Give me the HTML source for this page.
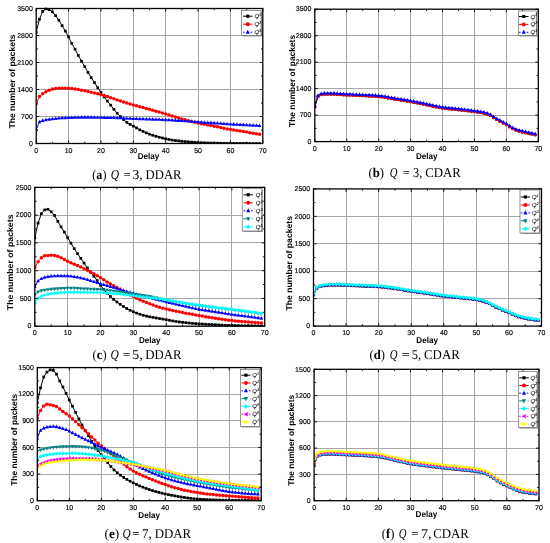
<!DOCTYPE html><html><head><meta charset="utf-8"><style>html,body{margin:0;padding:0;background:#fff;}svg{display:block;}</style></head><body><svg width="550" height="543" viewBox="0 0 550 543" text-rendering="geometricPrecision"><g stroke="#a6a6a6" stroke-width="1"><line x1="68.50" y1="8.50" x2="68.50" y2="143.50" /><line x1="100.50" y1="8.50" x2="100.50" y2="143.50" /><line x1="133.50" y1="8.50" x2="133.50" y2="143.50" /><line x1="165.50" y1="8.50" x2="165.50" y2="143.50" /><line x1="198.50" y1="8.50" x2="198.50" y2="143.50" /><line x1="230.50" y1="8.50" x2="230.50" y2="143.50" /><line x1="36.20" y1="116.50" x2="262.80" y2="116.50" /><line x1="36.20" y1="89.50" x2="262.80" y2="89.50" /><line x1="36.20" y1="62.50" x2="262.80" y2="62.50" /><line x1="36.20" y1="35.50" x2="262.80" y2="35.50" /></g><g clip-path="url(#clipa)"><path d="M36.20 32.41 L39.44 19.30 L42.67 11.39 L45.91 8.81 L49.15 9.62 L52.39 11.82 L55.62 15.71 L58.86 20.23 L62.10 25.63 L65.33 31.10 L68.57 36.93 L71.81 43.41 L75.05 49.19 L78.28 55.40 L81.52 61.23 L84.76 66.63 L87.99 72.41 L91.23 77.59 L94.47 82.56 L97.71 87.64 L100.94 92.51 L104.18 96.92 L107.42 101.11 L110.65 105.16 L113.89 109.30 L117.13 113.31 L120.37 116.52 L123.60 119.61 L126.84 122.37 L130.08 124.41 L133.31 126.14 L136.55 127.92 L139.79 129.88 L143.03 131.39 L146.26 132.82 L149.50 134.20 L152.74 135.28 L155.97 136.29 L159.21 137.21 L162.45 137.98 L165.69 138.79 L168.92 139.49 L172.16 140.11 L175.40 140.52 L178.63 140.88 L181.87 141.24 L185.11 141.57 L188.35 141.86 L191.58 142.11 L194.82 142.34 L198.06 142.54 L201.29 142.69 L204.53 142.82 L207.77 142.94 L211.01 143.04 L214.24 143.11 L217.48 143.18 L220.72 143.23 L223.95 143.28 L227.19 143.32 L230.43 143.35 L233.67 143.37 L236.90 143.40 L240.14 143.42 L243.38 143.44 L246.61 143.46 L249.85 143.48 L253.09 143.49 L256.33 143.50 L259.56 143.50" fill="none" stroke="#000000" stroke-width="1.0"/><rect x="34.85" y="31.06" width="2.70" height="2.70" fill="#000000"/><rect x="38.09" y="17.95" width="2.70" height="2.70" fill="#000000"/><rect x="41.32" y="10.04" width="2.70" height="2.70" fill="#000000"/><rect x="44.56" y="7.46" width="2.70" height="2.70" fill="#000000"/><rect x="47.80" y="8.27" width="2.70" height="2.70" fill="#000000"/><rect x="51.04" y="10.47" width="2.70" height="2.70" fill="#000000"/><rect x="54.27" y="14.36" width="2.70" height="2.70" fill="#000000"/><rect x="57.51" y="18.88" width="2.70" height="2.70" fill="#000000"/><rect x="60.75" y="24.28" width="2.70" height="2.70" fill="#000000"/><rect x="63.98" y="29.75" width="2.70" height="2.70" fill="#000000"/><rect x="67.22" y="35.58" width="2.70" height="2.70" fill="#000000"/><rect x="70.46" y="42.06" width="2.70" height="2.70" fill="#000000"/><rect x="73.70" y="47.84" width="2.70" height="2.70" fill="#000000"/><rect x="76.93" y="54.05" width="2.70" height="2.70" fill="#000000"/><rect x="80.17" y="59.88" width="2.70" height="2.70" fill="#000000"/><rect x="83.41" y="65.28" width="2.70" height="2.70" fill="#000000"/><rect x="86.64" y="71.06" width="2.70" height="2.70" fill="#000000"/><rect x="89.88" y="76.24" width="2.70" height="2.70" fill="#000000"/><rect x="93.12" y="81.21" width="2.70" height="2.70" fill="#000000"/><rect x="96.36" y="86.29" width="2.70" height="2.70" fill="#000000"/><rect x="99.59" y="91.16" width="2.70" height="2.70" fill="#000000"/><rect x="102.83" y="95.57" width="2.70" height="2.70" fill="#000000"/><rect x="106.07" y="99.76" width="2.70" height="2.70" fill="#000000"/><rect x="109.30" y="103.81" width="2.70" height="2.70" fill="#000000"/><rect x="112.54" y="107.95" width="2.70" height="2.70" fill="#000000"/><rect x="115.78" y="111.96" width="2.70" height="2.70" fill="#000000"/><rect x="119.02" y="115.17" width="2.70" height="2.70" fill="#000000"/><rect x="122.25" y="118.26" width="2.70" height="2.70" fill="#000000"/><rect x="125.49" y="121.02" width="2.70" height="2.70" fill="#000000"/><rect x="128.73" y="123.06" width="2.70" height="2.70" fill="#000000"/><rect x="131.96" y="124.79" width="2.70" height="2.70" fill="#000000"/><rect x="135.20" y="126.57" width="2.70" height="2.70" fill="#000000"/><rect x="138.44" y="128.53" width="2.70" height="2.70" fill="#000000"/><rect x="141.68" y="130.04" width="2.70" height="2.70" fill="#000000"/><rect x="144.91" y="131.47" width="2.70" height="2.70" fill="#000000"/><rect x="148.15" y="132.85" width="2.70" height="2.70" fill="#000000"/><rect x="151.39" y="133.93" width="2.70" height="2.70" fill="#000000"/><rect x="154.62" y="134.94" width="2.70" height="2.70" fill="#000000"/><rect x="157.86" y="135.86" width="2.70" height="2.70" fill="#000000"/><rect x="161.10" y="136.63" width="2.70" height="2.70" fill="#000000"/><rect x="164.34" y="137.44" width="2.70" height="2.70" fill="#000000"/><rect x="167.57" y="138.14" width="2.70" height="2.70" fill="#000000"/><rect x="170.81" y="138.76" width="2.70" height="2.70" fill="#000000"/><rect x="174.05" y="139.17" width="2.70" height="2.70" fill="#000000"/><rect x="177.28" y="139.53" width="2.70" height="2.70" fill="#000000"/><rect x="180.52" y="139.89" width="2.70" height="2.70" fill="#000000"/><rect x="183.76" y="140.22" width="2.70" height="2.70" fill="#000000"/><rect x="187.00" y="140.51" width="2.70" height="2.70" fill="#000000"/><rect x="190.23" y="140.76" width="2.70" height="2.70" fill="#000000"/><rect x="193.47" y="140.99" width="2.70" height="2.70" fill="#000000"/><rect x="196.71" y="141.19" width="2.70" height="2.70" fill="#000000"/><rect x="199.94" y="141.34" width="2.70" height="2.70" fill="#000000"/><rect x="203.18" y="141.47" width="2.70" height="2.70" fill="#000000"/><rect x="206.42" y="141.59" width="2.70" height="2.70" fill="#000000"/><rect x="209.66" y="141.69" width="2.70" height="2.70" fill="#000000"/><rect x="212.89" y="141.76" width="2.70" height="2.70" fill="#000000"/><rect x="216.13" y="141.83" width="2.70" height="2.70" fill="#000000"/><rect x="219.37" y="141.88" width="2.70" height="2.70" fill="#000000"/><rect x="222.60" y="141.93" width="2.70" height="2.70" fill="#000000"/><rect x="225.84" y="141.97" width="2.70" height="2.70" fill="#000000"/><rect x="229.08" y="142.00" width="2.70" height="2.70" fill="#000000"/><rect x="232.32" y="142.02" width="2.70" height="2.70" fill="#000000"/><rect x="235.55" y="142.05" width="2.70" height="2.70" fill="#000000"/><rect x="238.79" y="142.07" width="2.70" height="2.70" fill="#000000"/><rect x="242.03" y="142.09" width="2.70" height="2.70" fill="#000000"/><rect x="245.26" y="142.11" width="2.70" height="2.70" fill="#000000"/><rect x="248.50" y="142.13" width="2.70" height="2.70" fill="#000000"/><rect x="251.74" y="142.14" width="2.70" height="2.70" fill="#000000"/><rect x="254.98" y="142.15" width="2.70" height="2.70" fill="#000000"/><rect x="258.21" y="142.15" width="2.70" height="2.70" fill="#000000"/><path d="M36.20 103.73 L39.44 96.60 L42.67 93.74 L45.91 91.81 L49.15 90.19 L52.39 89.11 L55.62 88.54 L58.86 88.24 L62.10 88.19 L65.33 88.22 L68.57 88.27 L71.81 88.59 L75.05 89.11 L78.28 89.61 L81.52 90.15 L84.76 90.77 L87.99 91.49 L91.23 92.23 L94.47 92.95 L97.71 93.69 L100.94 94.51 L104.18 95.47 L107.42 96.55 L110.65 97.69 L113.89 98.83 L117.13 99.91 L120.37 100.95 L123.60 101.98 L126.84 102.98 L130.08 103.97 L133.31 104.93 L136.55 105.85 L139.79 106.73 L143.03 107.60 L146.26 108.47 L149.50 109.36 L152.74 110.27 L155.97 111.19 L159.21 112.11 L162.45 113.05 L165.69 113.99 L168.92 114.97 L172.16 115.97 L175.40 116.98 L178.63 117.96 L181.87 118.89 L185.11 119.79 L188.35 120.67 L191.58 121.51 L194.82 122.31 L198.06 123.06 L201.29 123.73 L204.53 124.35 L207.77 124.93 L211.01 125.52 L214.24 126.14 L217.48 126.81 L220.72 127.50 L223.95 128.20 L227.19 128.88 L230.43 129.50 L233.67 130.06 L236.90 130.59 L240.14 131.09 L243.38 131.60 L246.61 132.12 L249.85 132.66 L253.09 133.21 L256.33 133.76 L259.56 134.32" fill="none" stroke="#ff0000" stroke-width="1.0"/><circle cx="36.20" cy="103.73" r="1.75" fill="#ff0000"/><circle cx="39.44" cy="96.60" r="1.75" fill="#ff0000"/><circle cx="42.67" cy="93.74" r="1.75" fill="#ff0000"/><circle cx="45.91" cy="91.81" r="1.75" fill="#ff0000"/><circle cx="49.15" cy="90.19" r="1.75" fill="#ff0000"/><circle cx="52.39" cy="89.11" r="1.75" fill="#ff0000"/><circle cx="55.62" cy="88.54" r="1.75" fill="#ff0000"/><circle cx="58.86" cy="88.24" r="1.75" fill="#ff0000"/><circle cx="62.10" cy="88.19" r="1.75" fill="#ff0000"/><circle cx="65.33" cy="88.22" r="1.75" fill="#ff0000"/><circle cx="68.57" cy="88.27" r="1.75" fill="#ff0000"/><circle cx="71.81" cy="88.59" r="1.75" fill="#ff0000"/><circle cx="75.05" cy="89.11" r="1.75" fill="#ff0000"/><circle cx="78.28" cy="89.61" r="1.75" fill="#ff0000"/><circle cx="81.52" cy="90.15" r="1.75" fill="#ff0000"/><circle cx="84.76" cy="90.77" r="1.75" fill="#ff0000"/><circle cx="87.99" cy="91.49" r="1.75" fill="#ff0000"/><circle cx="91.23" cy="92.23" r="1.75" fill="#ff0000"/><circle cx="94.47" cy="92.95" r="1.75" fill="#ff0000"/><circle cx="97.71" cy="93.69" r="1.75" fill="#ff0000"/><circle cx="100.94" cy="94.51" r="1.75" fill="#ff0000"/><circle cx="104.18" cy="95.47" r="1.75" fill="#ff0000"/><circle cx="107.42" cy="96.55" r="1.75" fill="#ff0000"/><circle cx="110.65" cy="97.69" r="1.75" fill="#ff0000"/><circle cx="113.89" cy="98.83" r="1.75" fill="#ff0000"/><circle cx="117.13" cy="99.91" r="1.75" fill="#ff0000"/><circle cx="120.37" cy="100.95" r="1.75" fill="#ff0000"/><circle cx="123.60" cy="101.98" r="1.75" fill="#ff0000"/><circle cx="126.84" cy="102.98" r="1.75" fill="#ff0000"/><circle cx="130.08" cy="103.97" r="1.75" fill="#ff0000"/><circle cx="133.31" cy="104.93" r="1.75" fill="#ff0000"/><circle cx="136.55" cy="105.85" r="1.75" fill="#ff0000"/><circle cx="139.79" cy="106.73" r="1.75" fill="#ff0000"/><circle cx="143.03" cy="107.60" r="1.75" fill="#ff0000"/><circle cx="146.26" cy="108.47" r="1.75" fill="#ff0000"/><circle cx="149.50" cy="109.36" r="1.75" fill="#ff0000"/><circle cx="152.74" cy="110.27" r="1.75" fill="#ff0000"/><circle cx="155.97" cy="111.19" r="1.75" fill="#ff0000"/><circle cx="159.21" cy="112.11" r="1.75" fill="#ff0000"/><circle cx="162.45" cy="113.05" r="1.75" fill="#ff0000"/><circle cx="165.69" cy="113.99" r="1.75" fill="#ff0000"/><circle cx="168.92" cy="114.97" r="1.75" fill="#ff0000"/><circle cx="172.16" cy="115.97" r="1.75" fill="#ff0000"/><circle cx="175.40" cy="116.98" r="1.75" fill="#ff0000"/><circle cx="178.63" cy="117.96" r="1.75" fill="#ff0000"/><circle cx="181.87" cy="118.89" r="1.75" fill="#ff0000"/><circle cx="185.11" cy="119.79" r="1.75" fill="#ff0000"/><circle cx="188.35" cy="120.67" r="1.75" fill="#ff0000"/><circle cx="191.58" cy="121.51" r="1.75" fill="#ff0000"/><circle cx="194.82" cy="122.31" r="1.75" fill="#ff0000"/><circle cx="198.06" cy="123.06" r="1.75" fill="#ff0000"/><circle cx="201.29" cy="123.73" r="1.75" fill="#ff0000"/><circle cx="204.53" cy="124.35" r="1.75" fill="#ff0000"/><circle cx="207.77" cy="124.93" r="1.75" fill="#ff0000"/><circle cx="211.01" cy="125.52" r="1.75" fill="#ff0000"/><circle cx="214.24" cy="126.14" r="1.75" fill="#ff0000"/><circle cx="217.48" cy="126.81" r="1.75" fill="#ff0000"/><circle cx="220.72" cy="127.50" r="1.75" fill="#ff0000"/><circle cx="223.95" cy="128.20" r="1.75" fill="#ff0000"/><circle cx="227.19" cy="128.88" r="1.75" fill="#ff0000"/><circle cx="230.43" cy="129.50" r="1.75" fill="#ff0000"/><circle cx="233.67" cy="130.06" r="1.75" fill="#ff0000"/><circle cx="236.90" cy="130.59" r="1.75" fill="#ff0000"/><circle cx="240.14" cy="131.09" r="1.75" fill="#ff0000"/><circle cx="243.38" cy="131.60" r="1.75" fill="#ff0000"/><circle cx="246.61" cy="132.12" r="1.75" fill="#ff0000"/><circle cx="249.85" cy="132.66" r="1.75" fill="#ff0000"/><circle cx="253.09" cy="133.21" r="1.75" fill="#ff0000"/><circle cx="256.33" cy="133.76" r="1.75" fill="#ff0000"/><circle cx="259.56" cy="134.32" r="1.75" fill="#ff0000"/><path d="M36.20 129.50 L39.44 121.90 L42.67 120.51 L45.91 119.86 L49.15 119.39 L52.39 118.94 L55.62 118.55 L58.86 118.24 L62.10 118.00 L65.33 117.80 L68.57 117.66 L71.81 117.54 L75.05 117.44 L78.28 117.35 L81.52 117.29 L84.76 117.27 L87.99 117.28 L91.23 117.31 L94.47 117.36 L97.71 117.41 L100.94 117.46 L104.18 117.52 L107.42 117.59 L110.65 117.66 L113.89 117.75 L117.13 117.85 L120.37 117.97 L123.60 118.13 L126.84 118.30 L130.08 118.47 L133.31 118.62 L136.55 118.75 L139.79 118.87 L143.03 118.97 L146.26 119.08 L149.50 119.18 L152.74 119.28 L155.97 119.39 L159.21 119.51 L162.45 119.64 L165.69 119.78 L168.92 119.94 L172.16 120.12 L175.40 120.32 L178.63 120.53 L181.87 120.76 L185.11 120.99 L188.35 121.22 L191.58 121.45 L194.82 121.68 L198.06 121.90 L201.29 122.12 L204.53 122.34 L207.77 122.57 L211.01 122.80 L214.24 123.03 L217.48 123.26 L220.72 123.48 L223.95 123.70 L227.19 123.90 L230.43 124.10 L233.67 124.29 L236.90 124.47 L240.14 124.65 L243.38 124.82 L246.61 124.99 L249.85 125.15 L253.09 125.31 L256.33 125.46 L259.56 125.60" fill="none" stroke="#0000ff" stroke-width="1.0"/><path d="M36.20 127.30L38.00 130.86L34.40 130.86Z" fill="#0000ff"/><path d="M39.44 119.70L41.24 123.26L37.64 123.26Z" fill="#0000ff"/><path d="M42.67 118.31L44.47 121.88L40.87 121.88Z" fill="#0000ff"/><path d="M45.91 117.66L47.71 121.22L44.11 121.22Z" fill="#0000ff"/><path d="M49.15 117.19L50.95 120.76L47.35 120.76Z" fill="#0000ff"/><path d="M52.39 116.74L54.19 120.31L50.59 120.31Z" fill="#0000ff"/><path d="M55.62 116.35L57.42 119.91L53.82 119.91Z" fill="#0000ff"/><path d="M58.86 116.04L60.66 119.60L57.06 119.60Z" fill="#0000ff"/><path d="M62.10 115.80L63.90 119.36L60.30 119.36Z" fill="#0000ff"/><path d="M65.33 115.60L67.13 119.16L63.53 119.16Z" fill="#0000ff"/><path d="M68.57 115.46L70.37 119.02L66.77 119.02Z" fill="#0000ff"/><path d="M71.81 115.34L73.61 118.91L70.01 118.91Z" fill="#0000ff"/><path d="M75.05 115.24L76.85 118.80L73.25 118.80Z" fill="#0000ff"/><path d="M78.28 115.15L80.08 118.72L76.48 118.72Z" fill="#0000ff"/><path d="M81.52 115.09L83.32 118.66L79.72 118.66Z" fill="#0000ff"/><path d="M84.76 115.07L86.56 118.64L82.96 118.64Z" fill="#0000ff"/><path d="M87.99 115.08L89.79 118.65L86.19 118.65Z" fill="#0000ff"/><path d="M91.23 115.11L93.03 118.68L89.43 118.68Z" fill="#0000ff"/><path d="M94.47 115.16L96.27 118.72L92.67 118.72Z" fill="#0000ff"/><path d="M97.71 115.21L99.51 118.78L95.91 118.78Z" fill="#0000ff"/><path d="M100.94 115.26L102.74 118.83L99.14 118.83Z" fill="#0000ff"/><path d="M104.18 115.32L105.98 118.88L102.38 118.88Z" fill="#0000ff"/><path d="M107.42 115.39L109.22 118.95L105.62 118.95Z" fill="#0000ff"/><path d="M110.65 115.46L112.45 119.03L108.85 119.03Z" fill="#0000ff"/><path d="M113.89 115.55L115.69 119.12L112.09 119.12Z" fill="#0000ff"/><path d="M117.13 115.65L118.93 119.21L115.33 119.21Z" fill="#0000ff"/><path d="M120.37 115.77L122.17 119.34L118.57 119.34Z" fill="#0000ff"/><path d="M123.60 115.93L125.40 119.50L121.80 119.50Z" fill="#0000ff"/><path d="M126.84 116.10L128.64 119.67L125.04 119.67Z" fill="#0000ff"/><path d="M130.08 116.27L131.88 119.84L128.28 119.84Z" fill="#0000ff"/><path d="M133.31 116.42L135.11 119.99L131.51 119.99Z" fill="#0000ff"/><path d="M136.55 116.55L138.35 120.11L134.75 120.11Z" fill="#0000ff"/><path d="M139.79 116.67L141.59 120.23L137.99 120.23Z" fill="#0000ff"/><path d="M143.03 116.77L144.83 120.34L141.23 120.34Z" fill="#0000ff"/><path d="M146.26 116.88L148.06 120.44L144.46 120.44Z" fill="#0000ff"/><path d="M149.50 116.98L151.30 120.54L147.70 120.54Z" fill="#0000ff"/><path d="M152.74 117.08L154.54 120.65L150.94 120.65Z" fill="#0000ff"/><path d="M155.97 117.19L157.77 120.76L154.17 120.76Z" fill="#0000ff"/><path d="M159.21 117.31L161.01 120.87L157.41 120.87Z" fill="#0000ff"/><path d="M162.45 117.44L164.25 121.00L160.65 121.00Z" fill="#0000ff"/><path d="M165.69 117.58L167.49 121.14L163.89 121.14Z" fill="#0000ff"/><path d="M168.92 117.74L170.72 121.30L167.12 121.30Z" fill="#0000ff"/><path d="M172.16 117.92L173.96 121.49L170.36 121.49Z" fill="#0000ff"/><path d="M175.40 118.12L177.20 121.68L173.60 121.68Z" fill="#0000ff"/><path d="M178.63 118.33L180.43 121.90L176.83 121.90Z" fill="#0000ff"/><path d="M181.87 118.56L183.67 122.12L180.07 122.12Z" fill="#0000ff"/><path d="M185.11 118.79L186.91 122.35L183.31 122.35Z" fill="#0000ff"/><path d="M188.35 119.02L190.15 122.58L186.55 122.58Z" fill="#0000ff"/><path d="M191.58 119.25L193.38 122.81L189.78 122.81Z" fill="#0000ff"/><path d="M194.82 119.48L196.62 123.04L193.02 123.04Z" fill="#0000ff"/><path d="M198.06 119.70L199.86 123.26L196.26 123.26Z" fill="#0000ff"/><path d="M201.29 119.92L203.09 123.48L199.49 123.48Z" fill="#0000ff"/><path d="M204.53 120.14L206.33 123.71L202.73 123.71Z" fill="#0000ff"/><path d="M207.77 120.37L209.57 123.94L205.97 123.94Z" fill="#0000ff"/><path d="M211.01 120.60L212.81 124.17L209.21 124.17Z" fill="#0000ff"/><path d="M214.24 120.83L216.04 124.40L212.44 124.40Z" fill="#0000ff"/><path d="M217.48 121.06L219.28 124.62L215.68 124.62Z" fill="#0000ff"/><path d="M220.72 121.28L222.52 124.85L218.92 124.85Z" fill="#0000ff"/><path d="M223.95 121.50L225.75 125.06L222.15 125.06Z" fill="#0000ff"/><path d="M227.19 121.70L228.99 125.27L225.39 125.27Z" fill="#0000ff"/><path d="M230.43 121.90L232.23 125.46L228.63 125.46Z" fill="#0000ff"/><path d="M233.67 122.09L235.47 125.65L231.87 125.65Z" fill="#0000ff"/><path d="M236.90 122.27L238.70 125.83L235.10 125.83Z" fill="#0000ff"/><path d="M240.14 122.45L241.94 126.01L238.34 126.01Z" fill="#0000ff"/><path d="M243.38 122.62L245.18 126.18L241.58 126.18Z" fill="#0000ff"/><path d="M246.61 122.79L248.41 126.35L244.81 126.35Z" fill="#0000ff"/><path d="M249.85 122.95L251.65 126.51L248.05 126.51Z" fill="#0000ff"/><path d="M253.09 123.11L254.89 126.67L251.29 126.67Z" fill="#0000ff"/><path d="M256.33 123.26L258.13 126.82L254.53 126.82Z" fill="#0000ff"/><path d="M259.56 123.40L261.36 126.97L257.76 126.97Z" fill="#0000ff"/></g><clipPath id="clipa"><rect x="36.20" y="7.50" width="226.60" height="136.00"/></clipPath><path d="M36.20 143.50v-3.0M36.20 8.50v3.0M52.39 143.50v-1.8M52.39 8.50v1.8M68.57 143.50v-3.0M68.57 8.50v3.0M84.76 143.50v-1.8M84.76 8.50v1.8M100.94 143.50v-3.0M100.94 8.50v3.0M117.13 143.50v-1.8M117.13 8.50v1.8M133.31 143.50v-3.0M133.31 8.50v3.0M149.50 143.50v-1.8M149.50 8.50v1.8M165.69 143.50v-3.0M165.69 8.50v3.0M181.87 143.50v-1.8M181.87 8.50v1.8M198.06 143.50v-3.0M198.06 8.50v3.0M214.24 143.50v-1.8M214.24 8.50v1.8M230.43 143.50v-3.0M230.43 8.50v3.0M246.61 143.50v-1.8M246.61 8.50v1.8M262.80 143.50v-3.0M262.80 8.50v3.0M36.20 143.50h3.0M262.80 143.50h-3.0M36.20 130.00h1.8M262.80 130.00h-1.8M36.20 116.50h3.0M262.80 116.50h-3.0M36.20 103.00h1.8M262.80 103.00h-1.8M36.20 89.50h3.0M262.80 89.50h-3.0M36.20 76.00h1.8M262.80 76.00h-1.8M36.20 62.50h3.0M262.80 62.50h-3.0M36.20 49.00h1.8M262.80 49.00h-1.8M36.20 35.50h3.0M262.80 35.50h-3.0M36.20 22.00h1.8M262.80 22.00h-1.8M36.20 8.50h3.0M262.80 8.50h-3.0" stroke="#000" stroke-width="0.9" fill="none"/><rect x="36.20" y="8.50" width="226.60" height="135.00" fill="none" stroke="#000" stroke-width="1.3"/><g font-family='"Liberation Sans", Arial, sans-serif' font-size="7" fill="#000" stroke="#000" stroke-width="0.15"><text x="36.20" y="152.50" text-anchor="middle">0</text><text x="68.57" y="152.50" text-anchor="middle">10</text><text x="100.94" y="152.50" text-anchor="middle">20</text><text x="133.31" y="152.50" text-anchor="middle">30</text><text x="165.69" y="152.50" text-anchor="middle">40</text><text x="198.06" y="152.50" text-anchor="middle">50</text><text x="230.43" y="152.50" text-anchor="middle">60</text><text x="262.80" y="152.50" text-anchor="middle">70</text><text x="32.80" y="145.70" text-anchor="end">0</text><text x="32.80" y="118.70" text-anchor="end">700</text><text x="32.80" y="91.70" text-anchor="end">1400</text><text x="32.80" y="64.70" text-anchor="end">2100</text><text x="32.80" y="37.70" text-anchor="end">2800</text><text x="32.80" y="10.70" text-anchor="end">3500</text></g><text x="137.70" y="158.50" font-family='"Liberation Sans", Arial, sans-serif' font-weight="bold" font-size="8.5" textLength="21.6" lengthAdjust="spacingAndGlyphs" fill="#000">Delay</text><text transform="translate(14.50,81.50) rotate(-90)" x="0" y="0" text-anchor="middle" font-family='"Liberation Sans", Arial, sans-serif' font-weight="bold" font-size="8.4" textLength="94.2" lengthAdjust="spacingAndGlyphs" fill="#000">The number of packets</text><rect x="242.50" y="11.50" width="19.50" height="25.00" fill="#9a9a9a"/><rect x="241.50" y="10.50" width="19.50" height="25.00" fill="#fff" stroke="#555" stroke-width="0.6"/><line x1="243.00" y1="16.20" x2="252.50" y2="16.20" stroke="#000000" stroke-width="1.0"/><rect x="246.20" y="14.65" width="3.10" height="3.10" fill="#000000"/><text x="254.50" y="18.20" font-family='"Liberation Sans", Arial, sans-serif' font-style="italic" font-size="5.9" fill="#000" stroke="#000" stroke-width="0.05">Q<tspan font-size="3.8" dy="-2.3" stroke-width="0.05">1</tspan></text><line x1="243.00" y1="24.20" x2="252.50" y2="24.20" stroke="#ff0000" stroke-width="1.0"/><circle cx="247.75" cy="24.20" r="2.01" fill="#ff0000"/><text x="254.50" y="26.20" font-family='"Liberation Sans", Arial, sans-serif' font-style="italic" font-size="5.9" fill="#000" stroke="#000" stroke-width="0.05">Q<tspan font-size="3.8" dy="-2.3" stroke-width="0.05">2</tspan></text><line x1="243.00" y1="32.20" x2="252.50" y2="32.20" stroke="#0000ff" stroke-width="1.0" stroke-dasharray="1.6 2.2"/><path d="M247.75 29.67L249.82 33.77L245.68 33.77Z" fill="#0000ff"/><text x="254.50" y="34.20" font-family='"Liberation Sans", Arial, sans-serif' font-style="italic" font-size="5.9" fill="#000" stroke="#000" stroke-width="0.05">Q<tspan font-size="3.8" dy="-2.3" stroke-width="0.05">3</tspan></text><g stroke="#a6a6a6" stroke-width="1"><line x1="346.50" y1="9.20" x2="346.50" y2="141.60" /><line x1="378.50" y1="9.20" x2="378.50" y2="141.60" /><line x1="410.50" y1="9.20" x2="410.50" y2="141.60" /><line x1="442.50" y1="9.20" x2="442.50" y2="141.60" /><line x1="474.50" y1="9.20" x2="474.50" y2="141.60" /><line x1="506.50" y1="9.20" x2="506.50" y2="141.60" /><line x1="314.80" y1="115.50" x2="538.30" y2="115.50" /><line x1="314.80" y1="88.50" x2="538.30" y2="88.50" /><line x1="314.80" y1="62.50" x2="538.30" y2="62.50" /><line x1="314.80" y1="35.50" x2="538.30" y2="35.50" /></g><g clip-path="url(#clipb)"><path d="M314.80 106.84 L317.99 96.58 L321.19 94.69 L324.38 94.24 L327.57 94.24 L330.76 94.24 L333.96 94.30 L337.15 94.46 L340.34 94.67 L343.54 94.89 L346.73 95.07 L349.92 95.21 L353.11 95.35 L356.31 95.48 L359.50 95.61 L362.69 95.75 L365.89 95.89 L369.08 96.03 L372.27 96.18 L375.46 96.36 L378.66 96.58 L381.85 96.94 L385.04 97.45 L388.24 98.05 L391.43 98.67 L394.62 99.23 L397.81 99.74 L401.01 100.23 L404.20 100.72 L407.39 101.23 L410.59 101.77 L413.78 102.35 L416.97 102.97 L420.16 103.61 L423.36 104.26 L426.55 104.91 L429.74 105.58 L432.94 106.28 L436.13 106.97 L439.32 107.60 L442.51 108.12 L445.71 108.53 L448.90 108.87 L452.09 109.18 L455.29 109.49 L458.48 109.82 L461.67 110.18 L464.86 110.54 L468.06 110.91 L471.25 111.30 L474.44 111.72 L477.64 112.15 L480.83 112.66 L484.02 113.31 L487.21 114.17 L490.41 115.50 L493.60 117.77 L496.79 119.66 L499.99 121.36 L503.18 123.06 L506.37 124.77 L509.56 126.85 L512.76 128.74 L515.95 130.25 L519.14 131.20 L522.34 132.07 L525.53 132.79 L528.72 133.47 L531.91 134.15 L535.11 134.83" fill="none" stroke="#000000" stroke-width="1.0"/><rect x="313.45" y="105.49" width="2.70" height="2.70" fill="#000000"/><rect x="316.64" y="95.23" width="2.70" height="2.70" fill="#000000"/><rect x="319.84" y="93.34" width="2.70" height="2.70" fill="#000000"/><rect x="323.03" y="92.89" width="2.70" height="2.70" fill="#000000"/><rect x="326.22" y="92.89" width="2.70" height="2.70" fill="#000000"/><rect x="329.41" y="92.89" width="2.70" height="2.70" fill="#000000"/><rect x="332.61" y="92.95" width="2.70" height="2.70" fill="#000000"/><rect x="335.80" y="93.11" width="2.70" height="2.70" fill="#000000"/><rect x="338.99" y="93.32" width="2.70" height="2.70" fill="#000000"/><rect x="342.19" y="93.54" width="2.70" height="2.70" fill="#000000"/><rect x="345.38" y="93.72" width="2.70" height="2.70" fill="#000000"/><rect x="348.57" y="93.86" width="2.70" height="2.70" fill="#000000"/><rect x="351.76" y="94.00" width="2.70" height="2.70" fill="#000000"/><rect x="354.96" y="94.13" width="2.70" height="2.70" fill="#000000"/><rect x="358.15" y="94.26" width="2.70" height="2.70" fill="#000000"/><rect x="361.34" y="94.40" width="2.70" height="2.70" fill="#000000"/><rect x="364.54" y="94.54" width="2.70" height="2.70" fill="#000000"/><rect x="367.73" y="94.68" width="2.70" height="2.70" fill="#000000"/><rect x="370.92" y="94.83" width="2.70" height="2.70" fill="#000000"/><rect x="374.11" y="95.01" width="2.70" height="2.70" fill="#000000"/><rect x="377.31" y="95.23" width="2.70" height="2.70" fill="#000000"/><rect x="380.50" y="95.59" width="2.70" height="2.70" fill="#000000"/><rect x="383.69" y="96.10" width="2.70" height="2.70" fill="#000000"/><rect x="386.89" y="96.70" width="2.70" height="2.70" fill="#000000"/><rect x="390.08" y="97.32" width="2.70" height="2.70" fill="#000000"/><rect x="393.27" y="97.88" width="2.70" height="2.70" fill="#000000"/><rect x="396.46" y="98.39" width="2.70" height="2.70" fill="#000000"/><rect x="399.66" y="98.88" width="2.70" height="2.70" fill="#000000"/><rect x="402.85" y="99.37" width="2.70" height="2.70" fill="#000000"/><rect x="406.04" y="99.88" width="2.70" height="2.70" fill="#000000"/><rect x="409.24" y="100.42" width="2.70" height="2.70" fill="#000000"/><rect x="412.43" y="101.00" width="2.70" height="2.70" fill="#000000"/><rect x="415.62" y="101.62" width="2.70" height="2.70" fill="#000000"/><rect x="418.81" y="102.26" width="2.70" height="2.70" fill="#000000"/><rect x="422.01" y="102.91" width="2.70" height="2.70" fill="#000000"/><rect x="425.20" y="103.56" width="2.70" height="2.70" fill="#000000"/><rect x="428.39" y="104.23" width="2.70" height="2.70" fill="#000000"/><rect x="431.59" y="104.93" width="2.70" height="2.70" fill="#000000"/><rect x="434.78" y="105.62" width="2.70" height="2.70" fill="#000000"/><rect x="437.97" y="106.25" width="2.70" height="2.70" fill="#000000"/><rect x="441.16" y="106.77" width="2.70" height="2.70" fill="#000000"/><rect x="444.36" y="107.18" width="2.70" height="2.70" fill="#000000"/><rect x="447.55" y="107.52" width="2.70" height="2.70" fill="#000000"/><rect x="450.74" y="107.83" width="2.70" height="2.70" fill="#000000"/><rect x="453.94" y="108.14" width="2.70" height="2.70" fill="#000000"/><rect x="457.13" y="108.47" width="2.70" height="2.70" fill="#000000"/><rect x="460.32" y="108.83" width="2.70" height="2.70" fill="#000000"/><rect x="463.51" y="109.19" width="2.70" height="2.70" fill="#000000"/><rect x="466.71" y="109.56" width="2.70" height="2.70" fill="#000000"/><rect x="469.90" y="109.95" width="2.70" height="2.70" fill="#000000"/><rect x="473.09" y="110.37" width="2.70" height="2.70" fill="#000000"/><rect x="476.29" y="110.80" width="2.70" height="2.70" fill="#000000"/><rect x="479.48" y="111.31" width="2.70" height="2.70" fill="#000000"/><rect x="482.67" y="111.96" width="2.70" height="2.70" fill="#000000"/><rect x="485.86" y="112.82" width="2.70" height="2.70" fill="#000000"/><rect x="489.06" y="114.15" width="2.70" height="2.70" fill="#000000"/><rect x="492.25" y="116.42" width="2.70" height="2.70" fill="#000000"/><rect x="495.44" y="118.31" width="2.70" height="2.70" fill="#000000"/><rect x="498.64" y="120.01" width="2.70" height="2.70" fill="#000000"/><rect x="501.83" y="121.71" width="2.70" height="2.70" fill="#000000"/><rect x="505.02" y="123.42" width="2.70" height="2.70" fill="#000000"/><rect x="508.21" y="125.50" width="2.70" height="2.70" fill="#000000"/><rect x="511.41" y="127.39" width="2.70" height="2.70" fill="#000000"/><rect x="514.60" y="128.90" width="2.70" height="2.70" fill="#000000"/><rect x="517.79" y="129.85" width="2.70" height="2.70" fill="#000000"/><rect x="520.99" y="130.72" width="2.70" height="2.70" fill="#000000"/><rect x="524.18" y="131.44" width="2.70" height="2.70" fill="#000000"/><rect x="527.37" y="132.12" width="2.70" height="2.70" fill="#000000"/><rect x="530.56" y="132.80" width="2.70" height="2.70" fill="#000000"/><rect x="533.76" y="133.48" width="2.70" height="2.70" fill="#000000"/><path d="M314.80 106.68 L317.99 96.43 L321.19 94.54 L324.38 94.09 L327.57 94.09 L330.76 94.09 L333.96 94.15 L337.15 94.31 L340.34 94.52 L343.54 94.74 L346.73 94.92 L349.92 95.06 L353.11 95.20 L356.31 95.32 L359.50 95.46 L362.69 95.60 L365.89 95.74 L369.08 95.88 L372.27 96.03 L375.46 96.21 L378.66 96.43 L381.85 96.79 L385.04 97.30 L388.24 97.90 L391.43 98.51 L394.62 99.08 L397.81 99.59 L401.01 100.08 L404.20 100.57 L407.39 101.08 L410.59 101.62 L413.78 102.20 L416.97 102.82 L420.16 103.46 L423.36 104.11 L426.55 104.75 L429.74 105.42 L432.94 106.13 L436.13 106.82 L439.32 107.45 L442.51 107.97 L445.71 108.38 L448.90 108.72 L452.09 109.03 L455.29 109.34 L458.48 109.67 L461.67 110.03 L464.86 110.39 L468.06 110.76 L471.25 111.15 L474.44 111.56 L477.64 112.00 L480.83 112.51 L484.02 113.16 L487.21 114.02 L490.41 115.35 L493.60 117.62 L496.79 119.51 L499.99 121.21 L503.18 122.91 L506.37 124.61 L509.56 126.70 L512.76 128.59 L515.95 130.10 L519.14 131.05 L522.34 131.92 L525.53 132.63 L528.72 133.32 L531.91 134.00 L535.11 134.68" fill="none" stroke="#ff0000" stroke-width="1.0"/><circle cx="314.80" cy="106.68" r="1.75" fill="#ff0000"/><circle cx="317.99" cy="96.43" r="1.75" fill="#ff0000"/><circle cx="321.19" cy="94.54" r="1.75" fill="#ff0000"/><circle cx="324.38" cy="94.09" r="1.75" fill="#ff0000"/><circle cx="327.57" cy="94.09" r="1.75" fill="#ff0000"/><circle cx="330.76" cy="94.09" r="1.75" fill="#ff0000"/><circle cx="333.96" cy="94.15" r="1.75" fill="#ff0000"/><circle cx="337.15" cy="94.31" r="1.75" fill="#ff0000"/><circle cx="340.34" cy="94.52" r="1.75" fill="#ff0000"/><circle cx="343.54" cy="94.74" r="1.75" fill="#ff0000"/><circle cx="346.73" cy="94.92" r="1.75" fill="#ff0000"/><circle cx="349.92" cy="95.06" r="1.75" fill="#ff0000"/><circle cx="353.11" cy="95.20" r="1.75" fill="#ff0000"/><circle cx="356.31" cy="95.32" r="1.75" fill="#ff0000"/><circle cx="359.50" cy="95.46" r="1.75" fill="#ff0000"/><circle cx="362.69" cy="95.60" r="1.75" fill="#ff0000"/><circle cx="365.89" cy="95.74" r="1.75" fill="#ff0000"/><circle cx="369.08" cy="95.88" r="1.75" fill="#ff0000"/><circle cx="372.27" cy="96.03" r="1.75" fill="#ff0000"/><circle cx="375.46" cy="96.21" r="1.75" fill="#ff0000"/><circle cx="378.66" cy="96.43" r="1.75" fill="#ff0000"/><circle cx="381.85" cy="96.79" r="1.75" fill="#ff0000"/><circle cx="385.04" cy="97.30" r="1.75" fill="#ff0000"/><circle cx="388.24" cy="97.90" r="1.75" fill="#ff0000"/><circle cx="391.43" cy="98.51" r="1.75" fill="#ff0000"/><circle cx="394.62" cy="99.08" r="1.75" fill="#ff0000"/><circle cx="397.81" cy="99.59" r="1.75" fill="#ff0000"/><circle cx="401.01" cy="100.08" r="1.75" fill="#ff0000"/><circle cx="404.20" cy="100.57" r="1.75" fill="#ff0000"/><circle cx="407.39" cy="101.08" r="1.75" fill="#ff0000"/><circle cx="410.59" cy="101.62" r="1.75" fill="#ff0000"/><circle cx="413.78" cy="102.20" r="1.75" fill="#ff0000"/><circle cx="416.97" cy="102.82" r="1.75" fill="#ff0000"/><circle cx="420.16" cy="103.46" r="1.75" fill="#ff0000"/><circle cx="423.36" cy="104.11" r="1.75" fill="#ff0000"/><circle cx="426.55" cy="104.75" r="1.75" fill="#ff0000"/><circle cx="429.74" cy="105.42" r="1.75" fill="#ff0000"/><circle cx="432.94" cy="106.13" r="1.75" fill="#ff0000"/><circle cx="436.13" cy="106.82" r="1.75" fill="#ff0000"/><circle cx="439.32" cy="107.45" r="1.75" fill="#ff0000"/><circle cx="442.51" cy="107.97" r="1.75" fill="#ff0000"/><circle cx="445.71" cy="108.38" r="1.75" fill="#ff0000"/><circle cx="448.90" cy="108.72" r="1.75" fill="#ff0000"/><circle cx="452.09" cy="109.03" r="1.75" fill="#ff0000"/><circle cx="455.29" cy="109.34" r="1.75" fill="#ff0000"/><circle cx="458.48" cy="109.67" r="1.75" fill="#ff0000"/><circle cx="461.67" cy="110.03" r="1.75" fill="#ff0000"/><circle cx="464.86" cy="110.39" r="1.75" fill="#ff0000"/><circle cx="468.06" cy="110.76" r="1.75" fill="#ff0000"/><circle cx="471.25" cy="111.15" r="1.75" fill="#ff0000"/><circle cx="474.44" cy="111.56" r="1.75" fill="#ff0000"/><circle cx="477.64" cy="112.00" r="1.75" fill="#ff0000"/><circle cx="480.83" cy="112.51" r="1.75" fill="#ff0000"/><circle cx="484.02" cy="113.16" r="1.75" fill="#ff0000"/><circle cx="487.21" cy="114.02" r="1.75" fill="#ff0000"/><circle cx="490.41" cy="115.35" r="1.75" fill="#ff0000"/><circle cx="493.60" cy="117.62" r="1.75" fill="#ff0000"/><circle cx="496.79" cy="119.51" r="1.75" fill="#ff0000"/><circle cx="499.99" cy="121.21" r="1.75" fill="#ff0000"/><circle cx="503.18" cy="122.91" r="1.75" fill="#ff0000"/><circle cx="506.37" cy="124.61" r="1.75" fill="#ff0000"/><circle cx="509.56" cy="126.70" r="1.75" fill="#ff0000"/><circle cx="512.76" cy="128.59" r="1.75" fill="#ff0000"/><circle cx="515.95" cy="130.10" r="1.75" fill="#ff0000"/><circle cx="519.14" cy="131.05" r="1.75" fill="#ff0000"/><circle cx="522.34" cy="131.92" r="1.75" fill="#ff0000"/><circle cx="525.53" cy="132.63" r="1.75" fill="#ff0000"/><circle cx="528.72" cy="133.32" r="1.75" fill="#ff0000"/><circle cx="531.91" cy="134.00" r="1.75" fill="#ff0000"/><circle cx="535.11" cy="134.68" r="1.75" fill="#ff0000"/><path d="M314.80 105.78 L317.99 95.52 L321.19 93.63 L324.38 93.18 L327.57 93.18 L330.76 93.18 L333.96 93.24 L337.15 93.40 L340.34 93.61 L343.54 93.83 L346.73 94.01 L349.92 94.15 L353.11 94.29 L356.31 94.42 L359.50 94.55 L362.69 94.69 L365.89 94.83 L369.08 94.97 L372.27 95.12 L375.46 95.30 L378.66 95.52 L381.85 95.88 L385.04 96.39 L388.24 96.99 L391.43 97.61 L394.62 98.17 L397.81 98.68 L401.01 99.17 L404.20 99.66 L407.39 100.17 L410.59 100.71 L413.78 101.29 L416.97 101.91 L420.16 102.55 L423.36 103.20 L426.55 103.85 L429.74 104.52 L432.94 105.22 L436.13 105.92 L439.32 106.54 L442.51 107.06 L445.71 107.47 L448.90 107.81 L452.09 108.12 L455.29 108.43 L458.48 108.76 L461.67 109.12 L464.86 109.48 L468.06 109.85 L471.25 110.24 L474.44 110.66 L477.64 111.09 L480.83 111.60 L484.02 112.26 L487.21 113.12 L490.41 114.44 L493.60 116.71 L496.79 118.60 L499.99 120.30 L503.18 122.00 L506.37 123.71 L509.56 125.79 L512.76 127.68 L515.95 129.19 L519.14 130.14 L522.34 131.01 L525.53 131.73 L528.72 132.41 L531.91 133.09 L535.11 133.77" fill="none" stroke="#0000ff" stroke-width="1.0"/><path d="M314.80 103.58L316.60 107.14L313.00 107.14Z" fill="#0000ff"/><path d="M317.99 93.32L319.79 96.89L316.19 96.89Z" fill="#0000ff"/><path d="M321.19 91.43L322.99 95.00L319.39 95.00Z" fill="#0000ff"/><path d="M324.38 90.98L326.18 94.54L322.58 94.54Z" fill="#0000ff"/><path d="M327.57 90.98L329.37 94.54L325.77 94.54Z" fill="#0000ff"/><path d="M330.76 90.98L332.56 94.54L328.96 94.54Z" fill="#0000ff"/><path d="M333.96 91.04L335.76 94.61L332.16 94.61Z" fill="#0000ff"/><path d="M337.15 91.20L338.95 94.76L335.35 94.76Z" fill="#0000ff"/><path d="M340.34 91.41L342.14 94.97L338.54 94.97Z" fill="#0000ff"/><path d="M343.54 91.63L345.34 95.19L341.74 95.19Z" fill="#0000ff"/><path d="M346.73 91.81L348.53 95.38L344.93 95.38Z" fill="#0000ff"/><path d="M349.92 91.95L351.72 95.52L348.12 95.52Z" fill="#0000ff"/><path d="M353.11 92.09L354.91 95.65L351.31 95.65Z" fill="#0000ff"/><path d="M356.31 92.22L358.11 95.78L354.51 95.78Z" fill="#0000ff"/><path d="M359.50 92.35L361.30 95.91L357.70 95.91Z" fill="#0000ff"/><path d="M362.69 92.49L364.49 96.06L360.89 96.06Z" fill="#0000ff"/><path d="M365.89 92.63L367.69 96.20L364.09 96.20Z" fill="#0000ff"/><path d="M369.08 92.77L370.88 96.34L367.28 96.34Z" fill="#0000ff"/><path d="M372.27 92.92L374.07 96.49L370.47 96.49Z" fill="#0000ff"/><path d="M375.46 93.10L377.26 96.66L373.66 96.66Z" fill="#0000ff"/><path d="M378.66 93.32L380.46 96.89L376.86 96.89Z" fill="#0000ff"/><path d="M381.85 93.68L383.65 97.24L380.05 97.24Z" fill="#0000ff"/><path d="M385.04 94.19L386.84 97.75L383.24 97.75Z" fill="#0000ff"/><path d="M388.24 94.79L390.04 98.35L386.44 98.35Z" fill="#0000ff"/><path d="M391.43 95.41L393.23 98.97L389.63 98.97Z" fill="#0000ff"/><path d="M394.62 95.97L396.42 99.54L392.82 99.54Z" fill="#0000ff"/><path d="M397.81 96.48L399.61 100.04L396.01 100.04Z" fill="#0000ff"/><path d="M401.01 96.97L402.81 100.53L399.21 100.53Z" fill="#0000ff"/><path d="M404.20 97.46L406.00 101.02L402.40 101.02Z" fill="#0000ff"/><path d="M407.39 97.97L409.19 101.53L405.59 101.53Z" fill="#0000ff"/><path d="M410.59 98.51L412.39 102.07L408.79 102.07Z" fill="#0000ff"/><path d="M413.78 99.09L415.58 102.66L411.98 102.66Z" fill="#0000ff"/><path d="M416.97 99.71L418.77 103.28L415.17 103.28Z" fill="#0000ff"/><path d="M420.16 100.35L421.96 103.92L418.36 103.92Z" fill="#0000ff"/><path d="M423.36 101.00L425.16 104.57L421.56 104.57Z" fill="#0000ff"/><path d="M426.55 101.65L428.35 105.21L424.75 105.21Z" fill="#0000ff"/><path d="M429.74 102.32L431.54 105.88L427.94 105.88Z" fill="#0000ff"/><path d="M432.94 103.02L434.74 106.59L431.14 106.59Z" fill="#0000ff"/><path d="M436.13 103.72L437.93 107.28L434.33 107.28Z" fill="#0000ff"/><path d="M439.32 104.34L441.12 107.91L437.52 107.91Z" fill="#0000ff"/><path d="M442.51 104.86L444.31 108.43L440.71 108.43Z" fill="#0000ff"/><path d="M445.71 105.27L447.51 108.83L443.91 108.83Z" fill="#0000ff"/><path d="M448.90 105.61L450.70 109.17L447.10 109.17Z" fill="#0000ff"/><path d="M452.09 105.92L453.89 109.49L450.29 109.49Z" fill="#0000ff"/><path d="M455.29 106.23L457.09 109.79L453.49 109.79Z" fill="#0000ff"/><path d="M458.48 106.56L460.28 110.13L456.68 110.13Z" fill="#0000ff"/><path d="M461.67 106.92L463.47 110.49L459.87 110.49Z" fill="#0000ff"/><path d="M464.86 107.28L466.66 110.85L463.06 110.85Z" fill="#0000ff"/><path d="M468.06 107.65L469.86 111.22L466.26 111.22Z" fill="#0000ff"/><path d="M471.25 108.04L473.05 111.61L469.45 111.61Z" fill="#0000ff"/><path d="M474.44 108.46L476.24 112.02L472.64 112.02Z" fill="#0000ff"/><path d="M477.64 108.89L479.44 112.45L475.84 112.45Z" fill="#0000ff"/><path d="M480.83 109.40L482.63 112.97L479.03 112.97Z" fill="#0000ff"/><path d="M484.02 110.06L485.82 113.62L482.22 113.62Z" fill="#0000ff"/><path d="M487.21 110.92L489.01 114.48L485.41 114.48Z" fill="#0000ff"/><path d="M490.41 112.24L492.21 115.80L488.61 115.80Z" fill="#0000ff"/><path d="M493.60 114.51L495.40 118.07L491.80 118.07Z" fill="#0000ff"/><path d="M496.79 116.40L498.59 119.96L494.99 119.96Z" fill="#0000ff"/><path d="M499.99 118.10L501.79 121.67L498.19 121.67Z" fill="#0000ff"/><path d="M503.18 119.80L504.98 123.37L501.38 123.37Z" fill="#0000ff"/><path d="M506.37 121.51L508.17 125.07L504.57 125.07Z" fill="#0000ff"/><path d="M509.56 123.59L511.36 127.15L507.76 127.15Z" fill="#0000ff"/><path d="M512.76 125.48L514.56 129.04L510.96 129.04Z" fill="#0000ff"/><path d="M515.95 126.99L517.75 130.56L514.15 130.56Z" fill="#0000ff"/><path d="M519.14 127.94L520.94 131.50L517.34 131.50Z" fill="#0000ff"/><path d="M522.34 128.81L524.14 132.37L520.54 132.37Z" fill="#0000ff"/><path d="M525.53 129.53L527.33 133.09L523.73 133.09Z" fill="#0000ff"/><path d="M528.72 130.21L530.52 133.77L526.92 133.77Z" fill="#0000ff"/><path d="M531.91 130.89L533.71 134.45L530.11 134.45Z" fill="#0000ff"/><path d="M535.11 131.57L536.91 135.13L533.31 135.13Z" fill="#0000ff"/></g><clipPath id="clipb"><rect x="314.80" y="8.20" width="223.50" height="133.40"/></clipPath><path d="M314.80 141.60v-3.0M314.80 9.20v3.0M330.76 141.60v-1.8M330.76 9.20v1.8M346.73 141.60v-3.0M346.73 9.20v3.0M362.69 141.60v-1.8M362.69 9.20v1.8M378.66 141.60v-3.0M378.66 9.20v3.0M394.62 141.60v-1.8M394.62 9.20v1.8M410.59 141.60v-3.0M410.59 9.20v3.0M426.55 141.60v-1.8M426.55 9.20v1.8M442.51 141.60v-3.0M442.51 9.20v3.0M458.48 141.60v-1.8M458.48 9.20v1.8M474.44 141.60v-3.0M474.44 9.20v3.0M490.41 141.60v-1.8M490.41 9.20v1.8M506.37 141.60v-3.0M506.37 9.20v3.0M522.34 141.60v-1.8M522.34 9.20v1.8M538.30 141.60v-3.0M538.30 9.20v3.0M314.80 141.60h3.0M538.30 141.60h-3.0M314.80 128.36h1.8M538.30 128.36h-1.8M314.80 115.12h3.0M538.30 115.12h-3.0M314.80 101.88h1.8M538.30 101.88h-1.8M314.80 88.64h3.0M538.30 88.64h-3.0M314.80 75.40h1.8M538.30 75.40h-1.8M314.80 62.16h3.0M538.30 62.16h-3.0M314.80 48.92h1.8M538.30 48.92h-1.8M314.80 35.68h3.0M538.30 35.68h-3.0M314.80 22.44h1.8M538.30 22.44h-1.8M314.80 9.20h3.0M538.30 9.20h-3.0" stroke="#000" stroke-width="0.9" fill="none"/><rect x="314.80" y="9.20" width="223.50" height="132.40" fill="none" stroke="#000" stroke-width="1.3"/><g font-family='"Liberation Sans", Arial, sans-serif' font-size="7" fill="#000" stroke="#000" stroke-width="0.15"><text x="314.80" y="150.50" text-anchor="middle">0</text><text x="346.73" y="150.50" text-anchor="middle">10</text><text x="378.66" y="150.50" text-anchor="middle">20</text><text x="410.59" y="150.50" text-anchor="middle">30</text><text x="442.51" y="150.50" text-anchor="middle">40</text><text x="474.44" y="150.50" text-anchor="middle">50</text><text x="506.37" y="150.50" text-anchor="middle">60</text><text x="538.30" y="150.50" text-anchor="middle">70</text><text x="311.40" y="143.80" text-anchor="end">0</text><text x="311.40" y="117.32" text-anchor="end">700</text><text x="311.40" y="90.84" text-anchor="end">1400</text><text x="311.40" y="64.36" text-anchor="end">2100</text><text x="311.40" y="37.88" text-anchor="end">2800</text><text x="311.40" y="11.40" text-anchor="end">3500</text></g><text x="415.90" y="158.80" font-family='"Liberation Sans", Arial, sans-serif' font-weight="bold" font-size="8.5" textLength="21.6" lengthAdjust="spacingAndGlyphs" fill="#000">Delay</text><text transform="translate(295.00,80.90) rotate(-90)" x="0" y="0" text-anchor="middle" font-family='"Liberation Sans", Arial, sans-serif' font-weight="bold" font-size="8.4" textLength="92.0" lengthAdjust="spacingAndGlyphs" fill="#000">The number of packets</text><rect x="519.50" y="12.00" width="18.00" height="24.50" fill="#9a9a9a"/><rect x="518.50" y="11.00" width="18.00" height="24.50" fill="#fff" stroke="#555" stroke-width="0.6"/><line x1="519.00" y1="16.50" x2="528.50" y2="16.50" stroke="#000000" stroke-width="1.0"/><rect x="522.20" y="14.95" width="3.10" height="3.10" fill="#000000"/><text x="530.50" y="18.50" font-family='"Liberation Sans", Arial, sans-serif' font-style="italic" font-size="5.9" fill="#000" stroke="#000" stroke-width="0.05">Q<tspan font-size="3.8" dy="-2.3" stroke-width="0.05">1</tspan></text><line x1="519.00" y1="24.40" x2="528.50" y2="24.40" stroke="#ff0000" stroke-width="1.0"/><circle cx="523.75" cy="24.40" r="2.01" fill="#ff0000"/><text x="530.50" y="26.40" font-family='"Liberation Sans", Arial, sans-serif' font-style="italic" font-size="5.9" fill="#000" stroke="#000" stroke-width="0.05">Q<tspan font-size="3.8" dy="-2.3" stroke-width="0.05">2</tspan></text><line x1="519.00" y1="32.30" x2="528.50" y2="32.30" stroke="#0000ff" stroke-width="1.0" stroke-dasharray="1.6 2.2"/><path d="M523.75 29.77L525.82 33.87L521.68 33.87Z" fill="#0000ff"/><text x="530.50" y="34.30" font-family='"Liberation Sans", Arial, sans-serif' font-style="italic" font-size="5.9" fill="#000" stroke="#000" stroke-width="0.05">Q<tspan font-size="3.8" dy="-2.3" stroke-width="0.05">3</tspan></text><g stroke="#a6a6a6" stroke-width="1"><line x1="67.50" y1="187.40" x2="67.50" y2="326.20" /><line x1="100.50" y1="187.40" x2="100.50" y2="326.20" /><line x1="133.50" y1="187.40" x2="133.50" y2="326.20" /><line x1="166.50" y1="187.40" x2="166.50" y2="326.20" /><line x1="199.50" y1="187.40" x2="199.50" y2="326.20" /><line x1="231.50" y1="187.40" x2="231.50" y2="326.20" /><line x1="34.80" y1="298.50" x2="264.70" y2="298.50" /><line x1="34.80" y1="270.50" x2="264.70" y2="270.50" /><line x1="34.80" y1="242.50" x2="264.70" y2="242.50" /><line x1="34.80" y1="215.50" x2="264.70" y2="215.50" /></g><g clip-path="url(#clipc)"><path d="M34.80 237.98 L38.08 223.10 L41.37 213.66 L44.65 209.89 L47.94 209.27 L51.22 211.77 L54.51 215.38 L57.79 221.39 L61.07 226.85 L64.36 232.08 L67.64 237.62 L70.93 243.18 L74.21 248.64 L77.50 253.70 L80.78 258.35 L84.06 263.09 L87.35 267.98 L90.63 272.24 L93.92 276.26 L97.20 280.55 L100.49 285.23 L103.77 289.59 L107.05 293.15 L110.34 296.37 L113.62 299.32 L116.91 301.96 L120.19 304.34 L123.48 306.50 L126.76 308.51 L130.04 310.26 L133.33 311.77 L136.61 313.11 L139.90 314.26 L143.18 315.26 L146.47 316.13 L149.75 316.84 L153.03 317.43 L156.32 317.98 L159.60 318.54 L162.89 319.09 L166.17 319.65 L169.46 320.27 L172.74 320.90 L176.02 321.47 L179.31 321.93 L182.59 322.33 L185.88 322.70 L189.16 323.03 L192.45 323.34 L195.73 323.60 L199.01 323.84 L202.30 324.05 L205.58 324.25 L208.87 324.42 L212.15 324.59 L215.44 324.75 L218.72 324.91 L222.00 325.06 L225.29 325.21 L228.57 325.33 L231.86 325.42 L235.14 325.51 L238.43 325.59 L241.71 325.67 L244.99 325.74 L248.28 325.81 L251.56 325.86 L254.85 325.89 L258.13 325.92 L261.42 325.92" fill="none" stroke="#000000" stroke-width="1.0"/><rect x="33.45" y="236.63" width="2.70" height="2.70" fill="#000000"/><rect x="36.73" y="221.75" width="2.70" height="2.70" fill="#000000"/><rect x="40.02" y="212.31" width="2.70" height="2.70" fill="#000000"/><rect x="43.30" y="208.54" width="2.70" height="2.70" fill="#000000"/><rect x="46.59" y="207.92" width="2.70" height="2.70" fill="#000000"/><rect x="49.87" y="210.42" width="2.70" height="2.70" fill="#000000"/><rect x="53.16" y="214.03" width="2.70" height="2.70" fill="#000000"/><rect x="56.44" y="220.04" width="2.70" height="2.70" fill="#000000"/><rect x="59.72" y="225.50" width="2.70" height="2.70" fill="#000000"/><rect x="63.01" y="230.73" width="2.70" height="2.70" fill="#000000"/><rect x="66.29" y="236.27" width="2.70" height="2.70" fill="#000000"/><rect x="69.58" y="241.83" width="2.70" height="2.70" fill="#000000"/><rect x="72.86" y="247.29" width="2.70" height="2.70" fill="#000000"/><rect x="76.15" y="252.35" width="2.70" height="2.70" fill="#000000"/><rect x="79.43" y="257.00" width="2.70" height="2.70" fill="#000000"/><rect x="82.71" y="261.74" width="2.70" height="2.70" fill="#000000"/><rect x="86.00" y="266.63" width="2.70" height="2.70" fill="#000000"/><rect x="89.28" y="270.89" width="2.70" height="2.70" fill="#000000"/><rect x="92.57" y="274.91" width="2.70" height="2.70" fill="#000000"/><rect x="95.85" y="279.20" width="2.70" height="2.70" fill="#000000"/><rect x="99.14" y="283.88" width="2.70" height="2.70" fill="#000000"/><rect x="102.42" y="288.24" width="2.70" height="2.70" fill="#000000"/><rect x="105.70" y="291.80" width="2.70" height="2.70" fill="#000000"/><rect x="108.99" y="295.02" width="2.70" height="2.70" fill="#000000"/><rect x="112.27" y="297.97" width="2.70" height="2.70" fill="#000000"/><rect x="115.56" y="300.61" width="2.70" height="2.70" fill="#000000"/><rect x="118.84" y="302.99" width="2.70" height="2.70" fill="#000000"/><rect x="122.13" y="305.15" width="2.70" height="2.70" fill="#000000"/><rect x="125.41" y="307.16" width="2.70" height="2.70" fill="#000000"/><rect x="128.69" y="308.91" width="2.70" height="2.70" fill="#000000"/><rect x="131.98" y="310.42" width="2.70" height="2.70" fill="#000000"/><rect x="135.26" y="311.76" width="2.70" height="2.70" fill="#000000"/><rect x="138.55" y="312.91" width="2.70" height="2.70" fill="#000000"/><rect x="141.83" y="313.91" width="2.70" height="2.70" fill="#000000"/><rect x="145.12" y="314.78" width="2.70" height="2.70" fill="#000000"/><rect x="148.40" y="315.49" width="2.70" height="2.70" fill="#000000"/><rect x="151.68" y="316.08" width="2.70" height="2.70" fill="#000000"/><rect x="154.97" y="316.63" width="2.70" height="2.70" fill="#000000"/><rect x="158.25" y="317.19" width="2.70" height="2.70" fill="#000000"/><rect x="161.54" y="317.74" width="2.70" height="2.70" fill="#000000"/><rect x="164.82" y="318.30" width="2.70" height="2.70" fill="#000000"/><rect x="168.11" y="318.92" width="2.70" height="2.70" fill="#000000"/><rect x="171.39" y="319.55" width="2.70" height="2.70" fill="#000000"/><rect x="174.67" y="320.12" width="2.70" height="2.70" fill="#000000"/><rect x="177.96" y="320.58" width="2.70" height="2.70" fill="#000000"/><rect x="181.24" y="320.98" width="2.70" height="2.70" fill="#000000"/><rect x="184.53" y="321.35" width="2.70" height="2.70" fill="#000000"/><rect x="187.81" y="321.68" width="2.70" height="2.70" fill="#000000"/><rect x="191.10" y="321.99" width="2.70" height="2.70" fill="#000000"/><rect x="194.38" y="322.25" width="2.70" height="2.70" fill="#000000"/><rect x="197.66" y="322.49" width="2.70" height="2.70" fill="#000000"/><rect x="200.95" y="322.70" width="2.70" height="2.70" fill="#000000"/><rect x="204.23" y="322.90" width="2.70" height="2.70" fill="#000000"/><rect x="207.52" y="323.07" width="2.70" height="2.70" fill="#000000"/><rect x="210.80" y="323.24" width="2.70" height="2.70" fill="#000000"/><rect x="214.09" y="323.40" width="2.70" height="2.70" fill="#000000"/><rect x="217.37" y="323.56" width="2.70" height="2.70" fill="#000000"/><rect x="220.65" y="323.71" width="2.70" height="2.70" fill="#000000"/><rect x="223.94" y="323.86" width="2.70" height="2.70" fill="#000000"/><rect x="227.22" y="323.98" width="2.70" height="2.70" fill="#000000"/><rect x="230.51" y="324.07" width="2.70" height="2.70" fill="#000000"/><rect x="233.79" y="324.16" width="2.70" height="2.70" fill="#000000"/><rect x="237.08" y="324.24" width="2.70" height="2.70" fill="#000000"/><rect x="240.36" y="324.32" width="2.70" height="2.70" fill="#000000"/><rect x="243.64" y="324.39" width="2.70" height="2.70" fill="#000000"/><rect x="246.93" y="324.46" width="2.70" height="2.70" fill="#000000"/><rect x="250.21" y="324.51" width="2.70" height="2.70" fill="#000000"/><rect x="253.50" y="324.54" width="2.70" height="2.70" fill="#000000"/><rect x="256.78" y="324.57" width="2.70" height="2.70" fill="#000000"/><rect x="260.07" y="324.57" width="2.70" height="2.70" fill="#000000"/><path d="M34.80 267.46 L38.08 261.63 L41.37 257.74 L44.65 255.86 L47.94 255.41 L51.22 255.25 L54.51 255.55 L57.79 256.24 L61.07 257.67 L64.36 259.57 L67.64 261.23 L70.93 262.81 L74.21 264.21 L77.50 265.55 L80.78 267.06 L84.06 268.69 L87.35 270.31 L90.63 271.94 L93.92 273.71 L97.20 275.64 L100.49 277.67 L103.77 279.82 L107.05 281.94 L110.34 283.91 L113.62 285.76 L116.91 287.55 L120.19 289.33 L123.48 291.16 L126.76 293.03 L130.04 294.87 L133.33 296.61 L136.61 298.22 L139.90 299.76 L143.18 301.20 L146.47 302.55 L149.75 303.81 L153.03 305.01 L156.32 306.15 L159.60 307.21 L162.89 308.17 L166.17 309.02 L169.46 309.79 L172.74 310.51 L176.02 311.18 L179.31 311.84 L182.59 312.50 L185.88 313.13 L189.16 313.74 L192.45 314.34 L195.73 314.92 L199.01 315.50 L202.30 316.07 L205.58 316.63 L208.87 317.18 L212.15 317.71 L215.44 318.25 L218.72 318.80 L222.00 319.33 L225.29 319.83 L228.57 320.26 L231.86 320.61 L235.14 320.90 L238.43 321.17 L241.71 321.42 L244.99 321.68 L248.28 321.95 L251.56 322.21 L254.85 322.48 L258.13 322.74 L261.42 322.99" fill="none" stroke="#ff0000" stroke-width="1.0"/><circle cx="34.80" cy="267.46" r="1.75" fill="#ff0000"/><circle cx="38.08" cy="261.63" r="1.75" fill="#ff0000"/><circle cx="41.37" cy="257.74" r="1.75" fill="#ff0000"/><circle cx="44.65" cy="255.86" r="1.75" fill="#ff0000"/><circle cx="47.94" cy="255.41" r="1.75" fill="#ff0000"/><circle cx="51.22" cy="255.25" r="1.75" fill="#ff0000"/><circle cx="54.51" cy="255.55" r="1.75" fill="#ff0000"/><circle cx="57.79" cy="256.24" r="1.75" fill="#ff0000"/><circle cx="61.07" cy="257.67" r="1.75" fill="#ff0000"/><circle cx="64.36" cy="259.57" r="1.75" fill="#ff0000"/><circle cx="67.64" cy="261.23" r="1.75" fill="#ff0000"/><circle cx="70.93" cy="262.81" r="1.75" fill="#ff0000"/><circle cx="74.21" cy="264.21" r="1.75" fill="#ff0000"/><circle cx="77.50" cy="265.55" r="1.75" fill="#ff0000"/><circle cx="80.78" cy="267.06" r="1.75" fill="#ff0000"/><circle cx="84.06" cy="268.69" r="1.75" fill="#ff0000"/><circle cx="87.35" cy="270.31" r="1.75" fill="#ff0000"/><circle cx="90.63" cy="271.94" r="1.75" fill="#ff0000"/><circle cx="93.92" cy="273.71" r="1.75" fill="#ff0000"/><circle cx="97.20" cy="275.64" r="1.75" fill="#ff0000"/><circle cx="100.49" cy="277.67" r="1.75" fill="#ff0000"/><circle cx="103.77" cy="279.82" r="1.75" fill="#ff0000"/><circle cx="107.05" cy="281.94" r="1.75" fill="#ff0000"/><circle cx="110.34" cy="283.91" r="1.75" fill="#ff0000"/><circle cx="113.62" cy="285.76" r="1.75" fill="#ff0000"/><circle cx="116.91" cy="287.55" r="1.75" fill="#ff0000"/><circle cx="120.19" cy="289.33" r="1.75" fill="#ff0000"/><circle cx="123.48" cy="291.16" r="1.75" fill="#ff0000"/><circle cx="126.76" cy="293.03" r="1.75" fill="#ff0000"/><circle cx="130.04" cy="294.87" r="1.75" fill="#ff0000"/><circle cx="133.33" cy="296.61" r="1.75" fill="#ff0000"/><circle cx="136.61" cy="298.22" r="1.75" fill="#ff0000"/><circle cx="139.90" cy="299.76" r="1.75" fill="#ff0000"/><circle cx="143.18" cy="301.20" r="1.75" fill="#ff0000"/><circle cx="146.47" cy="302.55" r="1.75" fill="#ff0000"/><circle cx="149.75" cy="303.81" r="1.75" fill="#ff0000"/><circle cx="153.03" cy="305.01" r="1.75" fill="#ff0000"/><circle cx="156.32" cy="306.15" r="1.75" fill="#ff0000"/><circle cx="159.60" cy="307.21" r="1.75" fill="#ff0000"/><circle cx="162.89" cy="308.17" r="1.75" fill="#ff0000"/><circle cx="166.17" cy="309.02" r="1.75" fill="#ff0000"/><circle cx="169.46" cy="309.79" r="1.75" fill="#ff0000"/><circle cx="172.74" cy="310.51" r="1.75" fill="#ff0000"/><circle cx="176.02" cy="311.18" r="1.75" fill="#ff0000"/><circle cx="179.31" cy="311.84" r="1.75" fill="#ff0000"/><circle cx="182.59" cy="312.50" r="1.75" fill="#ff0000"/><circle cx="185.88" cy="313.13" r="1.75" fill="#ff0000"/><circle cx="189.16" cy="313.74" r="1.75" fill="#ff0000"/><circle cx="192.45" cy="314.34" r="1.75" fill="#ff0000"/><circle cx="195.73" cy="314.92" r="1.75" fill="#ff0000"/><circle cx="199.01" cy="315.50" r="1.75" fill="#ff0000"/><circle cx="202.30" cy="316.07" r="1.75" fill="#ff0000"/><circle cx="205.58" cy="316.63" r="1.75" fill="#ff0000"/><circle cx="208.87" cy="317.18" r="1.75" fill="#ff0000"/><circle cx="212.15" cy="317.71" r="1.75" fill="#ff0000"/><circle cx="215.44" cy="318.25" r="1.75" fill="#ff0000"/><circle cx="218.72" cy="318.80" r="1.75" fill="#ff0000"/><circle cx="222.00" cy="319.33" r="1.75" fill="#ff0000"/><circle cx="225.29" cy="319.83" r="1.75" fill="#ff0000"/><circle cx="228.57" cy="320.26" r="1.75" fill="#ff0000"/><circle cx="231.86" cy="320.61" r="1.75" fill="#ff0000"/><circle cx="235.14" cy="320.90" r="1.75" fill="#ff0000"/><circle cx="238.43" cy="321.17" r="1.75" fill="#ff0000"/><circle cx="241.71" cy="321.42" r="1.75" fill="#ff0000"/><circle cx="244.99" cy="321.68" r="1.75" fill="#ff0000"/><circle cx="248.28" cy="321.95" r="1.75" fill="#ff0000"/><circle cx="251.56" cy="322.21" r="1.75" fill="#ff0000"/><circle cx="254.85" cy="322.48" r="1.75" fill="#ff0000"/><circle cx="258.13" cy="322.74" r="1.75" fill="#ff0000"/><circle cx="261.42" cy="322.99" r="1.75" fill="#ff0000"/><path d="M34.80 286.73 L38.08 280.95 L41.37 278.58 L44.65 277.34 L47.94 276.73 L51.22 276.26 L54.51 275.95 L57.79 275.84 L61.07 275.84 L64.36 275.84 L67.64 275.85 L70.93 276.11 L74.21 276.61 L77.50 277.18 L80.78 277.87 L84.06 278.72 L87.35 279.64 L90.63 280.62 L93.92 281.69 L97.20 282.75 L100.49 283.73 L103.77 284.66 L107.05 285.59 L110.34 286.53 L113.62 287.51 L116.91 288.50 L120.19 289.51 L123.48 290.51 L126.76 291.53 L130.04 292.56 L133.33 293.56 L136.61 294.50 L139.90 295.35 L143.18 296.15 L146.47 296.93 L149.75 297.72 L153.03 298.53 L156.32 299.35 L159.60 300.16 L162.89 300.97 L166.17 301.77 L169.46 302.56 L172.74 303.35 L176.02 304.13 L179.31 304.90 L182.59 305.66 L185.88 306.42 L189.16 307.18 L192.45 307.93 L195.73 308.63 L199.01 309.27 L202.30 309.82 L205.58 310.32 L208.87 310.80 L212.15 311.27 L215.44 311.76 L218.72 312.30 L222.00 312.85 L225.29 313.41 L228.57 313.94 L231.86 314.43 L235.14 314.87 L238.43 315.28 L241.71 315.67 L244.99 316.07 L248.28 316.48 L251.56 316.92 L254.85 317.38 L258.13 317.84 L261.42 318.32" fill="none" stroke="#0000ff" stroke-width="1.0"/><path d="M34.80 284.53L36.60 288.09L33.00 288.09Z" fill="#0000ff"/><path d="M38.08 278.75L39.88 282.32L36.28 282.32Z" fill="#0000ff"/><path d="M41.37 276.38L43.17 279.95L39.57 279.95Z" fill="#0000ff"/><path d="M44.65 275.14L46.45 278.71L42.85 278.71Z" fill="#0000ff"/><path d="M47.94 274.53L49.74 278.10L46.14 278.10Z" fill="#0000ff"/><path d="M51.22 274.06L53.02 277.62L49.42 277.62Z" fill="#0000ff"/><path d="M54.51 273.75L56.31 277.32L52.71 277.32Z" fill="#0000ff"/><path d="M57.79 273.64L59.59 277.21L55.99 277.21Z" fill="#0000ff"/><path d="M61.07 273.64L62.87 277.21L59.27 277.21Z" fill="#0000ff"/><path d="M64.36 273.64L66.16 277.21L62.56 277.21Z" fill="#0000ff"/><path d="M67.64 273.65L69.44 277.22L65.84 277.22Z" fill="#0000ff"/><path d="M70.93 273.91L72.73 277.48L69.13 277.48Z" fill="#0000ff"/><path d="M74.21 274.41L76.01 277.98L72.41 277.98Z" fill="#0000ff"/><path d="M77.50 274.98L79.30 278.54L75.70 278.54Z" fill="#0000ff"/><path d="M80.78 275.67L82.58 279.23L78.98 279.23Z" fill="#0000ff"/><path d="M84.06 276.52L85.86 280.08L82.26 280.08Z" fill="#0000ff"/><path d="M87.35 277.44L89.15 281.00L85.55 281.00Z" fill="#0000ff"/><path d="M90.63 278.42L92.43 281.98L88.83 281.98Z" fill="#0000ff"/><path d="M93.92 279.49L95.72 283.05L92.12 283.05Z" fill="#0000ff"/><path d="M97.20 280.55L99.00 284.11L95.40 284.11Z" fill="#0000ff"/><path d="M100.49 281.53L102.29 285.09L98.69 285.09Z" fill="#0000ff"/><path d="M103.77 282.46L105.57 286.03L101.97 286.03Z" fill="#0000ff"/><path d="M107.05 283.39L108.85 286.95L105.25 286.95Z" fill="#0000ff"/><path d="M110.34 284.33L112.14 287.90L108.54 287.90Z" fill="#0000ff"/><path d="M113.62 285.31L115.42 288.87L111.82 288.87Z" fill="#0000ff"/><path d="M116.91 286.30L118.71 289.87L115.11 289.87Z" fill="#0000ff"/><path d="M120.19 287.31L121.99 290.87L118.39 290.87Z" fill="#0000ff"/><path d="M123.48 288.31L125.28 291.88L121.68 291.88Z" fill="#0000ff"/><path d="M126.76 289.33L128.56 292.89L124.96 292.89Z" fill="#0000ff"/><path d="M130.04 290.36L131.84 293.92L128.24 293.92Z" fill="#0000ff"/><path d="M133.33 291.36L135.13 294.92L131.53 294.92Z" fill="#0000ff"/><path d="M136.61 292.30L138.41 295.86L134.81 295.86Z" fill="#0000ff"/><path d="M139.90 293.15L141.70 296.71L138.10 296.71Z" fill="#0000ff"/><path d="M143.18 293.95L144.98 297.51L141.38 297.51Z" fill="#0000ff"/><path d="M146.47 294.73L148.27 298.29L144.67 298.29Z" fill="#0000ff"/><path d="M149.75 295.52L151.55 299.08L147.95 299.08Z" fill="#0000ff"/><path d="M153.03 296.33L154.83 299.89L151.23 299.89Z" fill="#0000ff"/><path d="M156.32 297.15L158.12 300.71L154.52 300.71Z" fill="#0000ff"/><path d="M159.60 297.96L161.40 301.52L157.80 301.52Z" fill="#0000ff"/><path d="M162.89 298.77L164.69 302.34L161.09 302.34Z" fill="#0000ff"/><path d="M166.17 299.57L167.97 303.14L164.37 303.14Z" fill="#0000ff"/><path d="M169.46 300.36L171.26 303.93L167.66 303.93Z" fill="#0000ff"/><path d="M172.74 301.15L174.54 304.72L170.94 304.72Z" fill="#0000ff"/><path d="M176.02 301.93L177.82 305.50L174.22 305.50Z" fill="#0000ff"/><path d="M179.31 302.70L181.11 306.27L177.51 306.27Z" fill="#0000ff"/><path d="M182.59 303.46L184.39 307.02L180.79 307.02Z" fill="#0000ff"/><path d="M185.88 304.22L187.68 307.78L184.08 307.78Z" fill="#0000ff"/><path d="M189.16 304.98L190.96 308.55L187.36 308.55Z" fill="#0000ff"/><path d="M192.45 305.73L194.25 309.29L190.65 309.29Z" fill="#0000ff"/><path d="M195.73 306.43L197.53 310.00L193.93 310.00Z" fill="#0000ff"/><path d="M199.01 307.07L200.81 310.63L197.21 310.63Z" fill="#0000ff"/><path d="M202.30 307.62L204.10 311.19L200.50 311.19Z" fill="#0000ff"/><path d="M205.58 308.12L207.38 311.69L203.78 311.69Z" fill="#0000ff"/><path d="M208.87 308.60L210.67 312.16L207.07 312.16Z" fill="#0000ff"/><path d="M212.15 309.07L213.95 312.63L210.35 312.63Z" fill="#0000ff"/><path d="M215.44 309.56L217.24 313.13L213.64 313.13Z" fill="#0000ff"/><path d="M218.72 310.10L220.52 313.66L216.92 313.66Z" fill="#0000ff"/><path d="M222.00 310.65L223.80 314.22L220.20 314.22Z" fill="#0000ff"/><path d="M225.29 311.21L227.09 314.77L223.49 314.77Z" fill="#0000ff"/><path d="M228.57 311.74L230.37 315.30L226.77 315.30Z" fill="#0000ff"/><path d="M231.86 312.23L233.66 315.79L230.06 315.79Z" fill="#0000ff"/><path d="M235.14 312.67L236.94 316.23L233.34 316.23Z" fill="#0000ff"/><path d="M238.43 313.08L240.23 316.64L236.63 316.64Z" fill="#0000ff"/><path d="M241.71 313.47L243.51 317.04L239.91 317.04Z" fill="#0000ff"/><path d="M244.99 313.87L246.79 317.43L243.19 317.43Z" fill="#0000ff"/><path d="M248.28 314.28L250.08 317.85L246.48 317.85Z" fill="#0000ff"/><path d="M251.56 314.72L253.36 318.29L249.76 318.29Z" fill="#0000ff"/><path d="M254.85 315.18L256.65 318.74L253.05 318.74Z" fill="#0000ff"/><path d="M258.13 315.64L259.93 319.21L256.33 319.21Z" fill="#0000ff"/><path d="M261.42 316.12L263.22 319.68L259.62 319.68Z" fill="#0000ff"/><path d="M34.80 294.50 L38.08 291.94 L41.37 290.73 L44.65 290.00 L47.94 289.56 L51.22 289.22 L54.51 288.96 L57.79 288.72 L61.07 288.48 L64.36 288.25 L67.64 288.07 L70.93 288.00 L74.21 288.09 L77.50 288.29 L80.78 288.53 L84.06 288.74 L87.35 288.90 L90.63 289.04 L93.92 289.19 L97.20 289.35 L100.49 289.56 L103.77 289.83 L107.05 290.18 L110.34 290.59 L113.62 291.04 L116.91 291.51 L120.19 291.99 L123.48 292.45 L126.76 292.91 L130.04 293.36 L133.33 293.82 L136.61 294.30 L139.90 294.79 L143.18 295.31 L146.47 295.86 L149.75 296.44 L153.03 297.10 L156.32 297.84 L159.60 298.63 L162.89 299.39 L166.17 300.11 L169.46 300.76 L172.74 301.40 L176.02 302.01 L179.31 302.60 L182.59 303.16 L185.88 303.70 L189.16 304.21 L192.45 304.70 L195.73 305.18 L199.01 305.66 L202.30 306.12 L205.58 306.58 L208.87 307.02 L212.15 307.45 L215.44 307.88 L218.72 308.29 L222.00 308.69 L225.29 309.08 L228.57 309.47 L231.86 309.88 L235.14 310.30 L238.43 310.73 L241.71 311.17 L244.99 311.61 L248.28 312.04 L251.56 312.47 L254.85 312.90 L258.13 313.33 L261.42 313.76" fill="none" stroke="#008080" stroke-width="1.0"/><path d="M34.80 296.70L36.60 293.13L33.00 293.13Z" fill="#008080"/><path d="M38.08 294.14L39.88 290.58L36.28 290.58Z" fill="#008080"/><path d="M41.37 292.93L43.17 289.37L39.57 289.37Z" fill="#008080"/><path d="M44.65 292.20L46.45 288.64L42.85 288.64Z" fill="#008080"/><path d="M47.94 291.76L49.74 288.19L46.14 288.19Z" fill="#008080"/><path d="M51.22 291.42L53.02 287.86L49.42 287.86Z" fill="#008080"/><path d="M54.51 291.16L56.31 287.59L52.71 287.59Z" fill="#008080"/><path d="M57.79 290.92L59.59 287.36L55.99 287.36Z" fill="#008080"/><path d="M61.07 290.68L62.87 287.12L59.27 287.12Z" fill="#008080"/><path d="M64.36 290.45L66.16 286.88L62.56 286.88Z" fill="#008080"/><path d="M67.64 290.27L69.44 286.71L65.84 286.71Z" fill="#008080"/><path d="M70.93 290.20L72.73 286.64L69.13 286.64Z" fill="#008080"/><path d="M74.21 290.29L76.01 286.72L72.41 286.72Z" fill="#008080"/><path d="M77.50 290.49L79.30 286.93L75.70 286.93Z" fill="#008080"/><path d="M80.78 290.73L82.58 287.17L78.98 287.17Z" fill="#008080"/><path d="M84.06 290.94L85.86 287.38L82.26 287.38Z" fill="#008080"/><path d="M87.35 291.10L89.15 287.53L85.55 287.53Z" fill="#008080"/><path d="M90.63 291.24L92.43 287.68L88.83 287.68Z" fill="#008080"/><path d="M93.92 291.39L95.72 287.82L92.12 287.82Z" fill="#008080"/><path d="M97.20 291.55L99.00 287.99L95.40 287.99Z" fill="#008080"/><path d="M100.49 291.76L102.29 288.19L98.69 288.19Z" fill="#008080"/><path d="M103.77 292.03L105.57 288.47L101.97 288.47Z" fill="#008080"/><path d="M107.05 292.38L108.85 288.81L105.25 288.81Z" fill="#008080"/><path d="M110.34 292.79L112.14 289.22L108.54 289.22Z" fill="#008080"/><path d="M113.62 293.24L115.42 289.67L111.82 289.67Z" fill="#008080"/><path d="M116.91 293.71L118.71 290.14L115.11 290.14Z" fill="#008080"/><path d="M120.19 294.19L121.99 290.62L118.39 290.62Z" fill="#008080"/><path d="M123.48 294.65L125.28 291.09L121.68 291.09Z" fill="#008080"/><path d="M126.76 295.11L128.56 291.54L124.96 291.54Z" fill="#008080"/><path d="M130.04 295.56L131.84 292.00L128.24 292.00Z" fill="#008080"/><path d="M133.33 296.02L135.13 292.46L131.53 292.46Z" fill="#008080"/><path d="M136.61 296.50L138.41 292.93L134.81 292.93Z" fill="#008080"/><path d="M139.90 296.99L141.70 293.43L138.10 293.43Z" fill="#008080"/><path d="M143.18 297.51L144.98 293.95L141.38 293.95Z" fill="#008080"/><path d="M146.47 298.06L148.27 294.49L144.67 294.49Z" fill="#008080"/><path d="M149.75 298.64L151.55 295.08L147.95 295.08Z" fill="#008080"/><path d="M153.03 299.30L154.83 295.74L151.23 295.74Z" fill="#008080"/><path d="M156.32 300.04L158.12 296.48L154.52 296.48Z" fill="#008080"/><path d="M159.60 300.83L161.40 297.26L157.80 297.26Z" fill="#008080"/><path d="M162.89 301.59L164.69 298.03L161.09 298.03Z" fill="#008080"/><path d="M166.17 302.31L167.97 298.74L164.37 298.74Z" fill="#008080"/><path d="M169.46 302.96L171.26 299.40L167.66 299.40Z" fill="#008080"/><path d="M172.74 303.60L174.54 300.03L170.94 300.03Z" fill="#008080"/><path d="M176.02 304.21L177.82 300.64L174.22 300.64Z" fill="#008080"/><path d="M179.31 304.80L181.11 301.23L177.51 301.23Z" fill="#008080"/><path d="M182.59 305.36L184.39 301.80L180.79 301.80Z" fill="#008080"/><path d="M185.88 305.90L187.68 302.33L184.08 302.33Z" fill="#008080"/><path d="M189.16 306.41L190.96 302.84L187.36 302.84Z" fill="#008080"/><path d="M192.45 306.90L194.25 303.34L190.65 303.34Z" fill="#008080"/><path d="M195.73 307.38L197.53 303.82L193.93 303.82Z" fill="#008080"/><path d="M199.01 307.86L200.81 304.29L197.21 304.29Z" fill="#008080"/><path d="M202.30 308.32L204.10 304.76L200.50 304.76Z" fill="#008080"/><path d="M205.58 308.78L207.38 305.21L203.78 305.21Z" fill="#008080"/><path d="M208.87 309.22L210.67 305.66L207.07 305.66Z" fill="#008080"/><path d="M212.15 309.65L213.95 306.09L210.35 306.09Z" fill="#008080"/><path d="M215.44 310.08L217.24 306.51L213.64 306.51Z" fill="#008080"/><path d="M218.72 310.49L220.52 306.93L216.92 306.93Z" fill="#008080"/><path d="M222.00 310.89L223.80 307.32L220.20 307.32Z" fill="#008080"/><path d="M225.29 311.28L227.09 307.71L223.49 307.71Z" fill="#008080"/><path d="M228.57 311.67L230.37 308.11L226.77 308.11Z" fill="#008080"/><path d="M231.86 312.08L233.66 308.51L230.06 308.51Z" fill="#008080"/><path d="M235.14 312.50L236.94 308.94L233.34 308.94Z" fill="#008080"/><path d="M238.43 312.93L240.23 309.37L236.63 309.37Z" fill="#008080"/><path d="M241.71 313.37L243.51 309.81L239.91 309.81Z" fill="#008080"/><path d="M244.99 313.81L246.79 310.24L243.19 310.24Z" fill="#008080"/><path d="M248.28 314.24L250.08 310.68L246.48 310.68Z" fill="#008080"/><path d="M251.56 314.67L253.36 311.11L249.76 311.11Z" fill="#008080"/><path d="M254.85 315.10L256.65 311.54L253.05 311.54Z" fill="#008080"/><path d="M258.13 315.53L259.93 311.97L256.33 311.97Z" fill="#008080"/><path d="M261.42 315.96L263.22 312.40L259.62 312.40Z" fill="#008080"/><path d="M34.80 302.94 L38.08 298.33 L41.37 296.31 L44.65 295.11 L47.94 294.32 L51.22 293.69 L54.51 293.22 L57.79 292.89 L61.07 292.64 L64.36 292.43 L67.64 292.28 L70.93 292.22 L74.21 292.23 L77.50 292.24 L80.78 292.26 L84.06 292.28 L87.35 292.31 L90.63 292.35 L93.92 292.39 L97.20 292.44 L100.49 292.50 L103.77 292.61 L107.05 292.81 L110.34 293.08 L113.62 293.40 L116.91 293.76 L120.19 294.12 L123.48 294.46 L126.76 294.81 L130.04 295.20 L133.33 295.60 L136.61 296.03 L139.90 296.46 L143.18 296.89 L146.47 297.32 L149.75 297.72 L153.03 298.09 L156.32 298.44 L159.60 298.80 L162.89 299.18 L166.17 299.61 L169.46 300.13 L172.74 300.73 L176.02 301.38 L179.31 302.02 L182.59 302.60 L185.88 303.14 L189.16 303.65 L192.45 304.15 L195.73 304.63 L199.01 305.10 L202.30 305.57 L205.58 306.02 L208.87 306.46 L212.15 306.90 L215.44 307.32 L218.72 307.73 L222.00 308.13 L225.29 308.52 L228.57 308.92 L231.86 309.32 L235.14 309.74 L238.43 310.18 L241.71 310.61 L244.99 311.05 L248.28 311.49 L251.56 311.92 L254.85 312.35 L258.13 312.78 L261.42 313.21" fill="none" stroke="#00ffff" stroke-width="1.0"/><path d="M34.80 300.94L36.80 302.94L34.80 304.94L32.80 302.94Z" fill="#00ffff"/><path d="M38.08 296.33L40.08 298.33L38.08 300.33L36.08 298.33Z" fill="#00ffff"/><path d="M41.37 294.31L43.37 296.31L41.37 298.31L39.37 296.31Z" fill="#00ffff"/><path d="M44.65 293.11L46.65 295.11L44.65 297.11L42.65 295.11Z" fill="#00ffff"/><path d="M47.94 292.32L49.94 294.32L47.94 296.32L45.94 294.32Z" fill="#00ffff"/><path d="M51.22 291.69L53.22 293.69L51.22 295.69L49.22 293.69Z" fill="#00ffff"/><path d="M54.51 291.22L56.51 293.22L54.51 295.22L52.51 293.22Z" fill="#00ffff"/><path d="M57.79 290.89L59.79 292.89L57.79 294.89L55.79 292.89Z" fill="#00ffff"/><path d="M61.07 290.64L63.07 292.64L61.07 294.64L59.07 292.64Z" fill="#00ffff"/><path d="M64.36 290.43L66.36 292.43L64.36 294.43L62.36 292.43Z" fill="#00ffff"/><path d="M67.64 290.28L69.64 292.28L67.64 294.28L65.64 292.28Z" fill="#00ffff"/><path d="M70.93 290.22L72.93 292.22L70.93 294.22L68.93 292.22Z" fill="#00ffff"/><path d="M74.21 290.23L76.21 292.23L74.21 294.23L72.21 292.23Z" fill="#00ffff"/><path d="M77.50 290.24L79.50 292.24L77.50 294.24L75.50 292.24Z" fill="#00ffff"/><path d="M80.78 290.26L82.78 292.26L80.78 294.26L78.78 292.26Z" fill="#00ffff"/><path d="M84.06 290.28L86.06 292.28L84.06 294.28L82.06 292.28Z" fill="#00ffff"/><path d="M87.35 290.31L89.35 292.31L87.35 294.31L85.35 292.31Z" fill="#00ffff"/><path d="M90.63 290.35L92.63 292.35L90.63 294.35L88.63 292.35Z" fill="#00ffff"/><path d="M93.92 290.39L95.92 292.39L93.92 294.39L91.92 292.39Z" fill="#00ffff"/><path d="M97.20 290.44L99.20 292.44L97.20 294.44L95.20 292.44Z" fill="#00ffff"/><path d="M100.49 290.50L102.49 292.50L100.49 294.50L98.49 292.50Z" fill="#00ffff"/><path d="M103.77 290.61L105.77 292.61L103.77 294.61L101.77 292.61Z" fill="#00ffff"/><path d="M107.05 290.81L109.05 292.81L107.05 294.81L105.05 292.81Z" fill="#00ffff"/><path d="M110.34 291.08L112.34 293.08L110.34 295.08L108.34 293.08Z" fill="#00ffff"/><path d="M113.62 291.40L115.62 293.40L113.62 295.40L111.62 293.40Z" fill="#00ffff"/><path d="M116.91 291.76L118.91 293.76L116.91 295.76L114.91 293.76Z" fill="#00ffff"/><path d="M120.19 292.12L122.19 294.12L120.19 296.12L118.19 294.12Z" fill="#00ffff"/><path d="M123.48 292.46L125.48 294.46L123.48 296.46L121.48 294.46Z" fill="#00ffff"/><path d="M126.76 292.81L128.76 294.81L126.76 296.81L124.76 294.81Z" fill="#00ffff"/><path d="M130.04 293.20L132.04 295.20L130.04 297.20L128.04 295.20Z" fill="#00ffff"/><path d="M133.33 293.60L135.33 295.60L133.33 297.60L131.33 295.60Z" fill="#00ffff"/><path d="M136.61 294.03L138.61 296.03L136.61 298.03L134.61 296.03Z" fill="#00ffff"/><path d="M139.90 294.46L141.90 296.46L139.90 298.46L137.90 296.46Z" fill="#00ffff"/><path d="M143.18 294.89L145.18 296.89L143.18 298.89L141.18 296.89Z" fill="#00ffff"/><path d="M146.47 295.32L148.47 297.32L146.47 299.32L144.47 297.32Z" fill="#00ffff"/><path d="M149.75 295.72L151.75 297.72L149.75 299.72L147.75 297.72Z" fill="#00ffff"/><path d="M153.03 296.09L155.03 298.09L153.03 300.09L151.03 298.09Z" fill="#00ffff"/><path d="M156.32 296.44L158.32 298.44L156.32 300.44L154.32 298.44Z" fill="#00ffff"/><path d="M159.60 296.80L161.60 298.80L159.60 300.80L157.60 298.80Z" fill="#00ffff"/><path d="M162.89 297.18L164.89 299.18L162.89 301.18L160.89 299.18Z" fill="#00ffff"/><path d="M166.17 297.61L168.17 299.61L166.17 301.61L164.17 299.61Z" fill="#00ffff"/><path d="M169.46 298.13L171.46 300.13L169.46 302.13L167.46 300.13Z" fill="#00ffff"/><path d="M172.74 298.73L174.74 300.73L172.74 302.73L170.74 300.73Z" fill="#00ffff"/><path d="M176.02 299.38L178.02 301.38L176.02 303.38L174.02 301.38Z" fill="#00ffff"/><path d="M179.31 300.02L181.31 302.02L179.31 304.02L177.31 302.02Z" fill="#00ffff"/><path d="M182.59 300.60L184.59 302.60L182.59 304.60L180.59 302.60Z" fill="#00ffff"/><path d="M185.88 301.14L187.88 303.14L185.88 305.14L183.88 303.14Z" fill="#00ffff"/><path d="M189.16 301.65L191.16 303.65L189.16 305.65L187.16 303.65Z" fill="#00ffff"/><path d="M192.45 302.15L194.45 304.15L192.45 306.15L190.45 304.15Z" fill="#00ffff"/><path d="M195.73 302.63L197.73 304.63L195.73 306.63L193.73 304.63Z" fill="#00ffff"/><path d="M199.01 303.10L201.01 305.10L199.01 307.10L197.01 305.10Z" fill="#00ffff"/><path d="M202.30 303.57L204.30 305.57L202.30 307.57L200.30 305.57Z" fill="#00ffff"/><path d="M205.58 304.02L207.58 306.02L205.58 308.02L203.58 306.02Z" fill="#00ffff"/><path d="M208.87 304.46L210.87 306.46L208.87 308.46L206.87 306.46Z" fill="#00ffff"/><path d="M212.15 304.90L214.15 306.90L212.15 308.90L210.15 306.90Z" fill="#00ffff"/><path d="M215.44 305.32L217.44 307.32L215.44 309.32L213.44 307.32Z" fill="#00ffff"/><path d="M218.72 305.73L220.72 307.73L218.72 309.73L216.72 307.73Z" fill="#00ffff"/><path d="M222.00 306.13L224.00 308.13L222.00 310.13L220.00 308.13Z" fill="#00ffff"/><path d="M225.29 306.52L227.29 308.52L225.29 310.52L223.29 308.52Z" fill="#00ffff"/><path d="M228.57 306.92L230.57 308.92L228.57 310.92L226.57 308.92Z" fill="#00ffff"/><path d="M231.86 307.32L233.86 309.32L231.86 311.32L229.86 309.32Z" fill="#00ffff"/><path d="M235.14 307.74L237.14 309.74L235.14 311.74L233.14 309.74Z" fill="#00ffff"/><path d="M238.43 308.18L240.43 310.18L238.43 312.18L236.43 310.18Z" fill="#00ffff"/><path d="M241.71 308.61L243.71 310.61L241.71 312.61L239.71 310.61Z" fill="#00ffff"/><path d="M244.99 309.05L246.99 311.05L244.99 313.05L242.99 311.05Z" fill="#00ffff"/><path d="M248.28 309.49L250.28 311.49L248.28 313.49L246.28 311.49Z" fill="#00ffff"/><path d="M251.56 309.92L253.56 311.92L251.56 313.92L249.56 311.92Z" fill="#00ffff"/><path d="M254.85 310.35L256.85 312.35L254.85 314.35L252.85 312.35Z" fill="#00ffff"/><path d="M258.13 310.78L260.13 312.78L258.13 314.78L256.13 312.78Z" fill="#00ffff"/><path d="M261.42 311.21L263.42 313.21L261.42 315.21L259.42 313.21Z" fill="#00ffff"/></g><clipPath id="clipc"><rect x="34.80" y="186.40" width="229.90" height="139.80"/></clipPath><path d="M34.80 326.20v-3.0M34.80 187.40v3.0M51.22 326.20v-1.8M51.22 187.40v1.8M67.64 326.20v-3.0M67.64 187.40v3.0M84.06 326.20v-1.8M84.06 187.40v1.8M100.49 326.20v-3.0M100.49 187.40v3.0M116.91 326.20v-1.8M116.91 187.40v1.8M133.33 326.20v-3.0M133.33 187.40v3.0M149.75 326.20v-1.8M149.75 187.40v1.8M166.17 326.20v-3.0M166.17 187.40v3.0M182.59 326.20v-1.8M182.59 187.40v1.8M199.01 326.20v-3.0M199.01 187.40v3.0M215.44 326.20v-1.8M215.44 187.40v1.8M231.86 326.20v-3.0M231.86 187.40v3.0M248.28 326.20v-1.8M248.28 187.40v1.8M264.70 326.20v-3.0M264.70 187.40v3.0M34.80 326.20h3.0M264.70 326.20h-3.0M34.80 312.32h1.8M264.70 312.32h-1.8M34.80 298.44h3.0M264.70 298.44h-3.0M34.80 284.56h1.8M264.70 284.56h-1.8M34.80 270.68h3.0M264.70 270.68h-3.0M34.80 256.80h1.8M264.70 256.80h-1.8M34.80 242.92h3.0M264.70 242.92h-3.0M34.80 229.04h1.8M264.70 229.04h-1.8M34.80 215.16h3.0M264.70 215.16h-3.0M34.80 201.28h1.8M264.70 201.28h-1.8M34.80 187.40h3.0M264.70 187.40h-3.0" stroke="#000" stroke-width="0.9" fill="none"/><rect x="34.80" y="187.40" width="229.90" height="138.80" fill="none" stroke="#000" stroke-width="1.3"/><g font-family='"Liberation Sans", Arial, sans-serif' font-size="7" fill="#000" stroke="#000" stroke-width="0.15"><text x="34.80" y="335.00" text-anchor="middle">0</text><text x="67.64" y="335.00" text-anchor="middle">10</text><text x="100.49" y="335.00" text-anchor="middle">20</text><text x="133.33" y="335.00" text-anchor="middle">30</text><text x="166.17" y="335.00" text-anchor="middle">40</text><text x="199.01" y="335.00" text-anchor="middle">50</text><text x="231.86" y="335.00" text-anchor="middle">60</text><text x="264.70" y="335.00" text-anchor="middle">70</text><text x="31.40" y="328.40" text-anchor="end">0</text><text x="31.40" y="300.64" text-anchor="end">500</text><text x="31.40" y="272.88" text-anchor="end">1000</text><text x="31.40" y="245.12" text-anchor="end">1500</text><text x="31.40" y="217.36" text-anchor="end">2000</text><text x="31.40" y="189.60" text-anchor="end">2500</text></g><text x="138.90" y="342.80" font-family='"Liberation Sans", Arial, sans-serif' font-weight="bold" font-size="8.5" textLength="21.6" lengthAdjust="spacingAndGlyphs" fill="#000">Delay</text><text transform="translate(13.30,262.35) rotate(-90)" x="0" y="0" text-anchor="middle" font-family='"Liberation Sans", Arial, sans-serif' font-weight="bold" font-size="8.4" textLength="95.7" lengthAdjust="spacingAndGlyphs" fill="#000">The number of packets</text><rect x="243.20" y="189.60" width="19.60" height="42.40" fill="#9a9a9a"/><rect x="242.20" y="188.60" width="19.60" height="42.40" fill="#fff" stroke="#555" stroke-width="0.6"/><line x1="243.50" y1="194.80" x2="253.00" y2="194.80" stroke="#000000" stroke-width="1.0"/><rect x="246.70" y="193.25" width="3.10" height="3.10" fill="#000000"/><text x="255.80" y="196.80" font-family='"Liberation Sans", Arial, sans-serif' font-style="italic" font-size="5.9" fill="#000" stroke="#000" stroke-width="0.05">Q<tspan font-size="3.8" dy="-2.3" stroke-width="0.05">1</tspan></text><line x1="243.50" y1="202.80" x2="253.00" y2="202.80" stroke="#ff0000" stroke-width="1.0"/><circle cx="248.25" cy="202.80" r="2.01" fill="#ff0000"/><text x="255.80" y="204.80" font-family='"Liberation Sans", Arial, sans-serif' font-style="italic" font-size="5.9" fill="#000" stroke="#000" stroke-width="0.05">Q<tspan font-size="3.8" dy="-2.3" stroke-width="0.05">2</tspan></text><line x1="243.50" y1="210.80" x2="253.00" y2="210.80" stroke="#0000ff" stroke-width="1.0" stroke-dasharray="1.6 2.2"/><path d="M248.25 208.27L250.32 212.37L246.18 212.37Z" fill="#0000ff"/><text x="255.80" y="212.80" font-family='"Liberation Sans", Arial, sans-serif' font-style="italic" font-size="5.9" fill="#000" stroke="#000" stroke-width="0.05">Q<tspan font-size="3.8" dy="-2.3" stroke-width="0.05">3</tspan></text><line x1="243.50" y1="218.80" x2="253.00" y2="218.80" stroke="#008080" stroke-width="1.0" stroke-dasharray="6 2.4 1 3"/><path d="M248.25 221.33L250.32 217.23L246.18 217.23Z" fill="#008080"/><text x="255.80" y="220.80" font-family='"Liberation Sans", Arial, sans-serif' font-style="italic" font-size="5.9" fill="#000" stroke="#000" stroke-width="0.05">Q<tspan font-size="3.8" dy="-2.3" stroke-width="0.05">4</tspan></text><line x1="243.50" y1="226.80" x2="253.00" y2="226.80" stroke="#00ffff" stroke-width="1.0"/><path d="M248.25 224.50L250.55 226.80L248.25 229.10L245.95 226.80Z" fill="#00ffff"/><text x="255.80" y="228.80" font-family='"Liberation Sans", Arial, sans-serif' font-style="italic" font-size="5.9" fill="#000" stroke="#000" stroke-width="0.05">Q<tspan font-size="3.8" dy="-2.3" stroke-width="0.05">5</tspan></text><g stroke="#a6a6a6" stroke-width="1"><line x1="346.50" y1="188.90" x2="346.50" y2="326.10" /><line x1="378.50" y1="188.90" x2="378.50" y2="326.10" /><line x1="411.50" y1="188.90" x2="411.50" y2="326.10" /><line x1="443.50" y1="188.90" x2="443.50" y2="326.10" /><line x1="476.50" y1="188.90" x2="476.50" y2="326.10" /><line x1="508.50" y1="188.90" x2="508.50" y2="326.10" /><line x1="313.50" y1="298.50" x2="541.50" y2="298.50" /><line x1="313.50" y1="271.50" x2="541.50" y2="271.50" /><line x1="313.50" y1="243.50" x2="541.50" y2="243.50" /><line x1="313.50" y1="216.50" x2="541.50" y2="216.50" /></g><g clip-path="url(#clipd)"><path d="M313.50 294.87 L316.76 288.12 L320.01 286.59 L323.27 285.76 L326.53 285.47 L329.79 285.26 L333.04 285.14 L336.30 285.11 L339.56 285.16 L342.81 285.26 L346.07 285.38 L349.33 285.50 L352.59 285.65 L355.84 285.82 L359.10 285.98 L362.36 286.12 L365.61 286.24 L368.87 286.34 L372.13 286.45 L375.39 286.58 L378.64 286.75 L381.90 287.00 L385.16 287.35 L388.41 287.77 L391.67 288.22 L394.93 288.67 L398.19 289.15 L401.44 289.68 L404.70 290.24 L407.96 290.79 L411.21 291.31 L414.47 291.78 L417.73 292.24 L420.99 292.69 L424.24 293.14 L427.50 293.61 L430.76 294.13 L434.01 294.67 L437.27 295.22 L440.53 295.74 L443.79 296.19 L447.04 296.57 L450.30 296.92 L453.56 297.24 L456.81 297.56 L460.07 297.89 L463.33 298.22 L466.59 298.53 L469.84 298.85 L473.10 299.23 L476.36 299.70 L479.61 300.36 L482.87 301.23 L486.13 302.28 L489.39 303.71 L492.64 305.47 L495.90 307.18 L499.16 308.64 L502.41 310.03 L505.67 311.37 L508.93 312.71 L512.19 314.13 L515.44 315.57 L518.70 316.83 L521.96 317.73 L525.21 318.45 L528.47 319.04 L531.73 319.55 L534.99 319.98 L538.24 320.34" fill="none" stroke="#000000" stroke-width="1.0"/><rect x="312.15" y="293.52" width="2.70" height="2.70" fill="#000000"/><rect x="315.41" y="286.77" width="2.70" height="2.70" fill="#000000"/><rect x="318.66" y="285.24" width="2.70" height="2.70" fill="#000000"/><rect x="321.92" y="284.41" width="2.70" height="2.70" fill="#000000"/><rect x="325.18" y="284.12" width="2.70" height="2.70" fill="#000000"/><rect x="328.44" y="283.91" width="2.70" height="2.70" fill="#000000"/><rect x="331.69" y="283.79" width="2.70" height="2.70" fill="#000000"/><rect x="334.95" y="283.76" width="2.70" height="2.70" fill="#000000"/><rect x="338.21" y="283.81" width="2.70" height="2.70" fill="#000000"/><rect x="341.46" y="283.91" width="2.70" height="2.70" fill="#000000"/><rect x="344.72" y="284.03" width="2.70" height="2.70" fill="#000000"/><rect x="347.98" y="284.15" width="2.70" height="2.70" fill="#000000"/><rect x="351.24" y="284.30" width="2.70" height="2.70" fill="#000000"/><rect x="354.49" y="284.47" width="2.70" height="2.70" fill="#000000"/><rect x="357.75" y="284.63" width="2.70" height="2.70" fill="#000000"/><rect x="361.01" y="284.77" width="2.70" height="2.70" fill="#000000"/><rect x="364.26" y="284.89" width="2.70" height="2.70" fill="#000000"/><rect x="367.52" y="284.99" width="2.70" height="2.70" fill="#000000"/><rect x="370.78" y="285.10" width="2.70" height="2.70" fill="#000000"/><rect x="374.04" y="285.23" width="2.70" height="2.70" fill="#000000"/><rect x="377.29" y="285.40" width="2.70" height="2.70" fill="#000000"/><rect x="380.55" y="285.65" width="2.70" height="2.70" fill="#000000"/><rect x="383.81" y="286.00" width="2.70" height="2.70" fill="#000000"/><rect x="387.06" y="286.42" width="2.70" height="2.70" fill="#000000"/><rect x="390.32" y="286.87" width="2.70" height="2.70" fill="#000000"/><rect x="393.58" y="287.32" width="2.70" height="2.70" fill="#000000"/><rect x="396.84" y="287.80" width="2.70" height="2.70" fill="#000000"/><rect x="400.09" y="288.33" width="2.70" height="2.70" fill="#000000"/><rect x="403.35" y="288.89" width="2.70" height="2.70" fill="#000000"/><rect x="406.61" y="289.44" width="2.70" height="2.70" fill="#000000"/><rect x="409.86" y="289.96" width="2.70" height="2.70" fill="#000000"/><rect x="413.12" y="290.43" width="2.70" height="2.70" fill="#000000"/><rect x="416.38" y="290.89" width="2.70" height="2.70" fill="#000000"/><rect x="419.64" y="291.34" width="2.70" height="2.70" fill="#000000"/><rect x="422.89" y="291.79" width="2.70" height="2.70" fill="#000000"/><rect x="426.15" y="292.26" width="2.70" height="2.70" fill="#000000"/><rect x="429.41" y="292.78" width="2.70" height="2.70" fill="#000000"/><rect x="432.66" y="293.32" width="2.70" height="2.70" fill="#000000"/><rect x="435.92" y="293.87" width="2.70" height="2.70" fill="#000000"/><rect x="439.18" y="294.39" width="2.70" height="2.70" fill="#000000"/><rect x="442.44" y="294.84" width="2.70" height="2.70" fill="#000000"/><rect x="445.69" y="295.22" width="2.70" height="2.70" fill="#000000"/><rect x="448.95" y="295.57" width="2.70" height="2.70" fill="#000000"/><rect x="452.21" y="295.89" width="2.70" height="2.70" fill="#000000"/><rect x="455.46" y="296.21" width="2.70" height="2.70" fill="#000000"/><rect x="458.72" y="296.54" width="2.70" height="2.70" fill="#000000"/><rect x="461.98" y="296.87" width="2.70" height="2.70" fill="#000000"/><rect x="465.24" y="297.18" width="2.70" height="2.70" fill="#000000"/><rect x="468.49" y="297.50" width="2.70" height="2.70" fill="#000000"/><rect x="471.75" y="297.88" width="2.70" height="2.70" fill="#000000"/><rect x="475.01" y="298.35" width="2.70" height="2.70" fill="#000000"/><rect x="478.26" y="299.01" width="2.70" height="2.70" fill="#000000"/><rect x="481.52" y="299.88" width="2.70" height="2.70" fill="#000000"/><rect x="484.78" y="300.93" width="2.70" height="2.70" fill="#000000"/><rect x="488.04" y="302.36" width="2.70" height="2.70" fill="#000000"/><rect x="491.29" y="304.12" width="2.70" height="2.70" fill="#000000"/><rect x="494.55" y="305.83" width="2.70" height="2.70" fill="#000000"/><rect x="497.81" y="307.29" width="2.70" height="2.70" fill="#000000"/><rect x="501.06" y="308.68" width="2.70" height="2.70" fill="#000000"/><rect x="504.32" y="310.02" width="2.70" height="2.70" fill="#000000"/><rect x="507.58" y="311.36" width="2.70" height="2.70" fill="#000000"/><rect x="510.84" y="312.78" width="2.70" height="2.70" fill="#000000"/><rect x="514.09" y="314.22" width="2.70" height="2.70" fill="#000000"/><rect x="517.35" y="315.48" width="2.70" height="2.70" fill="#000000"/><rect x="520.61" y="316.38" width="2.70" height="2.70" fill="#000000"/><rect x="523.86" y="317.10" width="2.70" height="2.70" fill="#000000"/><rect x="527.12" y="317.69" width="2.70" height="2.70" fill="#000000"/><rect x="530.38" y="318.20" width="2.70" height="2.70" fill="#000000"/><rect x="533.64" y="318.63" width="2.70" height="2.70" fill="#000000"/><rect x="536.89" y="318.99" width="2.70" height="2.70" fill="#000000"/><path d="M313.50 294.76 L316.76 288.01 L320.01 286.48 L323.27 285.65 L326.53 285.36 L329.79 285.15 L333.04 285.03 L336.30 285.00 L339.56 285.05 L342.81 285.16 L346.07 285.27 L349.33 285.39 L352.59 285.54 L355.84 285.71 L359.10 285.87 L362.36 286.01 L365.61 286.13 L368.87 286.23 L372.13 286.34 L375.39 286.47 L378.64 286.64 L381.90 286.89 L385.16 287.24 L388.41 287.66 L391.67 288.11 L394.93 288.56 L398.19 289.04 L401.44 289.57 L404.70 290.13 L407.96 290.68 L411.21 291.20 L414.47 291.67 L417.73 292.13 L420.99 292.58 L424.24 293.03 L427.50 293.50 L430.76 294.02 L434.01 294.56 L437.27 295.11 L440.53 295.63 L443.79 296.08 L447.04 296.46 L450.30 296.81 L453.56 297.13 L456.81 297.45 L460.07 297.78 L463.33 298.11 L466.59 298.42 L469.84 298.74 L473.10 299.12 L476.36 299.59 L479.61 300.25 L482.87 301.12 L486.13 302.17 L489.39 303.60 L492.64 305.36 L495.90 307.07 L499.16 308.53 L502.41 309.92 L505.67 311.26 L508.93 312.60 L512.19 314.02 L515.44 315.46 L518.70 316.72 L521.96 317.62 L525.21 318.34 L528.47 318.93 L531.73 319.44 L534.99 319.87 L538.24 320.23" fill="none" stroke="#ff0000" stroke-width="1.0"/><circle cx="313.50" cy="294.76" r="1.75" fill="#ff0000"/><circle cx="316.76" cy="288.01" r="1.75" fill="#ff0000"/><circle cx="320.01" cy="286.48" r="1.75" fill="#ff0000"/><circle cx="323.27" cy="285.65" r="1.75" fill="#ff0000"/><circle cx="326.53" cy="285.36" r="1.75" fill="#ff0000"/><circle cx="329.79" cy="285.15" r="1.75" fill="#ff0000"/><circle cx="333.04" cy="285.03" r="1.75" fill="#ff0000"/><circle cx="336.30" cy="285.00" r="1.75" fill="#ff0000"/><circle cx="339.56" cy="285.05" r="1.75" fill="#ff0000"/><circle cx="342.81" cy="285.16" r="1.75" fill="#ff0000"/><circle cx="346.07" cy="285.27" r="1.75" fill="#ff0000"/><circle cx="349.33" cy="285.39" r="1.75" fill="#ff0000"/><circle cx="352.59" cy="285.54" r="1.75" fill="#ff0000"/><circle cx="355.84" cy="285.71" r="1.75" fill="#ff0000"/><circle cx="359.10" cy="285.87" r="1.75" fill="#ff0000"/><circle cx="362.36" cy="286.01" r="1.75" fill="#ff0000"/><circle cx="365.61" cy="286.13" r="1.75" fill="#ff0000"/><circle cx="368.87" cy="286.23" r="1.75" fill="#ff0000"/><circle cx="372.13" cy="286.34" r="1.75" fill="#ff0000"/><circle cx="375.39" cy="286.47" r="1.75" fill="#ff0000"/><circle cx="378.64" cy="286.64" r="1.75" fill="#ff0000"/><circle cx="381.90" cy="286.89" r="1.75" fill="#ff0000"/><circle cx="385.16" cy="287.24" r="1.75" fill="#ff0000"/><circle cx="388.41" cy="287.66" r="1.75" fill="#ff0000"/><circle cx="391.67" cy="288.11" r="1.75" fill="#ff0000"/><circle cx="394.93" cy="288.56" r="1.75" fill="#ff0000"/><circle cx="398.19" cy="289.04" r="1.75" fill="#ff0000"/><circle cx="401.44" cy="289.57" r="1.75" fill="#ff0000"/><circle cx="404.70" cy="290.13" r="1.75" fill="#ff0000"/><circle cx="407.96" cy="290.68" r="1.75" fill="#ff0000"/><circle cx="411.21" cy="291.20" r="1.75" fill="#ff0000"/><circle cx="414.47" cy="291.67" r="1.75" fill="#ff0000"/><circle cx="417.73" cy="292.13" r="1.75" fill="#ff0000"/><circle cx="420.99" cy="292.58" r="1.75" fill="#ff0000"/><circle cx="424.24" cy="293.03" r="1.75" fill="#ff0000"/><circle cx="427.50" cy="293.50" r="1.75" fill="#ff0000"/><circle cx="430.76" cy="294.02" r="1.75" fill="#ff0000"/><circle cx="434.01" cy="294.56" r="1.75" fill="#ff0000"/><circle cx="437.27" cy="295.11" r="1.75" fill="#ff0000"/><circle cx="440.53" cy="295.63" r="1.75" fill="#ff0000"/><circle cx="443.79" cy="296.08" r="1.75" fill="#ff0000"/><circle cx="447.04" cy="296.46" r="1.75" fill="#ff0000"/><circle cx="450.30" cy="296.81" r="1.75" fill="#ff0000"/><circle cx="453.56" cy="297.13" r="1.75" fill="#ff0000"/><circle cx="456.81" cy="297.45" r="1.75" fill="#ff0000"/><circle cx="460.07" cy="297.78" r="1.75" fill="#ff0000"/><circle cx="463.33" cy="298.11" r="1.75" fill="#ff0000"/><circle cx="466.59" cy="298.42" r="1.75" fill="#ff0000"/><circle cx="469.84" cy="298.74" r="1.75" fill="#ff0000"/><circle cx="473.10" cy="299.12" r="1.75" fill="#ff0000"/><circle cx="476.36" cy="299.59" r="1.75" fill="#ff0000"/><circle cx="479.61" cy="300.25" r="1.75" fill="#ff0000"/><circle cx="482.87" cy="301.12" r="1.75" fill="#ff0000"/><circle cx="486.13" cy="302.17" r="1.75" fill="#ff0000"/><circle cx="489.39" cy="303.60" r="1.75" fill="#ff0000"/><circle cx="492.64" cy="305.36" r="1.75" fill="#ff0000"/><circle cx="495.90" cy="307.07" r="1.75" fill="#ff0000"/><circle cx="499.16" cy="308.53" r="1.75" fill="#ff0000"/><circle cx="502.41" cy="309.92" r="1.75" fill="#ff0000"/><circle cx="505.67" cy="311.26" r="1.75" fill="#ff0000"/><circle cx="508.93" cy="312.60" r="1.75" fill="#ff0000"/><circle cx="512.19" cy="314.02" r="1.75" fill="#ff0000"/><circle cx="515.44" cy="315.46" r="1.75" fill="#ff0000"/><circle cx="518.70" cy="316.72" r="1.75" fill="#ff0000"/><circle cx="521.96" cy="317.62" r="1.75" fill="#ff0000"/><circle cx="525.21" cy="318.34" r="1.75" fill="#ff0000"/><circle cx="528.47" cy="318.93" r="1.75" fill="#ff0000"/><circle cx="531.73" cy="319.44" r="1.75" fill="#ff0000"/><circle cx="534.99" cy="319.87" r="1.75" fill="#ff0000"/><circle cx="538.24" cy="320.23" r="1.75" fill="#ff0000"/><path d="M313.50 294.65 L316.76 287.90 L320.01 286.37 L323.27 285.54 L326.53 285.25 L329.79 285.04 L333.04 284.92 L336.30 284.89 L339.56 284.94 L342.81 285.05 L346.07 285.16 L349.33 285.28 L352.59 285.43 L355.84 285.60 L359.10 285.76 L362.36 285.90 L365.61 286.02 L368.87 286.12 L372.13 286.23 L375.39 286.36 L378.64 286.53 L381.90 286.78 L385.16 287.13 L388.41 287.55 L391.67 288.00 L394.93 288.45 L398.19 288.93 L401.44 289.46 L404.70 290.02 L407.96 290.57 L411.21 291.09 L414.47 291.56 L417.73 292.02 L420.99 292.47 L424.24 292.92 L427.50 293.39 L430.76 293.91 L434.01 294.45 L437.27 295.00 L440.53 295.52 L443.79 295.97 L447.04 296.35 L450.30 296.70 L453.56 297.02 L456.81 297.34 L460.07 297.67 L463.33 298.00 L466.59 298.31 L469.84 298.63 L473.10 299.01 L476.36 299.48 L479.61 300.14 L482.87 301.01 L486.13 302.06 L489.39 303.49 L492.64 305.25 L495.90 306.96 L499.16 308.42 L502.41 309.81 L505.67 311.15 L508.93 312.49 L512.19 313.91 L515.44 315.35 L518.70 316.61 L521.96 317.51 L525.21 318.23 L528.47 318.82 L531.73 319.33 L534.99 319.76 L538.24 320.12" fill="none" stroke="#0000ff" stroke-width="1.0"/><path d="M313.50 292.45L315.30 296.02L311.70 296.02Z" fill="#0000ff"/><path d="M316.76 285.70L318.56 289.27L314.96 289.27Z" fill="#0000ff"/><path d="M320.01 284.17L321.81 287.73L318.21 287.73Z" fill="#0000ff"/><path d="M323.27 283.34L325.07 286.91L321.47 286.91Z" fill="#0000ff"/><path d="M326.53 283.05L328.33 286.62L324.73 286.62Z" fill="#0000ff"/><path d="M329.79 282.84L331.59 286.41L327.99 286.41Z" fill="#0000ff"/><path d="M333.04 282.72L334.84 286.28L331.24 286.28Z" fill="#0000ff"/><path d="M336.30 282.69L338.10 286.25L334.50 286.25Z" fill="#0000ff"/><path d="M339.56 282.74L341.36 286.31L337.76 286.31Z" fill="#0000ff"/><path d="M342.81 282.85L344.61 286.41L341.01 286.41Z" fill="#0000ff"/><path d="M346.07 282.96L347.87 286.52L344.27 286.52Z" fill="#0000ff"/><path d="M349.33 283.08L351.13 286.65L347.53 286.65Z" fill="#0000ff"/><path d="M352.59 283.23L354.39 286.80L350.79 286.80Z" fill="#0000ff"/><path d="M355.84 283.40L357.64 286.96L354.04 286.96Z" fill="#0000ff"/><path d="M359.10 283.56L360.90 287.12L357.30 287.12Z" fill="#0000ff"/><path d="M362.36 283.70L364.16 287.26L360.56 287.26Z" fill="#0000ff"/><path d="M365.61 283.82L367.41 287.38L363.81 287.38Z" fill="#0000ff"/><path d="M368.87 283.92L370.67 287.49L367.07 287.49Z" fill="#0000ff"/><path d="M372.13 284.03L373.93 287.60L370.33 287.60Z" fill="#0000ff"/><path d="M375.39 284.16L377.19 287.73L373.59 287.73Z" fill="#0000ff"/><path d="M378.64 284.33L380.44 287.90L376.84 287.90Z" fill="#0000ff"/><path d="M381.90 284.58L383.70 288.15L380.10 288.15Z" fill="#0000ff"/><path d="M385.16 284.93L386.96 288.50L383.36 288.50Z" fill="#0000ff"/><path d="M388.41 285.35L390.21 288.91L386.61 288.91Z" fill="#0000ff"/><path d="M391.67 285.80L393.47 289.36L389.87 289.36Z" fill="#0000ff"/><path d="M394.93 286.25L396.73 289.82L393.13 289.82Z" fill="#0000ff"/><path d="M398.19 286.73L399.99 290.30L396.39 290.30Z" fill="#0000ff"/><path d="M401.44 287.26L403.24 290.83L399.64 290.83Z" fill="#0000ff"/><path d="M404.70 287.82L406.50 291.38L402.90 291.38Z" fill="#0000ff"/><path d="M407.96 288.37L409.76 291.93L406.16 291.93Z" fill="#0000ff"/><path d="M411.21 288.89L413.01 292.45L409.41 292.45Z" fill="#0000ff"/><path d="M414.47 289.36L416.27 292.93L412.67 292.93Z" fill="#0000ff"/><path d="M417.73 289.82L419.53 293.38L415.93 293.38Z" fill="#0000ff"/><path d="M420.99 290.27L422.79 293.83L419.19 293.83Z" fill="#0000ff"/><path d="M424.24 290.72L426.04 294.28L422.44 294.28Z" fill="#0000ff"/><path d="M427.50 291.19L429.30 294.76L425.70 294.76Z" fill="#0000ff"/><path d="M430.76 291.71L432.56 295.27L428.96 295.27Z" fill="#0000ff"/><path d="M434.01 292.25L435.81 295.82L432.21 295.82Z" fill="#0000ff"/><path d="M437.27 292.80L439.07 296.37L435.47 296.37Z" fill="#0000ff"/><path d="M440.53 293.32L442.33 296.88L438.73 296.88Z" fill="#0000ff"/><path d="M443.79 293.77L445.59 297.33L441.99 297.33Z" fill="#0000ff"/><path d="M447.04 294.15L448.84 297.72L445.24 297.72Z" fill="#0000ff"/><path d="M450.30 294.50L452.10 298.06L448.50 298.06Z" fill="#0000ff"/><path d="M453.56 294.82L455.36 298.38L451.76 298.38Z" fill="#0000ff"/><path d="M456.81 295.14L458.61 298.70L455.01 298.70Z" fill="#0000ff"/><path d="M460.07 295.47L461.87 299.04L458.27 299.04Z" fill="#0000ff"/><path d="M463.33 295.80L465.13 299.36L461.53 299.36Z" fill="#0000ff"/><path d="M466.59 296.11L468.39 299.67L464.79 299.67Z" fill="#0000ff"/><path d="M469.84 296.43L471.64 300.00L468.04 300.00Z" fill="#0000ff"/><path d="M473.10 296.81L474.90 300.38L471.30 300.38Z" fill="#0000ff"/><path d="M476.36 297.28L478.16 300.85L474.56 300.85Z" fill="#0000ff"/><path d="M479.61 297.94L481.41 301.50L477.81 301.50Z" fill="#0000ff"/><path d="M482.87 298.81L484.67 302.38L481.07 302.38Z" fill="#0000ff"/><path d="M486.13 299.86L487.93 303.43L484.33 303.43Z" fill="#0000ff"/><path d="M489.39 301.29L491.19 304.85L487.59 304.85Z" fill="#0000ff"/><path d="M492.64 303.05L494.44 306.62L490.84 306.62Z" fill="#0000ff"/><path d="M495.90 304.76L497.70 308.32L494.10 308.32Z" fill="#0000ff"/><path d="M499.16 306.22L500.96 309.79L497.36 309.79Z" fill="#0000ff"/><path d="M502.41 307.61L504.21 311.17L500.61 311.17Z" fill="#0000ff"/><path d="M505.67 308.95L507.47 312.52L503.87 312.52Z" fill="#0000ff"/><path d="M508.93 310.29L510.73 313.85L507.13 313.85Z" fill="#0000ff"/><path d="M512.19 311.71L513.99 315.28L510.39 315.28Z" fill="#0000ff"/><path d="M515.44 313.15L517.24 316.72L513.64 316.72Z" fill="#0000ff"/><path d="M518.70 314.41L520.50 317.97L516.90 317.97Z" fill="#0000ff"/><path d="M521.96 315.31L523.76 318.88L520.16 318.88Z" fill="#0000ff"/><path d="M525.21 316.03L527.01 319.59L523.41 319.59Z" fill="#0000ff"/><path d="M528.47 316.62L530.27 320.18L526.67 320.18Z" fill="#0000ff"/><path d="M531.73 317.13L533.53 320.69L529.93 320.69Z" fill="#0000ff"/><path d="M534.99 317.56L536.79 321.13L533.19 321.13Z" fill="#0000ff"/><path d="M538.24 317.92L540.04 321.48L536.44 321.48Z" fill="#0000ff"/><path d="M313.50 294.43 L316.76 287.68 L320.01 286.15 L323.27 285.32 L326.53 285.03 L329.79 284.82 L333.04 284.70 L336.30 284.67 L339.56 284.72 L342.81 284.83 L346.07 284.94 L349.33 285.06 L352.59 285.21 L355.84 285.38 L359.10 285.54 L362.36 285.68 L365.61 285.80 L368.87 285.90 L372.13 286.01 L375.39 286.14 L378.64 286.31 L381.90 286.56 L385.16 286.91 L388.41 287.33 L391.67 287.78 L394.93 288.23 L398.19 288.71 L401.44 289.24 L404.70 289.80 L407.96 290.35 L411.21 290.87 L414.47 291.34 L417.73 291.80 L420.99 292.25 L424.24 292.70 L427.50 293.17 L430.76 293.69 L434.01 294.23 L437.27 294.78 L440.53 295.30 L443.79 295.75 L447.04 296.13 L450.30 296.48 L453.56 296.80 L456.81 297.12 L460.07 297.45 L463.33 297.78 L466.59 298.09 L469.84 298.41 L473.10 298.79 L476.36 299.26 L479.61 299.92 L482.87 300.79 L486.13 301.84 L489.39 303.27 L492.64 305.03 L495.90 306.74 L499.16 308.20 L502.41 309.59 L505.67 310.93 L508.93 312.27 L512.19 313.69 L515.44 315.13 L518.70 316.39 L521.96 317.29 L525.21 318.01 L528.47 318.60 L531.73 319.11 L534.99 319.54 L538.24 319.90" fill="none" stroke="#008080" stroke-width="1.0"/><path d="M313.50 296.63L315.30 293.07L311.70 293.07Z" fill="#008080"/><path d="M316.76 289.88L318.56 286.32L314.96 286.32Z" fill="#008080"/><path d="M320.01 288.35L321.81 284.78L318.21 284.78Z" fill="#008080"/><path d="M323.27 287.52L325.07 283.96L321.47 283.96Z" fill="#008080"/><path d="M326.53 287.23L328.33 283.67L324.73 283.67Z" fill="#008080"/><path d="M329.79 287.02L331.59 283.46L327.99 283.46Z" fill="#008080"/><path d="M333.04 286.90L334.84 283.33L331.24 283.33Z" fill="#008080"/><path d="M336.30 286.87L338.10 283.30L334.50 283.30Z" fill="#008080"/><path d="M339.56 286.92L341.36 283.36L337.76 283.36Z" fill="#008080"/><path d="M342.81 287.03L344.61 283.46L341.01 283.46Z" fill="#008080"/><path d="M346.07 287.14L347.87 283.58L344.27 283.58Z" fill="#008080"/><path d="M349.33 287.26L351.13 283.70L347.53 283.70Z" fill="#008080"/><path d="M352.59 287.41L354.39 283.85L350.79 283.85Z" fill="#008080"/><path d="M355.84 287.58L357.64 284.01L354.04 284.01Z" fill="#008080"/><path d="M359.10 287.74L360.90 284.17L357.30 284.17Z" fill="#008080"/><path d="M362.36 287.88L364.16 284.32L360.56 284.32Z" fill="#008080"/><path d="M365.61 288.00L367.41 284.43L363.81 284.43Z" fill="#008080"/><path d="M368.87 288.10L370.67 284.54L367.07 284.54Z" fill="#008080"/><path d="M372.13 288.21L373.93 284.65L370.33 284.65Z" fill="#008080"/><path d="M375.39 288.34L377.19 284.78L373.59 284.78Z" fill="#008080"/><path d="M378.64 288.51L380.44 284.95L376.84 284.95Z" fill="#008080"/><path d="M381.90 288.76L383.70 285.20L380.10 285.20Z" fill="#008080"/><path d="M385.16 289.11L386.96 285.55L383.36 285.55Z" fill="#008080"/><path d="M388.41 289.53L390.21 285.96L386.61 285.96Z" fill="#008080"/><path d="M391.67 289.98L393.47 286.42L389.87 286.42Z" fill="#008080"/><path d="M394.93 290.43L396.73 286.87L393.13 286.87Z" fill="#008080"/><path d="M398.19 290.91L399.99 287.35L396.39 287.35Z" fill="#008080"/><path d="M401.44 291.44L403.24 287.88L399.64 287.88Z" fill="#008080"/><path d="M404.70 292.00L406.50 288.44L402.90 288.44Z" fill="#008080"/><path d="M407.96 292.55L409.76 288.99L406.16 288.99Z" fill="#008080"/><path d="M411.21 293.07L413.01 289.50L409.41 289.50Z" fill="#008080"/><path d="M414.47 293.54L416.27 289.98L412.67 289.98Z" fill="#008080"/><path d="M417.73 294.00L419.53 290.43L415.93 290.43Z" fill="#008080"/><path d="M420.99 294.45L422.79 290.88L419.19 290.88Z" fill="#008080"/><path d="M424.24 294.90L426.04 291.34L422.44 291.34Z" fill="#008080"/><path d="M427.50 295.37L429.30 291.81L425.70 291.81Z" fill="#008080"/><path d="M430.76 295.89L432.56 292.32L428.96 292.32Z" fill="#008080"/><path d="M434.01 296.43L435.81 292.87L432.21 292.87Z" fill="#008080"/><path d="M437.27 296.98L439.07 293.42L435.47 293.42Z" fill="#008080"/><path d="M440.53 297.50L442.33 293.93L438.73 293.93Z" fill="#008080"/><path d="M443.79 297.95L445.59 294.39L441.99 294.39Z" fill="#008080"/><path d="M447.04 298.33L448.84 294.77L445.24 294.77Z" fill="#008080"/><path d="M450.30 298.68L452.10 295.11L448.50 295.11Z" fill="#008080"/><path d="M453.56 299.00L455.36 295.43L451.76 295.43Z" fill="#008080"/><path d="M456.81 299.32L458.61 295.75L455.01 295.75Z" fill="#008080"/><path d="M460.07 299.65L461.87 296.09L458.27 296.09Z" fill="#008080"/><path d="M463.33 299.98L465.13 296.42L461.53 296.42Z" fill="#008080"/><path d="M466.59 300.29L468.39 296.73L464.79 296.73Z" fill="#008080"/><path d="M469.84 300.61L471.64 297.05L468.04 297.05Z" fill="#008080"/><path d="M473.10 300.99L474.90 297.43L471.30 297.43Z" fill="#008080"/><path d="M476.36 301.46L478.16 297.90L474.56 297.90Z" fill="#008080"/><path d="M479.61 302.12L481.41 298.55L477.81 298.55Z" fill="#008080"/><path d="M482.87 302.99L484.67 299.43L481.07 299.43Z" fill="#008080"/><path d="M486.13 304.04L487.93 300.48L484.33 300.48Z" fill="#008080"/><path d="M489.39 305.47L491.19 301.90L487.59 301.90Z" fill="#008080"/><path d="M492.64 307.23L494.44 303.67L490.84 303.67Z" fill="#008080"/><path d="M495.90 308.94L497.70 305.38L494.10 305.38Z" fill="#008080"/><path d="M499.16 310.40L500.96 306.84L497.36 306.84Z" fill="#008080"/><path d="M502.41 311.79L504.21 308.22L500.61 308.22Z" fill="#008080"/><path d="M505.67 313.13L507.47 309.57L503.87 309.57Z" fill="#008080"/><path d="M508.93 314.47L510.73 310.91L507.13 310.91Z" fill="#008080"/><path d="M512.19 315.89L513.99 312.33L510.39 312.33Z" fill="#008080"/><path d="M515.44 317.33L517.24 313.77L513.64 313.77Z" fill="#008080"/><path d="M518.70 318.59L520.50 315.02L516.90 315.02Z" fill="#008080"/><path d="M521.96 319.49L523.76 315.93L520.16 315.93Z" fill="#008080"/><path d="M525.21 320.21L527.01 316.64L523.41 316.64Z" fill="#008080"/><path d="M528.47 320.80L530.27 317.23L526.67 317.23Z" fill="#008080"/><path d="M531.73 321.31L533.53 317.74L529.93 317.74Z" fill="#008080"/><path d="M534.99 321.74L536.79 318.18L533.19 318.18Z" fill="#008080"/><path d="M538.24 322.10L540.04 318.53L536.44 318.53Z" fill="#008080"/><path d="M313.50 294.00 L316.76 287.24 L320.01 285.71 L323.27 284.89 L326.53 284.59 L329.79 284.38 L333.04 284.26 L336.30 284.23 L339.56 284.28 L342.81 284.39 L346.07 284.50 L349.33 284.63 L352.59 284.78 L355.84 284.94 L359.10 285.10 L362.36 285.24 L365.61 285.36 L368.87 285.47 L372.13 285.58 L375.39 285.71 L378.64 285.87 L381.90 286.12 L385.16 286.47 L388.41 286.89 L391.67 287.34 L394.93 287.79 L398.19 288.27 L401.44 288.80 L404.70 289.36 L407.96 289.91 L411.21 290.43 L414.47 290.90 L417.73 291.36 L420.99 291.81 L424.24 292.26 L427.50 292.73 L430.76 293.25 L434.01 293.79 L437.27 294.34 L440.53 294.86 L443.79 295.31 L447.04 295.70 L450.30 296.04 L453.56 296.36 L456.81 296.68 L460.07 297.01 L463.33 297.34 L466.59 297.65 L469.84 297.98 L473.10 298.35 L476.36 298.82 L479.61 299.48 L482.87 300.35 L486.13 301.40 L489.39 302.83 L492.64 304.59 L495.90 306.30 L499.16 307.76 L502.41 309.15 L505.67 310.49 L508.93 311.83 L512.19 313.25 L515.44 314.70 L518.70 315.95 L521.96 316.85 L525.21 317.57 L528.47 318.16 L531.73 318.67 L534.99 319.11 L538.24 319.46" fill="none" stroke="#00ffff" stroke-width="1.0"/><path d="M313.50 292.00L315.50 294.00L313.50 296.00L311.50 294.00Z" fill="#00ffff"/><path d="M316.76 285.24L318.76 287.24L316.76 289.24L314.76 287.24Z" fill="#00ffff"/><path d="M320.01 283.71L322.01 285.71L320.01 287.71L318.01 285.71Z" fill="#00ffff"/><path d="M323.27 282.89L325.27 284.89L323.27 286.89L321.27 284.89Z" fill="#00ffff"/><path d="M326.53 282.59L328.53 284.59L326.53 286.59L324.53 284.59Z" fill="#00ffff"/><path d="M329.79 282.38L331.79 284.38L329.79 286.38L327.79 284.38Z" fill="#00ffff"/><path d="M333.04 282.26L335.04 284.26L333.04 286.26L331.04 284.26Z" fill="#00ffff"/><path d="M336.30 282.23L338.30 284.23L336.30 286.23L334.30 284.23Z" fill="#00ffff"/><path d="M339.56 282.28L341.56 284.28L339.56 286.28L337.56 284.28Z" fill="#00ffff"/><path d="M342.81 282.39L344.81 284.39L342.81 286.39L340.81 284.39Z" fill="#00ffff"/><path d="M346.07 282.50L348.07 284.50L346.07 286.50L344.07 284.50Z" fill="#00ffff"/><path d="M349.33 282.63L351.33 284.63L349.33 286.63L347.33 284.63Z" fill="#00ffff"/><path d="M352.59 282.78L354.59 284.78L352.59 286.78L350.59 284.78Z" fill="#00ffff"/><path d="M355.84 282.94L357.84 284.94L355.84 286.94L353.84 284.94Z" fill="#00ffff"/><path d="M359.10 283.10L361.10 285.10L359.10 287.10L357.10 285.10Z" fill="#00ffff"/><path d="M362.36 283.24L364.36 285.24L362.36 287.24L360.36 285.24Z" fill="#00ffff"/><path d="M365.61 283.36L367.61 285.36L365.61 287.36L363.61 285.36Z" fill="#00ffff"/><path d="M368.87 283.47L370.87 285.47L368.87 287.47L366.87 285.47Z" fill="#00ffff"/><path d="M372.13 283.58L374.13 285.58L372.13 287.58L370.13 285.58Z" fill="#00ffff"/><path d="M375.39 283.71L377.39 285.71L375.39 287.71L373.39 285.71Z" fill="#00ffff"/><path d="M378.64 283.87L380.64 285.87L378.64 287.87L376.64 285.87Z" fill="#00ffff"/><path d="M381.90 284.12L383.90 286.12L381.90 288.12L379.90 286.12Z" fill="#00ffff"/><path d="M385.16 284.47L387.16 286.47L385.16 288.47L383.16 286.47Z" fill="#00ffff"/><path d="M388.41 284.89L390.41 286.89L388.41 288.89L386.41 286.89Z" fill="#00ffff"/><path d="M391.67 285.34L393.67 287.34L391.67 289.34L389.67 287.34Z" fill="#00ffff"/><path d="M394.93 285.79L396.93 287.79L394.93 289.79L392.93 287.79Z" fill="#00ffff"/><path d="M398.19 286.27L400.19 288.27L398.19 290.27L396.19 288.27Z" fill="#00ffff"/><path d="M401.44 286.80L403.44 288.80L401.44 290.80L399.44 288.80Z" fill="#00ffff"/><path d="M404.70 287.36L406.70 289.36L404.70 291.36L402.70 289.36Z" fill="#00ffff"/><path d="M407.96 287.91L409.96 289.91L407.96 291.91L405.96 289.91Z" fill="#00ffff"/><path d="M411.21 288.43L413.21 290.43L411.21 292.43L409.21 290.43Z" fill="#00ffff"/><path d="M414.47 288.90L416.47 290.90L414.47 292.90L412.47 290.90Z" fill="#00ffff"/><path d="M417.73 289.36L419.73 291.36L417.73 293.36L415.73 291.36Z" fill="#00ffff"/><path d="M420.99 289.81L422.99 291.81L420.99 293.81L418.99 291.81Z" fill="#00ffff"/><path d="M424.24 290.26L426.24 292.26L424.24 294.26L422.24 292.26Z" fill="#00ffff"/><path d="M427.50 290.73L429.50 292.73L427.50 294.73L425.50 292.73Z" fill="#00ffff"/><path d="M430.76 291.25L432.76 293.25L430.76 295.25L428.76 293.25Z" fill="#00ffff"/><path d="M434.01 291.79L436.01 293.79L434.01 295.79L432.01 293.79Z" fill="#00ffff"/><path d="M437.27 292.34L439.27 294.34L437.27 296.34L435.27 294.34Z" fill="#00ffff"/><path d="M440.53 292.86L442.53 294.86L440.53 296.86L438.53 294.86Z" fill="#00ffff"/><path d="M443.79 293.31L445.79 295.31L443.79 297.31L441.79 295.31Z" fill="#00ffff"/><path d="M447.04 293.70L449.04 295.70L447.04 297.70L445.04 295.70Z" fill="#00ffff"/><path d="M450.30 294.04L452.30 296.04L450.30 298.04L448.30 296.04Z" fill="#00ffff"/><path d="M453.56 294.36L455.56 296.36L453.56 298.36L451.56 296.36Z" fill="#00ffff"/><path d="M456.81 294.68L458.81 296.68L456.81 298.68L454.81 296.68Z" fill="#00ffff"/><path d="M460.07 295.01L462.07 297.01L460.07 299.01L458.07 297.01Z" fill="#00ffff"/><path d="M463.33 295.34L465.33 297.34L463.33 299.34L461.33 297.34Z" fill="#00ffff"/><path d="M466.59 295.65L468.59 297.65L466.59 299.65L464.59 297.65Z" fill="#00ffff"/><path d="M469.84 295.98L471.84 297.98L469.84 299.98L467.84 297.98Z" fill="#00ffff"/><path d="M473.10 296.35L475.10 298.35L473.10 300.35L471.10 298.35Z" fill="#00ffff"/><path d="M476.36 296.82L478.36 298.82L476.36 300.82L474.36 298.82Z" fill="#00ffff"/><path d="M479.61 297.48L481.61 299.48L479.61 301.48L477.61 299.48Z" fill="#00ffff"/><path d="M482.87 298.35L484.87 300.35L482.87 302.35L480.87 300.35Z" fill="#00ffff"/><path d="M486.13 299.40L488.13 301.40L486.13 303.40L484.13 301.40Z" fill="#00ffff"/><path d="M489.39 300.83L491.39 302.83L489.39 304.83L487.39 302.83Z" fill="#00ffff"/><path d="M492.64 302.59L494.64 304.59L492.64 306.59L490.64 304.59Z" fill="#00ffff"/><path d="M495.90 304.30L497.90 306.30L495.90 308.30L493.90 306.30Z" fill="#00ffff"/><path d="M499.16 305.76L501.16 307.76L499.16 309.76L497.16 307.76Z" fill="#00ffff"/><path d="M502.41 307.15L504.41 309.15L502.41 311.15L500.41 309.15Z" fill="#00ffff"/><path d="M505.67 308.49L507.67 310.49L505.67 312.49L503.67 310.49Z" fill="#00ffff"/><path d="M508.93 309.83L510.93 311.83L508.93 313.83L506.93 311.83Z" fill="#00ffff"/><path d="M512.19 311.25L514.19 313.25L512.19 315.25L510.19 313.25Z" fill="#00ffff"/><path d="M515.44 312.70L517.44 314.70L515.44 316.70L513.44 314.70Z" fill="#00ffff"/><path d="M518.70 313.95L520.70 315.95L518.70 317.95L516.70 315.95Z" fill="#00ffff"/><path d="M521.96 314.85L523.96 316.85L521.96 318.85L519.96 316.85Z" fill="#00ffff"/><path d="M525.21 315.57L527.21 317.57L525.21 319.57L523.21 317.57Z" fill="#00ffff"/><path d="M528.47 316.16L530.47 318.16L528.47 320.16L526.47 318.16Z" fill="#00ffff"/><path d="M531.73 316.67L533.73 318.67L531.73 320.67L529.73 318.67Z" fill="#00ffff"/><path d="M534.99 317.11L536.99 319.11L534.99 321.11L532.99 319.11Z" fill="#00ffff"/><path d="M538.24 317.46L540.24 319.46L538.24 321.46L536.24 319.46Z" fill="#00ffff"/></g><clipPath id="clipd"><rect x="313.50" y="187.90" width="228.00" height="138.20"/></clipPath><path d="M313.50 326.10v-3.0M313.50 188.90v3.0M329.79 326.10v-1.8M329.79 188.90v1.8M346.07 326.10v-3.0M346.07 188.90v3.0M362.36 326.10v-1.8M362.36 188.90v1.8M378.64 326.10v-3.0M378.64 188.90v3.0M394.93 326.10v-1.8M394.93 188.90v1.8M411.21 326.10v-3.0M411.21 188.90v3.0M427.50 326.10v-1.8M427.50 188.90v1.8M443.79 326.10v-3.0M443.79 188.90v3.0M460.07 326.10v-1.8M460.07 188.90v1.8M476.36 326.10v-3.0M476.36 188.90v3.0M492.64 326.10v-1.8M492.64 188.90v1.8M508.93 326.10v-3.0M508.93 188.90v3.0M525.21 326.10v-1.8M525.21 188.90v1.8M541.50 326.10v-3.0M541.50 188.90v3.0M313.50 326.10h3.0M541.50 326.10h-3.0M313.50 312.38h1.8M541.50 312.38h-1.8M313.50 298.66h3.0M541.50 298.66h-3.0M313.50 284.94h1.8M541.50 284.94h-1.8M313.50 271.22h3.0M541.50 271.22h-3.0M313.50 257.50h1.8M541.50 257.50h-1.8M313.50 243.78h3.0M541.50 243.78h-3.0M313.50 230.06h1.8M541.50 230.06h-1.8M313.50 216.34h3.0M541.50 216.34h-3.0M313.50 202.62h1.8M541.50 202.62h-1.8M313.50 188.90h3.0M541.50 188.90h-3.0" stroke="#000" stroke-width="0.9" fill="none"/><rect x="313.50" y="188.90" width="228.00" height="137.20" fill="none" stroke="#000" stroke-width="1.3"/><g font-family='"Liberation Sans", Arial, sans-serif' font-size="7" fill="#000" stroke="#000" stroke-width="0.15"><text x="313.50" y="335.00" text-anchor="middle">0</text><text x="346.07" y="335.00" text-anchor="middle">10</text><text x="378.64" y="335.00" text-anchor="middle">20</text><text x="411.21" y="335.00" text-anchor="middle">30</text><text x="443.79" y="335.00" text-anchor="middle">40</text><text x="476.36" y="335.00" text-anchor="middle">50</text><text x="508.93" y="335.00" text-anchor="middle">60</text><text x="541.50" y="335.00" text-anchor="middle">70</text><text x="310.10" y="328.30" text-anchor="end">0</text><text x="310.10" y="300.86" text-anchor="end">500</text><text x="310.10" y="273.42" text-anchor="end">1000</text><text x="310.10" y="245.98" text-anchor="end">1500</text><text x="310.10" y="218.54" text-anchor="end">2000</text><text x="310.10" y="191.10" text-anchor="end">2500</text></g><text x="416.30" y="342.80" font-family='"Liberation Sans", Arial, sans-serif' font-weight="bold" font-size="8.5" textLength="21.6" lengthAdjust="spacingAndGlyphs" fill="#000">Delay</text><text transform="translate(291.50,263.30) rotate(-90)" x="0" y="0" text-anchor="middle" font-family='"Liberation Sans", Arial, sans-serif' font-weight="bold" font-size="8.4" textLength="94.6" lengthAdjust="spacingAndGlyphs" fill="#000">The number of packets</text><rect x="521.00" y="191.00" width="19.50" height="43.00" fill="#9a9a9a"/><rect x="520.00" y="190.00" width="19.50" height="43.00" fill="#fff" stroke="#555" stroke-width="0.6"/><line x1="520.80" y1="197.00" x2="530.00" y2="197.00" stroke="#000000" stroke-width="1.0"/><rect x="523.85" y="195.45" width="3.10" height="3.10" fill="#000000"/><text x="532.00" y="199.00" font-family='"Liberation Sans", Arial, sans-serif' font-style="italic" font-size="5.9" fill="#000" stroke="#000" stroke-width="0.05">Q<tspan font-size="3.8" dy="-2.3" stroke-width="0.05">1</tspan></text><line x1="520.80" y1="204.95" x2="530.00" y2="204.95" stroke="#ff0000" stroke-width="1.0"/><circle cx="525.40" cy="204.95" r="2.01" fill="#ff0000"/><text x="532.00" y="206.95" font-family='"Liberation Sans", Arial, sans-serif' font-style="italic" font-size="5.9" fill="#000" stroke="#000" stroke-width="0.05">Q<tspan font-size="3.8" dy="-2.3" stroke-width="0.05">2</tspan></text><line x1="520.80" y1="212.90" x2="530.00" y2="212.90" stroke="#0000ff" stroke-width="1.0" stroke-dasharray="1.6 2.2"/><path d="M525.40 210.37L527.47 214.47L523.33 214.47Z" fill="#0000ff"/><text x="532.00" y="214.90" font-family='"Liberation Sans", Arial, sans-serif' font-style="italic" font-size="5.9" fill="#000" stroke="#000" stroke-width="0.05">Q<tspan font-size="3.8" dy="-2.3" stroke-width="0.05">3</tspan></text><line x1="520.80" y1="220.85" x2="530.00" y2="220.85" stroke="#008080" stroke-width="1.0" stroke-dasharray="6 2.4 1 3"/><path d="M525.40 223.38L527.47 219.28L523.33 219.28Z" fill="#008080"/><text x="532.00" y="222.85" font-family='"Liberation Sans", Arial, sans-serif' font-style="italic" font-size="5.9" fill="#000" stroke="#000" stroke-width="0.05">Q<tspan font-size="3.8" dy="-2.3" stroke-width="0.05">4</tspan></text><line x1="520.80" y1="228.80" x2="530.00" y2="228.80" stroke="#00ffff" stroke-width="1.0"/><path d="M525.40 226.50L527.70 228.80L525.40 231.10L523.10 228.80Z" fill="#00ffff"/><text x="532.00" y="230.80" font-family='"Liberation Sans", Arial, sans-serif' font-style="italic" font-size="5.9" fill="#000" stroke="#000" stroke-width="0.05">Q<tspan font-size="3.8" dy="-2.3" stroke-width="0.05">5</tspan></text><g stroke="#a6a6a6" stroke-width="1"><line x1="69.50" y1="367.60" x2="69.50" y2="500.70" /><line x1="101.50" y1="367.60" x2="101.50" y2="500.70" /><line x1="133.50" y1="367.60" x2="133.50" y2="500.70" /><line x1="165.50" y1="367.60" x2="165.50" y2="500.70" /><line x1="197.50" y1="367.60" x2="197.50" y2="500.70" /><line x1="229.50" y1="367.60" x2="229.50" y2="500.70" /><line x1="37.30" y1="474.50" x2="261.20" y2="474.50" /><line x1="37.30" y1="447.50" x2="261.20" y2="447.50" /><line x1="37.30" y1="420.50" x2="261.20" y2="420.50" /><line x1="37.30" y1="394.50" x2="261.20" y2="394.50" /></g><g clip-path="url(#clipe)"><path d="M37.30 402.74 L40.50 387.92 L43.70 377.01 L46.90 372.13 L50.09 369.91 L53.29 370.35 L56.49 374.17 L59.69 380.95 L62.89 386.95 L66.09 393.40 L69.29 400.02 L72.48 406.23 L75.68 412.59 L78.88 418.93 L82.08 424.98 L85.28 430.41 L88.48 435.73 L91.68 441.28 L94.87 446.29 L98.07 450.68 L101.27 454.86 L104.47 458.86 L107.67 462.68 L110.87 466.49 L114.07 469.95 L117.26 472.74 L120.46 475.19 L123.66 477.39 L126.86 479.39 L130.06 481.21 L133.26 482.89 L136.46 484.45 L139.65 485.88 L142.85 487.21 L146.05 488.42 L149.25 489.53 L152.45 490.56 L155.65 491.52 L158.85 492.41 L162.04 493.22 L165.24 493.97 L168.44 494.65 L171.64 495.29 L174.84 495.89 L178.04 496.44 L181.24 496.97 L184.43 497.49 L187.63 497.98 L190.83 498.42 L194.03 498.78 L197.23 499.05 L200.43 499.27 L203.63 499.45 L206.82 499.61 L210.02 499.75 L213.22 499.87 L216.42 499.98 L219.62 500.08 L222.82 500.16 L226.02 500.23 L229.21 500.28 L232.41 500.32 L235.61 500.37 L238.81 500.41 L242.01 500.44 L245.21 500.47 L248.41 500.50 L251.60 500.51 L254.80 500.52 L258.00 500.52" fill="none" stroke="#000000" stroke-width="1.0"/><rect x="35.95" y="401.39" width="2.70" height="2.70" fill="#000000"/><rect x="39.15" y="386.57" width="2.70" height="2.70" fill="#000000"/><rect x="42.35" y="375.66" width="2.70" height="2.70" fill="#000000"/><rect x="45.55" y="370.78" width="2.70" height="2.70" fill="#000000"/><rect x="48.74" y="368.56" width="2.70" height="2.70" fill="#000000"/><rect x="51.94" y="369.00" width="2.70" height="2.70" fill="#000000"/><rect x="55.14" y="372.82" width="2.70" height="2.70" fill="#000000"/><rect x="58.34" y="379.60" width="2.70" height="2.70" fill="#000000"/><rect x="61.54" y="385.60" width="2.70" height="2.70" fill="#000000"/><rect x="64.74" y="392.05" width="2.70" height="2.70" fill="#000000"/><rect x="67.94" y="398.67" width="2.70" height="2.70" fill="#000000"/><rect x="71.13" y="404.88" width="2.70" height="2.70" fill="#000000"/><rect x="74.33" y="411.24" width="2.70" height="2.70" fill="#000000"/><rect x="77.53" y="417.58" width="2.70" height="2.70" fill="#000000"/><rect x="80.73" y="423.63" width="2.70" height="2.70" fill="#000000"/><rect x="83.93" y="429.06" width="2.70" height="2.70" fill="#000000"/><rect x="87.13" y="434.38" width="2.70" height="2.70" fill="#000000"/><rect x="90.33" y="439.93" width="2.70" height="2.70" fill="#000000"/><rect x="93.52" y="444.94" width="2.70" height="2.70" fill="#000000"/><rect x="96.72" y="449.33" width="2.70" height="2.70" fill="#000000"/><rect x="99.92" y="453.51" width="2.70" height="2.70" fill="#000000"/><rect x="103.12" y="457.51" width="2.70" height="2.70" fill="#000000"/><rect x="106.32" y="461.33" width="2.70" height="2.70" fill="#000000"/><rect x="109.52" y="465.14" width="2.70" height="2.70" fill="#000000"/><rect x="112.72" y="468.60" width="2.70" height="2.70" fill="#000000"/><rect x="115.91" y="471.39" width="2.70" height="2.70" fill="#000000"/><rect x="119.11" y="473.84" width="2.70" height="2.70" fill="#000000"/><rect x="122.31" y="476.04" width="2.70" height="2.70" fill="#000000"/><rect x="125.51" y="478.04" width="2.70" height="2.70" fill="#000000"/><rect x="128.71" y="479.86" width="2.70" height="2.70" fill="#000000"/><rect x="131.91" y="481.54" width="2.70" height="2.70" fill="#000000"/><rect x="135.11" y="483.10" width="2.70" height="2.70" fill="#000000"/><rect x="138.30" y="484.53" width="2.70" height="2.70" fill="#000000"/><rect x="141.50" y="485.86" width="2.70" height="2.70" fill="#000000"/><rect x="144.70" y="487.07" width="2.70" height="2.70" fill="#000000"/><rect x="147.90" y="488.18" width="2.70" height="2.70" fill="#000000"/><rect x="151.10" y="489.21" width="2.70" height="2.70" fill="#000000"/><rect x="154.30" y="490.17" width="2.70" height="2.70" fill="#000000"/><rect x="157.50" y="491.06" width="2.70" height="2.70" fill="#000000"/><rect x="160.69" y="491.87" width="2.70" height="2.70" fill="#000000"/><rect x="163.89" y="492.62" width="2.70" height="2.70" fill="#000000"/><rect x="167.09" y="493.30" width="2.70" height="2.70" fill="#000000"/><rect x="170.29" y="493.94" width="2.70" height="2.70" fill="#000000"/><rect x="173.49" y="494.54" width="2.70" height="2.70" fill="#000000"/><rect x="176.69" y="495.09" width="2.70" height="2.70" fill="#000000"/><rect x="179.89" y="495.62" width="2.70" height="2.70" fill="#000000"/><rect x="183.08" y="496.14" width="2.70" height="2.70" fill="#000000"/><rect x="186.28" y="496.63" width="2.70" height="2.70" fill="#000000"/><rect x="189.48" y="497.07" width="2.70" height="2.70" fill="#000000"/><rect x="192.68" y="497.43" width="2.70" height="2.70" fill="#000000"/><rect x="195.88" y="497.70" width="2.70" height="2.70" fill="#000000"/><rect x="199.08" y="497.92" width="2.70" height="2.70" fill="#000000"/><rect x="202.28" y="498.10" width="2.70" height="2.70" fill="#000000"/><rect x="205.47" y="498.26" width="2.70" height="2.70" fill="#000000"/><rect x="208.67" y="498.40" width="2.70" height="2.70" fill="#000000"/><rect x="211.87" y="498.52" width="2.70" height="2.70" fill="#000000"/><rect x="215.07" y="498.63" width="2.70" height="2.70" fill="#000000"/><rect x="218.27" y="498.73" width="2.70" height="2.70" fill="#000000"/><rect x="221.47" y="498.81" width="2.70" height="2.70" fill="#000000"/><rect x="224.67" y="498.88" width="2.70" height="2.70" fill="#000000"/><rect x="227.86" y="498.93" width="2.70" height="2.70" fill="#000000"/><rect x="231.06" y="498.97" width="2.70" height="2.70" fill="#000000"/><rect x="234.26" y="499.02" width="2.70" height="2.70" fill="#000000"/><rect x="237.46" y="499.06" width="2.70" height="2.70" fill="#000000"/><rect x="240.66" y="499.09" width="2.70" height="2.70" fill="#000000"/><rect x="243.86" y="499.12" width="2.70" height="2.70" fill="#000000"/><rect x="247.06" y="499.15" width="2.70" height="2.70" fill="#000000"/><rect x="250.25" y="499.16" width="2.70" height="2.70" fill="#000000"/><rect x="253.45" y="499.17" width="2.70" height="2.70" fill="#000000"/><rect x="256.65" y="499.17" width="2.70" height="2.70" fill="#000000"/><path d="M37.30 418.18 L40.50 410.46 L43.70 405.93 L46.90 404.25 L50.09 404.69 L53.29 405.40 L56.49 406.55 L59.69 408.98 L62.89 411.50 L66.09 413.71 L69.29 416.11 L72.48 418.81 L75.68 421.61 L78.88 424.66 L82.08 427.81 L85.28 430.64 L88.48 433.85 L91.68 437.00 L94.87 440.12 L98.07 443.14 L101.27 445.99 L104.47 448.70 L107.67 451.30 L110.87 453.84 L114.07 456.35 L117.26 458.87 L120.46 461.48 L123.66 464.10 L126.86 466.63 L130.06 468.93 L133.26 470.91 L136.46 472.65 L139.65 474.23 L142.85 475.71 L146.05 477.11 L149.25 478.48 L152.45 479.82 L155.65 481.11 L158.85 482.33 L162.04 483.50 L165.24 484.61 L168.44 485.68 L171.64 486.72 L174.84 487.69 L178.04 488.59 L181.24 489.40 L184.43 490.15 L187.63 490.85 L190.83 491.49 L194.03 492.08 L197.23 492.60 L200.43 493.06 L203.63 493.49 L206.82 493.88 L210.02 494.24 L213.22 494.59 L216.42 494.92 L219.62 495.24 L222.82 495.53 L226.02 495.81 L229.21 496.08 L232.41 496.33 L235.61 496.59 L238.81 496.83 L242.01 497.07 L245.21 497.29 L248.41 497.51 L251.60 497.72 L254.80 497.91 L258.00 498.09" fill="none" stroke="#ff0000" stroke-width="1.0"/><circle cx="37.30" cy="418.18" r="1.75" fill="#ff0000"/><circle cx="40.50" cy="410.46" r="1.75" fill="#ff0000"/><circle cx="43.70" cy="405.93" r="1.75" fill="#ff0000"/><circle cx="46.90" cy="404.25" r="1.75" fill="#ff0000"/><circle cx="50.09" cy="404.69" r="1.75" fill="#ff0000"/><circle cx="53.29" cy="405.40" r="1.75" fill="#ff0000"/><circle cx="56.49" cy="406.55" r="1.75" fill="#ff0000"/><circle cx="59.69" cy="408.98" r="1.75" fill="#ff0000"/><circle cx="62.89" cy="411.50" r="1.75" fill="#ff0000"/><circle cx="66.09" cy="413.71" r="1.75" fill="#ff0000"/><circle cx="69.29" cy="416.11" r="1.75" fill="#ff0000"/><circle cx="72.48" cy="418.81" r="1.75" fill="#ff0000"/><circle cx="75.68" cy="421.61" r="1.75" fill="#ff0000"/><circle cx="78.88" cy="424.66" r="1.75" fill="#ff0000"/><circle cx="82.08" cy="427.81" r="1.75" fill="#ff0000"/><circle cx="85.28" cy="430.64" r="1.75" fill="#ff0000"/><circle cx="88.48" cy="433.85" r="1.75" fill="#ff0000"/><circle cx="91.68" cy="437.00" r="1.75" fill="#ff0000"/><circle cx="94.87" cy="440.12" r="1.75" fill="#ff0000"/><circle cx="98.07" cy="443.14" r="1.75" fill="#ff0000"/><circle cx="101.27" cy="445.99" r="1.75" fill="#ff0000"/><circle cx="104.47" cy="448.70" r="1.75" fill="#ff0000"/><circle cx="107.67" cy="451.30" r="1.75" fill="#ff0000"/><circle cx="110.87" cy="453.84" r="1.75" fill="#ff0000"/><circle cx="114.07" cy="456.35" r="1.75" fill="#ff0000"/><circle cx="117.26" cy="458.87" r="1.75" fill="#ff0000"/><circle cx="120.46" cy="461.48" r="1.75" fill="#ff0000"/><circle cx="123.66" cy="464.10" r="1.75" fill="#ff0000"/><circle cx="126.86" cy="466.63" r="1.75" fill="#ff0000"/><circle cx="130.06" cy="468.93" r="1.75" fill="#ff0000"/><circle cx="133.26" cy="470.91" r="1.75" fill="#ff0000"/><circle cx="136.46" cy="472.65" r="1.75" fill="#ff0000"/><circle cx="139.65" cy="474.23" r="1.75" fill="#ff0000"/><circle cx="142.85" cy="475.71" r="1.75" fill="#ff0000"/><circle cx="146.05" cy="477.11" r="1.75" fill="#ff0000"/><circle cx="149.25" cy="478.48" r="1.75" fill="#ff0000"/><circle cx="152.45" cy="479.82" r="1.75" fill="#ff0000"/><circle cx="155.65" cy="481.11" r="1.75" fill="#ff0000"/><circle cx="158.85" cy="482.33" r="1.75" fill="#ff0000"/><circle cx="162.04" cy="483.50" r="1.75" fill="#ff0000"/><circle cx="165.24" cy="484.61" r="1.75" fill="#ff0000"/><circle cx="168.44" cy="485.68" r="1.75" fill="#ff0000"/><circle cx="171.64" cy="486.72" r="1.75" fill="#ff0000"/><circle cx="174.84" cy="487.69" r="1.75" fill="#ff0000"/><circle cx="178.04" cy="488.59" r="1.75" fill="#ff0000"/><circle cx="181.24" cy="489.40" r="1.75" fill="#ff0000"/><circle cx="184.43" cy="490.15" r="1.75" fill="#ff0000"/><circle cx="187.63" cy="490.85" r="1.75" fill="#ff0000"/><circle cx="190.83" cy="491.49" r="1.75" fill="#ff0000"/><circle cx="194.03" cy="492.08" r="1.75" fill="#ff0000"/><circle cx="197.23" cy="492.60" r="1.75" fill="#ff0000"/><circle cx="200.43" cy="493.06" r="1.75" fill="#ff0000"/><circle cx="203.63" cy="493.49" r="1.75" fill="#ff0000"/><circle cx="206.82" cy="493.88" r="1.75" fill="#ff0000"/><circle cx="210.02" cy="494.24" r="1.75" fill="#ff0000"/><circle cx="213.22" cy="494.59" r="1.75" fill="#ff0000"/><circle cx="216.42" cy="494.92" r="1.75" fill="#ff0000"/><circle cx="219.62" cy="495.24" r="1.75" fill="#ff0000"/><circle cx="222.82" cy="495.53" r="1.75" fill="#ff0000"/><circle cx="226.02" cy="495.81" r="1.75" fill="#ff0000"/><circle cx="229.21" cy="496.08" r="1.75" fill="#ff0000"/><circle cx="232.41" cy="496.33" r="1.75" fill="#ff0000"/><circle cx="235.61" cy="496.59" r="1.75" fill="#ff0000"/><circle cx="238.81" cy="496.83" r="1.75" fill="#ff0000"/><circle cx="242.01" cy="497.07" r="1.75" fill="#ff0000"/><circle cx="245.21" cy="497.29" r="1.75" fill="#ff0000"/><circle cx="248.41" cy="497.51" r="1.75" fill="#ff0000"/><circle cx="251.60" cy="497.72" r="1.75" fill="#ff0000"/><circle cx="254.80" cy="497.91" r="1.75" fill="#ff0000"/><circle cx="258.00" cy="498.09" r="1.75" fill="#ff0000"/><path d="M37.30 438.05 L40.50 430.33 L43.70 428.17 L46.90 427.14 L50.09 426.64 L53.29 426.43 L56.49 426.82 L59.69 427.58 L62.89 428.52 L66.09 429.71 L69.29 431.23 L72.48 432.91 L75.68 434.55 L78.88 436.19 L82.08 437.81 L85.28 439.39 L88.48 440.87 L91.68 442.35 L94.87 444.05 L98.07 445.81 L101.27 447.33 L104.47 448.72 L107.67 450.12 L110.87 451.55 L114.07 453.01 L117.26 454.56 L120.46 456.31 L123.66 458.21 L126.86 460.18 L130.06 462.10 L133.26 463.88 L136.46 465.51 L139.65 467.07 L142.85 468.57 L146.05 470.01 L149.25 471.42 L152.45 472.79 L155.65 474.14 L158.85 475.44 L162.04 476.67 L165.24 477.81 L168.44 478.87 L171.64 479.88 L174.84 480.84 L178.04 481.72 L181.24 482.51 L184.43 483.21 L187.63 483.84 L190.83 484.43 L194.03 485.01 L197.23 485.62 L200.43 486.24 L203.63 486.87 L206.82 487.49 L210.02 488.11 L213.22 488.72 L216.42 489.35 L219.62 490.00 L222.82 490.63 L226.02 491.20 L229.21 491.65 L232.41 492.03 L235.61 492.39 L238.81 492.74 L242.01 493.06 L245.21 493.35 L248.41 493.60 L251.60 493.80 L254.80 493.95 L258.00 494.05" fill="none" stroke="#0000ff" stroke-width="1.0"/><path d="M37.30 435.85L39.10 439.42L35.50 439.42Z" fill="#0000ff"/><path d="M40.50 428.13L42.30 431.70L38.70 431.70Z" fill="#0000ff"/><path d="M43.70 425.97L45.50 429.53L41.90 429.53Z" fill="#0000ff"/><path d="M46.90 424.94L48.70 428.50L45.10 428.50Z" fill="#0000ff"/><path d="M50.09 424.44L51.89 428.00L48.29 428.00Z" fill="#0000ff"/><path d="M53.29 424.23L55.09 427.79L51.49 427.79Z" fill="#0000ff"/><path d="M56.49 424.62L58.29 428.18L54.69 428.18Z" fill="#0000ff"/><path d="M59.69 425.38L61.49 428.95L57.89 428.95Z" fill="#0000ff"/><path d="M62.89 426.32L64.69 429.88L61.09 429.88Z" fill="#0000ff"/><path d="M66.09 427.51L67.89 431.08L64.29 431.08Z" fill="#0000ff"/><path d="M69.29 429.03L71.09 432.59L67.49 432.59Z" fill="#0000ff"/><path d="M72.48 430.71L74.28 434.27L70.68 434.27Z" fill="#0000ff"/><path d="M75.68 432.35L77.48 435.91L73.88 435.91Z" fill="#0000ff"/><path d="M78.88 433.99L80.68 437.55L77.08 437.55Z" fill="#0000ff"/><path d="M82.08 435.61L83.88 439.17L80.28 439.17Z" fill="#0000ff"/><path d="M85.28 437.19L87.08 440.75L83.48 440.75Z" fill="#0000ff"/><path d="M88.48 438.67L90.28 442.23L86.68 442.23Z" fill="#0000ff"/><path d="M91.68 440.15L93.48 443.72L89.88 443.72Z" fill="#0000ff"/><path d="M94.87 441.85L96.67 445.41L93.07 445.41Z" fill="#0000ff"/><path d="M98.07 443.61L99.87 447.17L96.27 447.17Z" fill="#0000ff"/><path d="M101.27 445.13L103.07 448.69L99.47 448.69Z" fill="#0000ff"/><path d="M104.47 446.52L106.27 450.08L102.67 450.08Z" fill="#0000ff"/><path d="M107.67 447.92L109.47 451.49L105.87 451.49Z" fill="#0000ff"/><path d="M110.87 449.35L112.67 452.92L109.07 452.92Z" fill="#0000ff"/><path d="M114.07 450.81L115.87 454.37L112.27 454.37Z" fill="#0000ff"/><path d="M117.26 452.36L119.06 455.92L115.46 455.92Z" fill="#0000ff"/><path d="M120.46 454.11L122.26 457.67L118.66 457.67Z" fill="#0000ff"/><path d="M123.66 456.01L125.46 459.58L121.86 459.58Z" fill="#0000ff"/><path d="M126.86 457.98L128.66 461.54L125.06 461.54Z" fill="#0000ff"/><path d="M130.06 459.90L131.86 463.46L128.26 463.46Z" fill="#0000ff"/><path d="M133.26 461.68L135.06 465.24L131.46 465.24Z" fill="#0000ff"/><path d="M136.46 463.31L138.26 466.87L134.66 466.87Z" fill="#0000ff"/><path d="M139.65 464.87L141.45 468.43L137.85 468.43Z" fill="#0000ff"/><path d="M142.85 466.37L144.65 469.93L141.05 469.93Z" fill="#0000ff"/><path d="M146.05 467.81L147.85 471.38L144.25 471.38Z" fill="#0000ff"/><path d="M149.25 469.22L151.05 472.78L147.45 472.78Z" fill="#0000ff"/><path d="M152.45 470.59L154.25 474.16L150.65 474.16Z" fill="#0000ff"/><path d="M155.65 471.94L157.45 475.51L153.85 475.51Z" fill="#0000ff"/><path d="M158.85 473.24L160.65 476.81L157.05 476.81Z" fill="#0000ff"/><path d="M162.04 474.47L163.84 478.03L160.24 478.03Z" fill="#0000ff"/><path d="M165.24 475.61L167.04 479.17L163.44 479.17Z" fill="#0000ff"/><path d="M168.44 476.67L170.24 480.23L166.64 480.23Z" fill="#0000ff"/><path d="M171.64 477.68L173.44 481.25L169.84 481.25Z" fill="#0000ff"/><path d="M174.84 478.64L176.64 482.20L173.04 482.20Z" fill="#0000ff"/><path d="M178.04 479.52L179.84 483.08L176.24 483.08Z" fill="#0000ff"/><path d="M181.24 480.31L183.04 483.87L179.44 483.87Z" fill="#0000ff"/><path d="M184.43 481.01L186.23 484.58L182.63 484.58Z" fill="#0000ff"/><path d="M187.63 481.64L189.43 485.21L185.83 485.21Z" fill="#0000ff"/><path d="M190.83 482.23L192.63 485.80L189.03 485.80Z" fill="#0000ff"/><path d="M194.03 482.81L195.83 486.38L192.23 486.38Z" fill="#0000ff"/><path d="M197.23 483.42L199.03 486.98L195.43 486.98Z" fill="#0000ff"/><path d="M200.43 484.04L202.23 487.60L198.63 487.60Z" fill="#0000ff"/><path d="M203.63 484.67L205.43 488.23L201.83 488.23Z" fill="#0000ff"/><path d="M206.82 485.29L208.62 488.86L205.02 488.86Z" fill="#0000ff"/><path d="M210.02 485.91L211.82 489.48L208.22 489.48Z" fill="#0000ff"/><path d="M213.22 486.52L215.02 490.08L211.42 490.08Z" fill="#0000ff"/><path d="M216.42 487.15L218.22 490.71L214.62 490.71Z" fill="#0000ff"/><path d="M219.62 487.80L221.42 491.37L217.82 491.37Z" fill="#0000ff"/><path d="M222.82 488.43L224.62 492.00L221.02 492.00Z" fill="#0000ff"/><path d="M226.02 489.00L227.82 492.56L224.22 492.56Z" fill="#0000ff"/><path d="M229.21 489.45L231.01 493.01L227.41 493.01Z" fill="#0000ff"/><path d="M232.41 489.83L234.21 493.39L230.61 493.39Z" fill="#0000ff"/><path d="M235.61 490.19L237.41 493.75L233.81 493.75Z" fill="#0000ff"/><path d="M238.81 490.54L240.61 494.10L237.01 494.10Z" fill="#0000ff"/><path d="M242.01 490.86L243.81 494.42L240.21 494.42Z" fill="#0000ff"/><path d="M245.21 491.15L247.01 494.71L243.41 494.71Z" fill="#0000ff"/><path d="M248.41 491.40L250.21 494.96L246.61 494.96Z" fill="#0000ff"/><path d="M251.60 491.60L253.40 495.16L249.80 495.16Z" fill="#0000ff"/><path d="M254.80 491.75L256.60 495.32L253.00 495.32Z" fill="#0000ff"/><path d="M258.00 491.85L259.80 495.41L256.20 495.41Z" fill="#0000ff"/><path d="M37.30 451.01 L40.50 449.94 L43.70 449.10 L46.90 448.44 L50.09 447.91 L53.29 447.44 L56.49 447.07 L59.69 446.84 L62.89 446.70 L66.09 446.59 L69.29 446.51 L72.48 446.48 L75.68 446.53 L78.88 446.67 L82.08 446.87 L85.28 447.11 L88.48 447.50 L91.68 448.10 L94.87 448.78 L98.07 449.48 L101.27 450.30 L104.47 451.31 L107.67 452.49 L110.87 453.77 L114.07 455.07 L117.26 456.33 L120.46 457.56 L123.66 458.78 L126.86 460.02 L130.06 461.27 L133.26 462.54 L136.46 463.86 L139.65 465.22 L142.85 466.58 L146.05 467.92 L149.25 469.20 L152.45 470.44 L155.65 471.67 L158.85 472.85 L162.04 473.96 L165.24 474.97 L168.44 475.87 L171.64 476.70 L174.84 477.47 L178.04 478.22 L181.24 478.96 L184.43 479.70 L187.63 480.42 L190.83 481.12 L194.03 481.79 L197.23 482.42 L200.43 483.02 L203.63 483.58 L206.82 484.13 L210.02 484.66 L213.22 485.17 L216.42 485.68 L219.62 486.18 L222.82 486.67 L226.02 487.13 L229.21 487.57 L232.41 487.97 L235.61 488.34 L238.81 488.70 L242.01 489.06 L245.21 489.43 L248.41 489.82 L251.60 490.22 L254.80 490.62 L258.00 491.03" fill="none" stroke="#008080" stroke-width="1.0"/><path d="M37.30 453.21L39.10 449.65L35.50 449.65Z" fill="#008080"/><path d="M40.50 452.14L42.30 448.58L38.70 448.58Z" fill="#008080"/><path d="M43.70 451.30L45.50 447.74L41.90 447.74Z" fill="#008080"/><path d="M46.90 450.64L48.70 447.07L45.10 447.07Z" fill="#008080"/><path d="M50.09 450.11L51.89 446.55L48.29 446.55Z" fill="#008080"/><path d="M53.29 449.64L55.09 446.08L51.49 446.08Z" fill="#008080"/><path d="M56.49 449.27L58.29 445.70L54.69 445.70Z" fill="#008080"/><path d="M59.69 449.04L61.49 445.47L57.89 445.47Z" fill="#008080"/><path d="M62.89 448.90L64.69 445.34L61.09 445.34Z" fill="#008080"/><path d="M66.09 448.79L67.89 445.22L64.29 445.22Z" fill="#008080"/><path d="M69.29 448.71L71.09 445.15L67.49 445.15Z" fill="#008080"/><path d="M72.48 448.68L74.28 445.12L70.68 445.12Z" fill="#008080"/><path d="M75.68 448.73L77.48 445.17L73.88 445.17Z" fill="#008080"/><path d="M78.88 448.87L80.68 445.31L77.08 445.31Z" fill="#008080"/><path d="M82.08 449.07L83.88 445.50L80.28 445.50Z" fill="#008080"/><path d="M85.28 449.31L87.08 445.74L83.48 445.74Z" fill="#008080"/><path d="M88.48 449.70L90.28 446.13L86.68 446.13Z" fill="#008080"/><path d="M91.68 450.30L93.48 446.73L89.88 446.73Z" fill="#008080"/><path d="M94.87 450.98L96.67 447.42L93.07 447.42Z" fill="#008080"/><path d="M98.07 451.68L99.87 448.12L96.27 448.12Z" fill="#008080"/><path d="M101.27 452.50L103.07 448.94L99.47 448.94Z" fill="#008080"/><path d="M104.47 453.51L106.27 449.95L102.67 449.95Z" fill="#008080"/><path d="M107.67 454.69L109.47 451.13L105.87 451.13Z" fill="#008080"/><path d="M110.87 455.97L112.67 452.40L109.07 452.40Z" fill="#008080"/><path d="M114.07 457.27L115.87 453.70L112.27 453.70Z" fill="#008080"/><path d="M117.26 458.53L119.06 454.97L115.46 454.97Z" fill="#008080"/><path d="M120.46 459.76L122.26 456.19L118.66 456.19Z" fill="#008080"/><path d="M123.66 460.98L125.46 457.42L121.86 457.42Z" fill="#008080"/><path d="M126.86 462.22L128.66 458.66L125.06 458.66Z" fill="#008080"/><path d="M130.06 463.47L131.86 459.91L128.26 459.91Z" fill="#008080"/><path d="M133.26 464.74L135.06 461.18L131.46 461.18Z" fill="#008080"/><path d="M136.46 466.06L138.26 462.50L134.66 462.50Z" fill="#008080"/><path d="M139.65 467.42L141.45 463.86L137.85 463.86Z" fill="#008080"/><path d="M142.85 468.78L144.65 465.22L141.05 465.22Z" fill="#008080"/><path d="M146.05 470.12L147.85 466.56L144.25 466.56Z" fill="#008080"/><path d="M149.25 471.40L151.05 467.84L147.45 467.84Z" fill="#008080"/><path d="M152.45 472.64L154.25 469.08L150.65 469.08Z" fill="#008080"/><path d="M155.65 473.87L157.45 470.30L153.85 470.30Z" fill="#008080"/><path d="M158.85 475.05L160.65 471.49L157.05 471.49Z" fill="#008080"/><path d="M162.04 476.16L163.84 472.60L160.24 472.60Z" fill="#008080"/><path d="M165.24 477.17L167.04 473.60L163.44 473.60Z" fill="#008080"/><path d="M168.44 478.07L170.24 474.50L166.64 474.50Z" fill="#008080"/><path d="M171.64 478.90L173.44 475.33L169.84 475.33Z" fill="#008080"/><path d="M174.84 479.67L176.64 476.11L173.04 476.11Z" fill="#008080"/><path d="M178.04 480.42L179.84 476.86L176.24 476.86Z" fill="#008080"/><path d="M181.24 481.16L183.04 477.60L179.44 477.60Z" fill="#008080"/><path d="M184.43 481.90L186.23 478.33L182.63 478.33Z" fill="#008080"/><path d="M187.63 482.62L189.43 479.05L185.83 479.05Z" fill="#008080"/><path d="M190.83 483.32L192.63 479.75L189.03 479.75Z" fill="#008080"/><path d="M194.03 483.99L195.83 480.42L192.23 480.42Z" fill="#008080"/><path d="M197.23 484.62L199.03 481.06L195.43 481.06Z" fill="#008080"/><path d="M200.43 485.22L202.23 481.65L198.63 481.65Z" fill="#008080"/><path d="M203.63 485.78L205.43 482.22L201.83 482.22Z" fill="#008080"/><path d="M206.82 486.33L208.62 482.76L205.02 482.76Z" fill="#008080"/><path d="M210.02 486.86L211.82 483.29L208.22 483.29Z" fill="#008080"/><path d="M213.22 487.37L215.02 483.81L211.42 483.81Z" fill="#008080"/><path d="M216.42 487.88L218.22 484.32L214.62 484.32Z" fill="#008080"/><path d="M219.62 488.38L221.42 484.82L217.82 484.82Z" fill="#008080"/><path d="M222.82 488.87L224.62 485.30L221.02 485.30Z" fill="#008080"/><path d="M226.02 489.33L227.82 485.77L224.22 485.77Z" fill="#008080"/><path d="M229.21 489.77L231.01 486.20L227.41 486.20Z" fill="#008080"/><path d="M232.41 490.17L234.21 486.60L230.61 486.60Z" fill="#008080"/><path d="M235.61 490.54L237.41 486.98L233.81 486.98Z" fill="#008080"/><path d="M238.81 490.90L240.61 487.33L237.01 487.33Z" fill="#008080"/><path d="M242.01 491.26L243.81 487.69L240.21 487.69Z" fill="#008080"/><path d="M245.21 491.63L247.01 488.07L243.41 488.07Z" fill="#008080"/><path d="M248.41 492.02L250.21 488.46L246.61 488.46Z" fill="#008080"/><path d="M251.60 492.42L253.40 488.85L249.80 488.85Z" fill="#008080"/><path d="M254.80 492.82L256.60 489.26L253.00 489.26Z" fill="#008080"/><path d="M258.00 493.23L259.80 489.66L256.20 489.66Z" fill="#008080"/><path d="M37.30 459.44 L40.50 456.60 L43.70 455.60 L46.90 455.00 L50.09 454.51 L53.29 454.09 L56.49 453.77 L59.69 453.58 L62.89 453.48 L66.09 453.39 L69.29 453.34 L72.48 453.32 L75.68 453.37 L78.88 453.52 L82.08 453.72 L85.28 453.94 L88.48 454.20 L91.68 454.55 L94.87 454.96 L98.07 455.41 L101.27 455.89 L104.47 456.41 L107.67 457.01 L110.87 457.66 L114.07 458.33 L117.26 459.00 L120.46 459.65 L123.66 460.30 L126.86 460.98 L130.06 461.72 L133.26 462.54 L136.46 463.54 L139.65 464.71 L142.85 465.96 L146.05 467.19 L149.25 468.31 L152.45 469.32 L155.65 470.28 L158.85 471.20 L162.04 472.11 L165.24 473.02 L168.44 473.93 L171.64 474.86 L174.84 475.76 L178.04 476.63 L181.24 477.45 L184.43 478.23 L187.63 478.98 L190.83 479.69 L194.03 480.37 L197.23 481.00 L200.43 481.59 L203.63 482.14 L206.82 482.66 L210.02 483.17 L213.22 483.66 L216.42 484.15 L219.62 484.61 L222.82 485.06 L226.02 485.51 L229.21 485.97 L232.41 486.43 L235.61 486.90 L238.81 487.36 L242.01 487.82 L245.21 488.28 L248.41 488.73 L251.60 489.17 L254.80 489.61 L258.00 490.05" fill="none" stroke="#00ffff" stroke-width="1.0"/><path d="M37.30 457.44L39.30 459.44L37.30 461.44L35.30 459.44Z" fill="#00ffff"/><path d="M40.50 454.60L42.50 456.60L40.50 458.60L38.50 456.60Z" fill="#00ffff"/><path d="M43.70 453.60L45.70 455.60L43.70 457.60L41.70 455.60Z" fill="#00ffff"/><path d="M46.90 453.00L48.90 455.00L46.90 457.00L44.90 455.00Z" fill="#00ffff"/><path d="M50.09 452.51L52.09 454.51L50.09 456.51L48.09 454.51Z" fill="#00ffff"/><path d="M53.29 452.09L55.29 454.09L53.29 456.09L51.29 454.09Z" fill="#00ffff"/><path d="M56.49 451.77L58.49 453.77L56.49 455.77L54.49 453.77Z" fill="#00ffff"/><path d="M59.69 451.58L61.69 453.58L59.69 455.58L57.69 453.58Z" fill="#00ffff"/><path d="M62.89 451.48L64.89 453.48L62.89 455.48L60.89 453.48Z" fill="#00ffff"/><path d="M66.09 451.39L68.09 453.39L66.09 455.39L64.09 453.39Z" fill="#00ffff"/><path d="M69.29 451.34L71.29 453.34L69.29 455.34L67.29 453.34Z" fill="#00ffff"/><path d="M72.48 451.32L74.48 453.32L72.48 455.32L70.48 453.32Z" fill="#00ffff"/><path d="M75.68 451.37L77.68 453.37L75.68 455.37L73.68 453.37Z" fill="#00ffff"/><path d="M78.88 451.52L80.88 453.52L78.88 455.52L76.88 453.52Z" fill="#00ffff"/><path d="M82.08 451.72L84.08 453.72L82.08 455.72L80.08 453.72Z" fill="#00ffff"/><path d="M85.28 451.94L87.28 453.94L85.28 455.94L83.28 453.94Z" fill="#00ffff"/><path d="M88.48 452.20L90.48 454.20L88.48 456.20L86.48 454.20Z" fill="#00ffff"/><path d="M91.68 452.55L93.68 454.55L91.68 456.55L89.68 454.55Z" fill="#00ffff"/><path d="M94.87 452.96L96.87 454.96L94.87 456.96L92.87 454.96Z" fill="#00ffff"/><path d="M98.07 453.41L100.07 455.41L98.07 457.41L96.07 455.41Z" fill="#00ffff"/><path d="M101.27 453.89L103.27 455.89L101.27 457.89L99.27 455.89Z" fill="#00ffff"/><path d="M104.47 454.41L106.47 456.41L104.47 458.41L102.47 456.41Z" fill="#00ffff"/><path d="M107.67 455.01L109.67 457.01L107.67 459.01L105.67 457.01Z" fill="#00ffff"/><path d="M110.87 455.66L112.87 457.66L110.87 459.66L108.87 457.66Z" fill="#00ffff"/><path d="M114.07 456.33L116.07 458.33L114.07 460.33L112.07 458.33Z" fill="#00ffff"/><path d="M117.26 457.00L119.26 459.00L117.26 461.00L115.26 459.00Z" fill="#00ffff"/><path d="M120.46 457.65L122.46 459.65L120.46 461.65L118.46 459.65Z" fill="#00ffff"/><path d="M123.66 458.30L125.66 460.30L123.66 462.30L121.66 460.30Z" fill="#00ffff"/><path d="M126.86 458.98L128.86 460.98L126.86 462.98L124.86 460.98Z" fill="#00ffff"/><path d="M130.06 459.72L132.06 461.72L130.06 463.72L128.06 461.72Z" fill="#00ffff"/><path d="M133.26 460.54L135.26 462.54L133.26 464.54L131.26 462.54Z" fill="#00ffff"/><path d="M136.46 461.54L138.46 463.54L136.46 465.54L134.46 463.54Z" fill="#00ffff"/><path d="M139.65 462.71L141.65 464.71L139.65 466.71L137.65 464.71Z" fill="#00ffff"/><path d="M142.85 463.96L144.85 465.96L142.85 467.96L140.85 465.96Z" fill="#00ffff"/><path d="M146.05 465.19L148.05 467.19L146.05 469.19L144.05 467.19Z" fill="#00ffff"/><path d="M149.25 466.31L151.25 468.31L149.25 470.31L147.25 468.31Z" fill="#00ffff"/><path d="M152.45 467.32L154.45 469.32L152.45 471.32L150.45 469.32Z" fill="#00ffff"/><path d="M155.65 468.28L157.65 470.28L155.65 472.28L153.65 470.28Z" fill="#00ffff"/><path d="M158.85 469.20L160.85 471.20L158.85 473.20L156.85 471.20Z" fill="#00ffff"/><path d="M162.04 470.11L164.04 472.11L162.04 474.11L160.04 472.11Z" fill="#00ffff"/><path d="M165.24 471.02L167.24 473.02L165.24 475.02L163.24 473.02Z" fill="#00ffff"/><path d="M168.44 471.93L170.44 473.93L168.44 475.93L166.44 473.93Z" fill="#00ffff"/><path d="M171.64 472.86L173.64 474.86L171.64 476.86L169.64 474.86Z" fill="#00ffff"/><path d="M174.84 473.76L176.84 475.76L174.84 477.76L172.84 475.76Z" fill="#00ffff"/><path d="M178.04 474.63L180.04 476.63L178.04 478.63L176.04 476.63Z" fill="#00ffff"/><path d="M181.24 475.45L183.24 477.45L181.24 479.45L179.24 477.45Z" fill="#00ffff"/><path d="M184.43 476.23L186.43 478.23L184.43 480.23L182.43 478.23Z" fill="#00ffff"/><path d="M187.63 476.98L189.63 478.98L187.63 480.98L185.63 478.98Z" fill="#00ffff"/><path d="M190.83 477.69L192.83 479.69L190.83 481.69L188.83 479.69Z" fill="#00ffff"/><path d="M194.03 478.37L196.03 480.37L194.03 482.37L192.03 480.37Z" fill="#00ffff"/><path d="M197.23 479.00L199.23 481.00L197.23 483.00L195.23 481.00Z" fill="#00ffff"/><path d="M200.43 479.59L202.43 481.59L200.43 483.59L198.43 481.59Z" fill="#00ffff"/><path d="M203.63 480.14L205.63 482.14L203.63 484.14L201.63 482.14Z" fill="#00ffff"/><path d="M206.82 480.66L208.82 482.66L206.82 484.66L204.82 482.66Z" fill="#00ffff"/><path d="M210.02 481.17L212.02 483.17L210.02 485.17L208.02 483.17Z" fill="#00ffff"/><path d="M213.22 481.66L215.22 483.66L213.22 485.66L211.22 483.66Z" fill="#00ffff"/><path d="M216.42 482.15L218.42 484.15L216.42 486.15L214.42 484.15Z" fill="#00ffff"/><path d="M219.62 482.61L221.62 484.61L219.62 486.61L217.62 484.61Z" fill="#00ffff"/><path d="M222.82 483.06L224.82 485.06L222.82 487.06L220.82 485.06Z" fill="#00ffff"/><path d="M226.02 483.51L228.02 485.51L226.02 487.51L224.02 485.51Z" fill="#00ffff"/><path d="M229.21 483.97L231.21 485.97L229.21 487.97L227.21 485.97Z" fill="#00ffff"/><path d="M232.41 484.43L234.41 486.43L232.41 488.43L230.41 486.43Z" fill="#00ffff"/><path d="M235.61 484.90L237.61 486.90L235.61 488.90L233.61 486.90Z" fill="#00ffff"/><path d="M238.81 485.36L240.81 487.36L238.81 489.36L236.81 487.36Z" fill="#00ffff"/><path d="M242.01 485.82L244.01 487.82L242.01 489.82L240.01 487.82Z" fill="#00ffff"/><path d="M245.21 486.28L247.21 488.28L245.21 490.28L243.21 488.28Z" fill="#00ffff"/><path d="M248.41 486.73L250.41 488.73L248.41 490.73L246.41 488.73Z" fill="#00ffff"/><path d="M251.60 487.17L253.60 489.17L251.60 491.17L249.60 489.17Z" fill="#00ffff"/><path d="M254.80 487.61L256.80 489.61L254.80 491.61L252.80 489.61Z" fill="#00ffff"/><path d="M258.00 488.05L260.00 490.05L258.00 492.05L256.00 490.05Z" fill="#00ffff"/><path d="M37.30 465.65 L40.50 463.88 L43.70 462.41 L46.90 461.30 L50.09 460.58 L53.29 459.99 L56.49 459.52 L59.69 459.17 L62.89 458.88 L66.09 458.63 L69.29 458.44 L72.48 458.37 L75.68 458.39 L78.88 458.43 L82.08 458.48 L85.28 458.55 L88.48 458.67 L91.68 458.86 L94.87 459.11 L98.07 459.40 L101.27 459.71 L104.47 460.06 L107.67 460.50 L110.87 460.99 L114.07 461.50 L117.26 462.01 L120.46 462.53 L123.66 463.06 L126.86 463.62 L130.06 464.18 L133.26 464.76 L136.46 465.36 L139.65 465.97 L142.85 466.60 L146.05 467.23 L149.25 467.87 L152.45 468.50 L155.65 469.13 L158.85 469.77 L162.04 470.44 L165.24 471.15 L168.44 471.94 L171.64 472.80 L174.84 473.70 L178.04 474.58 L181.24 475.41 L184.43 476.20 L187.63 476.98 L190.83 477.74 L194.03 478.46 L197.23 479.14 L200.43 479.78 L203.63 480.40 L206.82 480.99 L210.02 481.54 L213.22 482.07 L216.42 482.55 L219.62 483.01 L222.82 483.44 L226.02 483.86 L229.21 484.28 L232.41 484.71 L235.61 485.13 L238.81 485.54 L242.01 485.94 L245.21 486.33 L248.41 486.70 L251.60 487.06 L254.80 487.41 L258.00 487.74" fill="none" stroke="#ff00ff" stroke-width="1.0"/><path d="M35.30 465.65L38.90 463.65L38.90 467.65Z" fill="#ff00ff"/><path d="M38.50 463.88L42.10 461.88L42.10 465.88Z" fill="#ff00ff"/><path d="M41.70 462.41L45.30 460.41L45.30 464.41Z" fill="#ff00ff"/><path d="M44.90 461.30L48.50 459.30L48.50 463.30Z" fill="#ff00ff"/><path d="M48.09 460.58L51.69 458.58L51.69 462.58Z" fill="#ff00ff"/><path d="M51.29 459.99L54.89 457.99L54.89 461.99Z" fill="#ff00ff"/><path d="M54.49 459.52L58.09 457.52L58.09 461.52Z" fill="#ff00ff"/><path d="M57.69 459.17L61.29 457.17L61.29 461.17Z" fill="#ff00ff"/><path d="M60.89 458.88L64.49 456.88L64.49 460.88Z" fill="#ff00ff"/><path d="M64.09 458.63L67.69 456.63L67.69 460.63Z" fill="#ff00ff"/><path d="M67.29 458.44L70.89 456.44L70.89 460.44Z" fill="#ff00ff"/><path d="M70.48 458.37L74.08 456.37L74.08 460.37Z" fill="#ff00ff"/><path d="M73.68 458.39L77.28 456.39L77.28 460.39Z" fill="#ff00ff"/><path d="M76.88 458.43L80.48 456.43L80.48 460.43Z" fill="#ff00ff"/><path d="M80.08 458.48L83.68 456.48L83.68 460.48Z" fill="#ff00ff"/><path d="M83.28 458.55L86.88 456.55L86.88 460.55Z" fill="#ff00ff"/><path d="M86.48 458.67L90.08 456.67L90.08 460.67Z" fill="#ff00ff"/><path d="M89.68 458.86L93.28 456.86L93.28 460.86Z" fill="#ff00ff"/><path d="M92.87 459.11L96.47 457.11L96.47 461.11Z" fill="#ff00ff"/><path d="M96.07 459.40L99.67 457.40L99.67 461.40Z" fill="#ff00ff"/><path d="M99.27 459.71L102.87 457.71L102.87 461.71Z" fill="#ff00ff"/><path d="M102.47 460.06L106.07 458.06L106.07 462.06Z" fill="#ff00ff"/><path d="M105.67 460.50L109.27 458.50L109.27 462.50Z" fill="#ff00ff"/><path d="M108.87 460.99L112.47 458.99L112.47 462.99Z" fill="#ff00ff"/><path d="M112.07 461.50L115.67 459.50L115.67 463.50Z" fill="#ff00ff"/><path d="M115.26 462.01L118.86 460.01L118.86 464.01Z" fill="#ff00ff"/><path d="M118.46 462.53L122.06 460.53L122.06 464.53Z" fill="#ff00ff"/><path d="M121.66 463.06L125.26 461.06L125.26 465.06Z" fill="#ff00ff"/><path d="M124.86 463.62L128.46 461.62L128.46 465.62Z" fill="#ff00ff"/><path d="M128.06 464.18L131.66 462.18L131.66 466.18Z" fill="#ff00ff"/><path d="M131.26 464.76L134.86 462.76L134.86 466.76Z" fill="#ff00ff"/><path d="M134.46 465.36L138.06 463.36L138.06 467.36Z" fill="#ff00ff"/><path d="M137.65 465.97L141.25 463.97L141.25 467.97Z" fill="#ff00ff"/><path d="M140.85 466.60L144.45 464.60L144.45 468.60Z" fill="#ff00ff"/><path d="M144.05 467.23L147.65 465.23L147.65 469.23Z" fill="#ff00ff"/><path d="M147.25 467.87L150.85 465.87L150.85 469.87Z" fill="#ff00ff"/><path d="M150.45 468.50L154.05 466.50L154.05 470.50Z" fill="#ff00ff"/><path d="M153.65 469.13L157.25 467.13L157.25 471.13Z" fill="#ff00ff"/><path d="M156.85 469.77L160.45 467.77L160.45 471.77Z" fill="#ff00ff"/><path d="M160.04 470.44L163.64 468.44L163.64 472.44Z" fill="#ff00ff"/><path d="M163.24 471.15L166.84 469.15L166.84 473.15Z" fill="#ff00ff"/><path d="M166.44 471.94L170.04 469.94L170.04 473.94Z" fill="#ff00ff"/><path d="M169.64 472.80L173.24 470.80L173.24 474.80Z" fill="#ff00ff"/><path d="M172.84 473.70L176.44 471.70L176.44 475.70Z" fill="#ff00ff"/><path d="M176.04 474.58L179.64 472.58L179.64 476.58Z" fill="#ff00ff"/><path d="M179.24 475.41L182.84 473.41L182.84 477.41Z" fill="#ff00ff"/><path d="M182.43 476.20L186.03 474.20L186.03 478.20Z" fill="#ff00ff"/><path d="M185.63 476.98L189.23 474.98L189.23 478.98Z" fill="#ff00ff"/><path d="M188.83 477.74L192.43 475.74L192.43 479.74Z" fill="#ff00ff"/><path d="M192.03 478.46L195.63 476.46L195.63 480.46Z" fill="#ff00ff"/><path d="M195.23 479.14L198.83 477.14L198.83 481.14Z" fill="#ff00ff"/><path d="M198.43 479.78L202.03 477.78L202.03 481.78Z" fill="#ff00ff"/><path d="M201.63 480.40L205.23 478.40L205.23 482.40Z" fill="#ff00ff"/><path d="M204.82 480.99L208.42 478.99L208.42 482.99Z" fill="#ff00ff"/><path d="M208.02 481.54L211.62 479.54L211.62 483.54Z" fill="#ff00ff"/><path d="M211.22 482.07L214.82 480.07L214.82 484.07Z" fill="#ff00ff"/><path d="M214.42 482.55L218.02 480.55L218.02 484.55Z" fill="#ff00ff"/><path d="M217.62 483.01L221.22 481.01L221.22 485.01Z" fill="#ff00ff"/><path d="M220.82 483.44L224.42 481.44L224.42 485.44Z" fill="#ff00ff"/><path d="M224.02 483.86L227.62 481.86L227.62 485.86Z" fill="#ff00ff"/><path d="M227.21 484.28L230.81 482.28L230.81 486.28Z" fill="#ff00ff"/><path d="M230.41 484.71L234.01 482.71L234.01 486.71Z" fill="#ff00ff"/><path d="M233.61 485.13L237.21 483.13L237.21 487.13Z" fill="#ff00ff"/><path d="M236.81 485.54L240.41 483.54L240.41 487.54Z" fill="#ff00ff"/><path d="M240.01 485.94L243.61 483.94L243.61 487.94Z" fill="#ff00ff"/><path d="M243.21 486.33L246.81 484.33L246.81 488.33Z" fill="#ff00ff"/><path d="M246.41 486.70L250.01 484.70L250.01 488.70Z" fill="#ff00ff"/><path d="M249.60 487.06L253.20 485.06L253.20 489.06Z" fill="#ff00ff"/><path d="M252.80 487.41L256.40 485.41L256.40 489.41Z" fill="#ff00ff"/><path d="M256.00 487.74L259.60 485.74L259.60 489.74Z" fill="#ff00ff"/><path d="M37.30 469.20 L40.50 465.74 L43.70 464.20 L46.90 463.25 L50.09 462.61 L53.29 462.10 L56.49 461.68 L59.69 461.30 L62.89 460.92 L66.09 460.56 L69.29 460.26 L72.48 460.06 L75.68 459.93 L78.88 459.81 L82.08 459.73 L85.28 459.71 L88.48 459.72 L91.68 459.75 L94.87 459.81 L98.07 459.88 L101.27 459.97 L104.47 460.17 L107.67 460.55 L110.87 461.03 L114.07 461.54 L117.26 462.01 L120.46 462.45 L123.66 462.89 L126.86 463.34 L130.06 463.82 L133.26 464.32 L136.46 464.86 L139.65 465.43 L142.85 466.02 L146.05 466.63 L149.25 467.25 L152.45 467.85 L155.65 468.46 L158.85 469.09 L162.04 469.74 L165.24 470.44 L168.44 471.22 L171.64 472.09 L174.84 472.98 L178.04 473.87 L181.24 474.70 L184.43 475.49 L187.63 476.27 L190.83 477.03 L194.03 477.75 L197.23 478.43 L200.43 479.07 L203.63 479.69 L206.82 480.28 L210.02 480.83 L213.22 481.36 L216.42 481.84 L219.62 482.30 L222.82 482.73 L226.02 483.15 L229.21 483.57 L232.41 484.00 L235.61 484.42 L238.81 484.83 L242.01 485.23 L245.21 485.62 L248.41 485.99 L251.60 486.35 L254.80 486.70 L258.00 487.04" fill="none" stroke="#ffff00" stroke-width="1.0"/><path d="M39.30 469.20L35.70 467.20L35.70 471.20Z" fill="#ffff00"/><path d="M42.50 465.74L38.90 463.74L38.90 467.74Z" fill="#ffff00"/><path d="M45.70 464.20L42.10 462.20L42.10 466.20Z" fill="#ffff00"/><path d="M48.90 463.25L45.30 461.25L45.30 465.25Z" fill="#ffff00"/><path d="M52.09 462.61L48.49 460.61L48.49 464.61Z" fill="#ffff00"/><path d="M55.29 462.10L51.69 460.10L51.69 464.10Z" fill="#ffff00"/><path d="M58.49 461.68L54.89 459.68L54.89 463.68Z" fill="#ffff00"/><path d="M61.69 461.30L58.09 459.30L58.09 463.30Z" fill="#ffff00"/><path d="M64.89 460.92L61.29 458.92L61.29 462.92Z" fill="#ffff00"/><path d="M68.09 460.56L64.49 458.56L64.49 462.56Z" fill="#ffff00"/><path d="M71.29 460.26L67.69 458.26L67.69 462.26Z" fill="#ffff00"/><path d="M74.48 460.06L70.88 458.06L70.88 462.06Z" fill="#ffff00"/><path d="M77.68 459.93L74.08 457.93L74.08 461.93Z" fill="#ffff00"/><path d="M80.88 459.81L77.28 457.81L77.28 461.81Z" fill="#ffff00"/><path d="M84.08 459.73L80.48 457.73L80.48 461.73Z" fill="#ffff00"/><path d="M87.28 459.71L83.68 457.71L83.68 461.71Z" fill="#ffff00"/><path d="M90.48 459.72L86.88 457.72L86.88 461.72Z" fill="#ffff00"/><path d="M93.68 459.75L90.08 457.75L90.08 461.75Z" fill="#ffff00"/><path d="M96.87 459.81L93.27 457.81L93.27 461.81Z" fill="#ffff00"/><path d="M100.07 459.88L96.47 457.88L96.47 461.88Z" fill="#ffff00"/><path d="M103.27 459.97L99.67 457.97L99.67 461.97Z" fill="#ffff00"/><path d="M106.47 460.17L102.87 458.17L102.87 462.17Z" fill="#ffff00"/><path d="M109.67 460.55L106.07 458.55L106.07 462.55Z" fill="#ffff00"/><path d="M112.87 461.03L109.27 459.03L109.27 463.03Z" fill="#ffff00"/><path d="M116.07 461.54L112.47 459.54L112.47 463.54Z" fill="#ffff00"/><path d="M119.26 462.01L115.66 460.01L115.66 464.01Z" fill="#ffff00"/><path d="M122.46 462.45L118.86 460.45L118.86 464.45Z" fill="#ffff00"/><path d="M125.66 462.89L122.06 460.89L122.06 464.89Z" fill="#ffff00"/><path d="M128.86 463.34L125.26 461.34L125.26 465.34Z" fill="#ffff00"/><path d="M132.06 463.82L128.46 461.82L128.46 465.82Z" fill="#ffff00"/><path d="M135.26 464.32L131.66 462.32L131.66 466.32Z" fill="#ffff00"/><path d="M138.46 464.86L134.86 462.86L134.86 466.86Z" fill="#ffff00"/><path d="M141.65 465.43L138.05 463.43L138.05 467.43Z" fill="#ffff00"/><path d="M144.85 466.02L141.25 464.02L141.25 468.02Z" fill="#ffff00"/><path d="M148.05 466.63L144.45 464.63L144.45 468.63Z" fill="#ffff00"/><path d="M151.25 467.25L147.65 465.25L147.65 469.25Z" fill="#ffff00"/><path d="M154.45 467.85L150.85 465.85L150.85 469.85Z" fill="#ffff00"/><path d="M157.65 468.46L154.05 466.46L154.05 470.46Z" fill="#ffff00"/><path d="M160.85 469.09L157.25 467.09L157.25 471.09Z" fill="#ffff00"/><path d="M164.04 469.74L160.44 467.74L160.44 471.74Z" fill="#ffff00"/><path d="M167.24 470.44L163.64 468.44L163.64 472.44Z" fill="#ffff00"/><path d="M170.44 471.22L166.84 469.22L166.84 473.22Z" fill="#ffff00"/><path d="M173.64 472.09L170.04 470.09L170.04 474.09Z" fill="#ffff00"/><path d="M176.84 472.98L173.24 470.98L173.24 474.98Z" fill="#ffff00"/><path d="M180.04 473.87L176.44 471.87L176.44 475.87Z" fill="#ffff00"/><path d="M183.24 474.70L179.64 472.70L179.64 476.70Z" fill="#ffff00"/><path d="M186.43 475.49L182.83 473.49L182.83 477.49Z" fill="#ffff00"/><path d="M189.63 476.27L186.03 474.27L186.03 478.27Z" fill="#ffff00"/><path d="M192.83 477.03L189.23 475.03L189.23 479.03Z" fill="#ffff00"/><path d="M196.03 477.75L192.43 475.75L192.43 479.75Z" fill="#ffff00"/><path d="M199.23 478.43L195.63 476.43L195.63 480.43Z" fill="#ffff00"/><path d="M202.43 479.07L198.83 477.07L198.83 481.07Z" fill="#ffff00"/><path d="M205.63 479.69L202.03 477.69L202.03 481.69Z" fill="#ffff00"/><path d="M208.82 480.28L205.22 478.28L205.22 482.28Z" fill="#ffff00"/><path d="M212.02 480.83L208.42 478.83L208.42 482.83Z" fill="#ffff00"/><path d="M215.22 481.36L211.62 479.36L211.62 483.36Z" fill="#ffff00"/><path d="M218.42 481.84L214.82 479.84L214.82 483.84Z" fill="#ffff00"/><path d="M221.62 482.30L218.02 480.30L218.02 484.30Z" fill="#ffff00"/><path d="M224.82 482.73L221.22 480.73L221.22 484.73Z" fill="#ffff00"/><path d="M228.02 483.15L224.42 481.15L224.42 485.15Z" fill="#ffff00"/><path d="M231.21 483.57L227.61 481.57L227.61 485.57Z" fill="#ffff00"/><path d="M234.41 484.00L230.81 482.00L230.81 486.00Z" fill="#ffff00"/><path d="M237.61 484.42L234.01 482.42L234.01 486.42Z" fill="#ffff00"/><path d="M240.81 484.83L237.21 482.83L237.21 486.83Z" fill="#ffff00"/><path d="M244.01 485.23L240.41 483.23L240.41 487.23Z" fill="#ffff00"/><path d="M247.21 485.62L243.61 483.62L243.61 487.62Z" fill="#ffff00"/><path d="M250.41 485.99L246.81 483.99L246.81 487.99Z" fill="#ffff00"/><path d="M253.60 486.35L250.00 484.35L250.00 488.35Z" fill="#ffff00"/><path d="M256.80 486.70L253.20 484.70L253.20 488.70Z" fill="#ffff00"/><path d="M260.00 487.04L256.40 485.04L256.40 489.04Z" fill="#ffff00"/></g><clipPath id="clipe"><rect x="37.30" y="366.60" width="223.90" height="134.10"/></clipPath><path d="M37.30 500.70v-3.0M37.30 367.60v3.0M53.29 500.70v-1.8M53.29 367.60v1.8M69.29 500.70v-3.0M69.29 367.60v3.0M85.28 500.70v-1.8M85.28 367.60v1.8M101.27 500.70v-3.0M101.27 367.60v3.0M117.26 500.70v-1.8M117.26 367.60v1.8M133.26 500.70v-3.0M133.26 367.60v3.0M149.25 500.70v-1.8M149.25 367.60v1.8M165.24 500.70v-3.0M165.24 367.60v3.0M181.24 500.70v-1.8M181.24 367.60v1.8M197.23 500.70v-3.0M197.23 367.60v3.0M213.22 500.70v-1.8M213.22 367.60v1.8M229.21 500.70v-3.0M229.21 367.60v3.0M245.21 500.70v-1.8M245.21 367.60v1.8M261.20 500.70v-3.0M261.20 367.60v3.0M37.30 500.70h3.0M261.20 500.70h-3.0M37.30 487.39h1.8M261.20 487.39h-1.8M37.30 474.08h3.0M261.20 474.08h-3.0M37.30 460.77h1.8M261.20 460.77h-1.8M37.30 447.46h3.0M261.20 447.46h-3.0M37.30 434.15h1.8M261.20 434.15h-1.8M37.30 420.84h3.0M261.20 420.84h-3.0M37.30 407.53h1.8M261.20 407.53h-1.8M37.30 394.22h3.0M261.20 394.22h-3.0M37.30 380.91h1.8M261.20 380.91h-1.8M37.30 367.60h3.0M261.20 367.60h-3.0" stroke="#000" stroke-width="0.9" fill="none"/><rect x="37.30" y="367.60" width="223.90" height="133.10" fill="none" stroke="#000" stroke-width="1.3"/><g font-family='"Liberation Sans", Arial, sans-serif' font-size="7" fill="#000" stroke="#000" stroke-width="0.15"><text x="37.30" y="509.50" text-anchor="middle">0</text><text x="69.29" y="509.50" text-anchor="middle">10</text><text x="101.27" y="509.50" text-anchor="middle">20</text><text x="133.26" y="509.50" text-anchor="middle">30</text><text x="165.24" y="509.50" text-anchor="middle">40</text><text x="197.23" y="509.50" text-anchor="middle">50</text><text x="229.21" y="509.50" text-anchor="middle">60</text><text x="261.20" y="509.50" text-anchor="middle">70</text><text x="33.90" y="502.90" text-anchor="end">0</text><text x="33.90" y="476.28" text-anchor="end">300</text><text x="33.90" y="449.66" text-anchor="end">600</text><text x="33.90" y="423.04" text-anchor="end">900</text><text x="33.90" y="396.42" text-anchor="end">1200</text><text x="33.90" y="369.80" text-anchor="end">1500</text></g><text x="138.30" y="517.50" font-family='"Liberation Sans", Arial, sans-serif' font-weight="bold" font-size="8.5" textLength="21.6" lengthAdjust="spacingAndGlyphs" fill="#000">Delay</text><text transform="translate(17.30,439.80) rotate(-90)" x="0" y="0" text-anchor="middle" font-family='"Liberation Sans", Arial, sans-serif' font-weight="bold" font-size="8.4" textLength="92.0" lengthAdjust="spacingAndGlyphs" fill="#000">The number of packets</text><rect x="241.60" y="370.50" width="18.90" height="57.00" fill="#9a9a9a"/><rect x="240.60" y="369.50" width="18.90" height="57.00" fill="#fff" stroke="#555" stroke-width="0.6"/><line x1="241.40" y1="375.20" x2="250.50" y2="375.20" stroke="#000000" stroke-width="1.0"/><rect x="244.40" y="373.65" width="3.10" height="3.10" fill="#000000"/><text x="252.30" y="377.20" font-family='"Liberation Sans", Arial, sans-serif' font-style="italic" font-size="5.9" fill="#000" stroke="#000" stroke-width="0.05">Q<tspan font-size="3.8" dy="-2.3" stroke-width="0.05">1</tspan></text><line x1="241.40" y1="383.00" x2="250.50" y2="383.00" stroke="#ff0000" stroke-width="1.0"/><circle cx="245.95" cy="383.00" r="2.01" fill="#ff0000"/><text x="252.30" y="385.00" font-family='"Liberation Sans", Arial, sans-serif' font-style="italic" font-size="5.9" fill="#000" stroke="#000" stroke-width="0.05">Q<tspan font-size="3.8" dy="-2.3" stroke-width="0.05">2</tspan></text><line x1="241.40" y1="390.80" x2="250.50" y2="390.80" stroke="#0000ff" stroke-width="1.0" stroke-dasharray="1.6 2.2"/><path d="M245.95 388.27L248.02 392.37L243.88 392.37Z" fill="#0000ff"/><text x="252.30" y="392.80" font-family='"Liberation Sans", Arial, sans-serif' font-style="italic" font-size="5.9" fill="#000" stroke="#000" stroke-width="0.05">Q<tspan font-size="3.8" dy="-2.3" stroke-width="0.05">3</tspan></text><line x1="241.40" y1="398.60" x2="250.50" y2="398.60" stroke="#008080" stroke-width="1.0" stroke-dasharray="6 2.4 1 3"/><path d="M245.95 401.13L248.02 397.03L243.88 397.03Z" fill="#008080"/><text x="252.30" y="400.60" font-family='"Liberation Sans", Arial, sans-serif' font-style="italic" font-size="5.9" fill="#000" stroke="#000" stroke-width="0.05">Q<tspan font-size="3.8" dy="-2.3" stroke-width="0.05">4</tspan></text><line x1="241.40" y1="406.40" x2="250.50" y2="406.40" stroke="#00ffff" stroke-width="1.0"/><path d="M245.95 404.10L248.25 406.40L245.95 408.70L243.65 406.40Z" fill="#00ffff"/><text x="252.30" y="408.40" font-family='"Liberation Sans", Arial, sans-serif' font-style="italic" font-size="5.9" fill="#000" stroke="#000" stroke-width="0.05">Q<tspan font-size="3.8" dy="-2.3" stroke-width="0.05">5</tspan></text><line x1="241.40" y1="414.20" x2="250.50" y2="414.20" stroke="#ff00ff" stroke-width="1.0" stroke-dasharray="1.6 2.2"/><path d="M243.65 414.20L247.79 411.90L247.79 416.50Z" fill="#ff00ff"/><text x="252.30" y="416.20" font-family='"Liberation Sans", Arial, sans-serif' font-style="italic" font-size="5.9" fill="#000" stroke="#000" stroke-width="0.05">Q<tspan font-size="3.8" dy="-2.3" stroke-width="0.05">6</tspan></text><line x1="241.40" y1="422.00" x2="250.50" y2="422.00" stroke="#ffff00" stroke-width="1.0"/><path d="M248.25 422.00L244.11 419.70L244.11 424.30Z" fill="#ffff00"/><text x="252.30" y="424.00" font-family='"Liberation Sans", Arial, sans-serif' font-style="italic" font-size="5.9" fill="#000" stroke="#000" stroke-width="0.05">Q<tspan font-size="3.8" dy="-2.3" stroke-width="0.05">7</tspan></text><g stroke="#a6a6a6" stroke-width="1"><line x1="346.50" y1="369.30" x2="346.50" y2="500.70" /><line x1="378.50" y1="369.30" x2="378.50" y2="500.70" /><line x1="410.50" y1="369.30" x2="410.50" y2="500.70" /><line x1="442.50" y1="369.30" x2="442.50" y2="500.70" /><line x1="474.50" y1="369.30" x2="474.50" y2="500.70" /><line x1="506.50" y1="369.30" x2="506.50" y2="500.70" /><line x1="314.10" y1="474.50" x2="539.00" y2="474.50" /><line x1="314.10" y1="448.50" x2="539.00" y2="448.50" /><line x1="314.10" y1="421.50" x2="539.00" y2="421.50" /><line x1="314.10" y1="395.50" x2="539.00" y2="395.50" /></g><g clip-path="url(#clipf)"><path d="M314.10 465.48 L317.31 456.43 L320.53 455.02 L323.74 454.51 L326.95 454.23 L330.16 454.19 L333.38 454.26 L336.59 454.39 L339.80 454.56 L343.02 454.74 L346.23 454.90 L349.44 455.05 L352.65 455.19 L355.87 455.34 L359.08 455.48 L362.29 455.65 L365.51 455.82 L368.72 456.02 L371.93 456.25 L375.14 456.51 L378.36 456.81 L381.57 457.27 L384.78 457.94 L388.00 458.73 L391.21 459.55 L394.42 460.32 L397.63 461.04 L400.85 461.80 L404.06 462.54 L407.27 463.22 L410.49 463.82 L413.70 464.33 L416.91 464.78 L420.12 465.20 L423.34 465.61 L426.55 466.01 L429.76 466.41 L432.98 466.81 L436.19 467.19 L439.40 467.57 L442.61 467.94 L445.83 468.30 L449.04 468.65 L452.25 469.00 L455.47 469.35 L458.68 469.69 L461.89 470.01 L465.10 470.30 L468.32 470.60 L471.53 470.94 L474.74 471.35 L477.96 471.86 L481.17 472.52 L484.38 473.37 L487.59 474.72 L490.81 476.52 L494.02 478.71 L497.23 480.86 L500.45 482.83 L503.66 484.46 L506.87 485.98 L510.08 487.58 L513.30 489.05 L516.51 490.30 L519.72 491.33 L522.94 492.11 L526.15 492.73 L529.36 493.23 L532.57 493.65 L535.79 493.95" fill="none" stroke="#000000" stroke-width="1.0"/><rect x="312.75" y="464.13" width="2.70" height="2.70" fill="#000000"/><rect x="315.96" y="455.08" width="2.70" height="2.70" fill="#000000"/><rect x="319.18" y="453.67" width="2.70" height="2.70" fill="#000000"/><rect x="322.39" y="453.16" width="2.70" height="2.70" fill="#000000"/><rect x="325.60" y="452.88" width="2.70" height="2.70" fill="#000000"/><rect x="328.81" y="452.84" width="2.70" height="2.70" fill="#000000"/><rect x="332.03" y="452.91" width="2.70" height="2.70" fill="#000000"/><rect x="335.24" y="453.04" width="2.70" height="2.70" fill="#000000"/><rect x="338.45" y="453.21" width="2.70" height="2.70" fill="#000000"/><rect x="341.67" y="453.39" width="2.70" height="2.70" fill="#000000"/><rect x="344.88" y="453.55" width="2.70" height="2.70" fill="#000000"/><rect x="348.09" y="453.70" width="2.70" height="2.70" fill="#000000"/><rect x="351.30" y="453.84" width="2.70" height="2.70" fill="#000000"/><rect x="354.52" y="453.99" width="2.70" height="2.70" fill="#000000"/><rect x="357.73" y="454.13" width="2.70" height="2.70" fill="#000000"/><rect x="360.94" y="454.30" width="2.70" height="2.70" fill="#000000"/><rect x="364.16" y="454.47" width="2.70" height="2.70" fill="#000000"/><rect x="367.37" y="454.67" width="2.70" height="2.70" fill="#000000"/><rect x="370.58" y="454.90" width="2.70" height="2.70" fill="#000000"/><rect x="373.79" y="455.16" width="2.70" height="2.70" fill="#000000"/><rect x="377.01" y="455.46" width="2.70" height="2.70" fill="#000000"/><rect x="380.22" y="455.92" width="2.70" height="2.70" fill="#000000"/><rect x="383.43" y="456.59" width="2.70" height="2.70" fill="#000000"/><rect x="386.65" y="457.38" width="2.70" height="2.70" fill="#000000"/><rect x="389.86" y="458.20" width="2.70" height="2.70" fill="#000000"/><rect x="393.07" y="458.97" width="2.70" height="2.70" fill="#000000"/><rect x="396.28" y="459.69" width="2.70" height="2.70" fill="#000000"/><rect x="399.50" y="460.45" width="2.70" height="2.70" fill="#000000"/><rect x="402.71" y="461.19" width="2.70" height="2.70" fill="#000000"/><rect x="405.92" y="461.87" width="2.70" height="2.70" fill="#000000"/><rect x="409.14" y="462.47" width="2.70" height="2.70" fill="#000000"/><rect x="412.35" y="462.98" width="2.70" height="2.70" fill="#000000"/><rect x="415.56" y="463.43" width="2.70" height="2.70" fill="#000000"/><rect x="418.77" y="463.85" width="2.70" height="2.70" fill="#000000"/><rect x="421.99" y="464.26" width="2.70" height="2.70" fill="#000000"/><rect x="425.20" y="464.66" width="2.70" height="2.70" fill="#000000"/><rect x="428.41" y="465.06" width="2.70" height="2.70" fill="#000000"/><rect x="431.63" y="465.46" width="2.70" height="2.70" fill="#000000"/><rect x="434.84" y="465.84" width="2.70" height="2.70" fill="#000000"/><rect x="438.05" y="466.22" width="2.70" height="2.70" fill="#000000"/><rect x="441.26" y="466.59" width="2.70" height="2.70" fill="#000000"/><rect x="444.48" y="466.95" width="2.70" height="2.70" fill="#000000"/><rect x="447.69" y="467.30" width="2.70" height="2.70" fill="#000000"/><rect x="450.90" y="467.65" width="2.70" height="2.70" fill="#000000"/><rect x="454.12" y="468.00" width="2.70" height="2.70" fill="#000000"/><rect x="457.33" y="468.34" width="2.70" height="2.70" fill="#000000"/><rect x="460.54" y="468.66" width="2.70" height="2.70" fill="#000000"/><rect x="463.75" y="468.95" width="2.70" height="2.70" fill="#000000"/><rect x="466.97" y="469.25" width="2.70" height="2.70" fill="#000000"/><rect x="470.18" y="469.59" width="2.70" height="2.70" fill="#000000"/><rect x="473.39" y="470.00" width="2.70" height="2.70" fill="#000000"/><rect x="476.61" y="470.51" width="2.70" height="2.70" fill="#000000"/><rect x="479.82" y="471.17" width="2.70" height="2.70" fill="#000000"/><rect x="483.03" y="472.02" width="2.70" height="2.70" fill="#000000"/><rect x="486.24" y="473.37" width="2.70" height="2.70" fill="#000000"/><rect x="489.46" y="475.17" width="2.70" height="2.70" fill="#000000"/><rect x="492.67" y="477.36" width="2.70" height="2.70" fill="#000000"/><rect x="495.88" y="479.51" width="2.70" height="2.70" fill="#000000"/><rect x="499.10" y="481.48" width="2.70" height="2.70" fill="#000000"/><rect x="502.31" y="483.11" width="2.70" height="2.70" fill="#000000"/><rect x="505.52" y="484.63" width="2.70" height="2.70" fill="#000000"/><rect x="508.73" y="486.23" width="2.70" height="2.70" fill="#000000"/><rect x="511.95" y="487.70" width="2.70" height="2.70" fill="#000000"/><rect x="515.16" y="488.95" width="2.70" height="2.70" fill="#000000"/><rect x="518.37" y="489.98" width="2.70" height="2.70" fill="#000000"/><rect x="521.59" y="490.76" width="2.70" height="2.70" fill="#000000"/><rect x="524.80" y="491.38" width="2.70" height="2.70" fill="#000000"/><rect x="528.01" y="491.88" width="2.70" height="2.70" fill="#000000"/><rect x="531.22" y="492.30" width="2.70" height="2.70" fill="#000000"/><rect x="534.44" y="492.60" width="2.70" height="2.70" fill="#000000"/><path d="M314.10 465.31 L317.31 456.26 L320.53 454.85 L323.74 454.34 L326.95 454.06 L330.16 454.02 L333.38 454.09 L336.59 454.22 L339.80 454.38 L343.02 454.56 L346.23 454.73 L349.44 454.87 L352.65 455.02 L355.87 455.16 L359.08 455.31 L362.29 455.47 L365.51 455.65 L368.72 455.85 L371.93 456.08 L375.14 456.34 L378.36 456.64 L381.57 457.09 L384.78 457.77 L388.00 458.56 L391.21 459.38 L394.42 460.14 L397.63 460.87 L400.85 461.62 L404.06 462.36 L407.27 463.05 L410.49 463.65 L413.70 464.15 L416.91 464.61 L420.12 465.03 L423.34 465.43 L426.55 465.84 L429.76 466.24 L432.98 466.63 L436.19 467.02 L439.40 467.39 L442.61 467.76 L445.83 468.12 L449.04 468.48 L452.25 468.83 L455.47 469.17 L458.68 469.51 L461.89 469.83 L465.10 470.13 L468.32 470.43 L471.53 470.77 L474.74 471.18 L477.96 471.69 L481.17 472.34 L484.38 473.19 L487.59 474.55 L490.81 476.35 L494.02 478.54 L497.23 480.68 L500.45 482.65 L503.66 484.29 L506.87 485.81 L510.08 487.40 L513.30 488.87 L516.51 490.12 L519.72 491.15 L522.94 491.94 L526.15 492.55 L529.36 493.05 L532.57 493.47 L535.79 493.78" fill="none" stroke="#ff0000" stroke-width="1.0"/><circle cx="314.10" cy="465.31" r="1.75" fill="#ff0000"/><circle cx="317.31" cy="456.26" r="1.75" fill="#ff0000"/><circle cx="320.53" cy="454.85" r="1.75" fill="#ff0000"/><circle cx="323.74" cy="454.34" r="1.75" fill="#ff0000"/><circle cx="326.95" cy="454.06" r="1.75" fill="#ff0000"/><circle cx="330.16" cy="454.02" r="1.75" fill="#ff0000"/><circle cx="333.38" cy="454.09" r="1.75" fill="#ff0000"/><circle cx="336.59" cy="454.22" r="1.75" fill="#ff0000"/><circle cx="339.80" cy="454.38" r="1.75" fill="#ff0000"/><circle cx="343.02" cy="454.56" r="1.75" fill="#ff0000"/><circle cx="346.23" cy="454.73" r="1.75" fill="#ff0000"/><circle cx="349.44" cy="454.87" r="1.75" fill="#ff0000"/><circle cx="352.65" cy="455.02" r="1.75" fill="#ff0000"/><circle cx="355.87" cy="455.16" r="1.75" fill="#ff0000"/><circle cx="359.08" cy="455.31" r="1.75" fill="#ff0000"/><circle cx="362.29" cy="455.47" r="1.75" fill="#ff0000"/><circle cx="365.51" cy="455.65" r="1.75" fill="#ff0000"/><circle cx="368.72" cy="455.85" r="1.75" fill="#ff0000"/><circle cx="371.93" cy="456.08" r="1.75" fill="#ff0000"/><circle cx="375.14" cy="456.34" r="1.75" fill="#ff0000"/><circle cx="378.36" cy="456.64" r="1.75" fill="#ff0000"/><circle cx="381.57" cy="457.09" r="1.75" fill="#ff0000"/><circle cx="384.78" cy="457.77" r="1.75" fill="#ff0000"/><circle cx="388.00" cy="458.56" r="1.75" fill="#ff0000"/><circle cx="391.21" cy="459.38" r="1.75" fill="#ff0000"/><circle cx="394.42" cy="460.14" r="1.75" fill="#ff0000"/><circle cx="397.63" cy="460.87" r="1.75" fill="#ff0000"/><circle cx="400.85" cy="461.62" r="1.75" fill="#ff0000"/><circle cx="404.06" cy="462.36" r="1.75" fill="#ff0000"/><circle cx="407.27" cy="463.05" r="1.75" fill="#ff0000"/><circle cx="410.49" cy="463.65" r="1.75" fill="#ff0000"/><circle cx="413.70" cy="464.15" r="1.75" fill="#ff0000"/><circle cx="416.91" cy="464.61" r="1.75" fill="#ff0000"/><circle cx="420.12" cy="465.03" r="1.75" fill="#ff0000"/><circle cx="423.34" cy="465.43" r="1.75" fill="#ff0000"/><circle cx="426.55" cy="465.84" r="1.75" fill="#ff0000"/><circle cx="429.76" cy="466.24" r="1.75" fill="#ff0000"/><circle cx="432.98" cy="466.63" r="1.75" fill="#ff0000"/><circle cx="436.19" cy="467.02" r="1.75" fill="#ff0000"/><circle cx="439.40" cy="467.39" r="1.75" fill="#ff0000"/><circle cx="442.61" cy="467.76" r="1.75" fill="#ff0000"/><circle cx="445.83" cy="468.12" r="1.75" fill="#ff0000"/><circle cx="449.04" cy="468.48" r="1.75" fill="#ff0000"/><circle cx="452.25" cy="468.83" r="1.75" fill="#ff0000"/><circle cx="455.47" cy="469.17" r="1.75" fill="#ff0000"/><circle cx="458.68" cy="469.51" r="1.75" fill="#ff0000"/><circle cx="461.89" cy="469.83" r="1.75" fill="#ff0000"/><circle cx="465.10" cy="470.13" r="1.75" fill="#ff0000"/><circle cx="468.32" cy="470.43" r="1.75" fill="#ff0000"/><circle cx="471.53" cy="470.77" r="1.75" fill="#ff0000"/><circle cx="474.74" cy="471.18" r="1.75" fill="#ff0000"/><circle cx="477.96" cy="471.69" r="1.75" fill="#ff0000"/><circle cx="481.17" cy="472.34" r="1.75" fill="#ff0000"/><circle cx="484.38" cy="473.19" r="1.75" fill="#ff0000"/><circle cx="487.59" cy="474.55" r="1.75" fill="#ff0000"/><circle cx="490.81" cy="476.35" r="1.75" fill="#ff0000"/><circle cx="494.02" cy="478.54" r="1.75" fill="#ff0000"/><circle cx="497.23" cy="480.68" r="1.75" fill="#ff0000"/><circle cx="500.45" cy="482.65" r="1.75" fill="#ff0000"/><circle cx="503.66" cy="484.29" r="1.75" fill="#ff0000"/><circle cx="506.87" cy="485.81" r="1.75" fill="#ff0000"/><circle cx="510.08" cy="487.40" r="1.75" fill="#ff0000"/><circle cx="513.30" cy="488.87" r="1.75" fill="#ff0000"/><circle cx="516.51" cy="490.12" r="1.75" fill="#ff0000"/><circle cx="519.72" cy="491.15" r="1.75" fill="#ff0000"/><circle cx="522.94" cy="491.94" r="1.75" fill="#ff0000"/><circle cx="526.15" cy="492.55" r="1.75" fill="#ff0000"/><circle cx="529.36" cy="493.05" r="1.75" fill="#ff0000"/><circle cx="532.57" cy="493.47" r="1.75" fill="#ff0000"/><circle cx="535.79" cy="493.78" r="1.75" fill="#ff0000"/><path d="M314.10 465.13 L317.31 456.08 L320.53 454.67 L323.74 454.16 L326.95 453.88 L330.16 453.84 L333.38 453.91 L336.59 454.04 L339.80 454.21 L343.02 454.39 L346.23 454.55 L349.44 454.70 L352.65 454.84 L355.87 454.98 L359.08 455.13 L362.29 455.30 L365.51 455.47 L368.72 455.67 L371.93 455.90 L375.14 456.16 L378.36 456.46 L381.57 456.92 L384.78 457.59 L388.00 458.38 L391.21 459.20 L394.42 459.97 L397.63 460.69 L400.85 461.45 L404.06 462.18 L407.27 462.87 L410.49 463.47 L413.70 463.98 L416.91 464.43 L420.12 464.85 L423.34 465.26 L426.55 465.66 L429.76 466.06 L432.98 466.46 L436.19 466.84 L439.40 467.22 L442.61 467.59 L445.83 467.95 L449.04 468.30 L452.25 468.65 L455.47 469.00 L458.68 469.34 L461.89 469.66 L465.10 469.95 L468.32 470.25 L471.53 470.59 L474.74 471.00 L477.96 471.51 L481.17 472.17 L484.38 473.02 L487.59 474.37 L490.81 476.17 L494.02 478.36 L497.23 480.51 L500.45 482.48 L503.66 484.11 L506.87 485.63 L510.08 487.23 L513.30 488.70 L516.51 489.95 L519.72 490.98 L522.94 491.76 L526.15 492.38 L529.36 492.88 L532.57 493.30 L535.79 493.60" fill="none" stroke="#0000ff" stroke-width="1.0"/><path d="M314.10 462.93L315.90 466.50L312.30 466.50Z" fill="#0000ff"/><path d="M317.31 453.88L319.11 457.44L315.51 457.44Z" fill="#0000ff"/><path d="M320.53 452.47L322.33 456.03L318.73 456.03Z" fill="#0000ff"/><path d="M323.74 451.96L325.54 455.52L321.94 455.52Z" fill="#0000ff"/><path d="M326.95 451.68L328.75 455.25L325.15 455.25Z" fill="#0000ff"/><path d="M330.16 451.64L331.96 455.21L328.36 455.21Z" fill="#0000ff"/><path d="M333.38 451.71L335.18 455.28L331.58 455.28Z" fill="#0000ff"/><path d="M336.59 451.84L338.39 455.41L334.79 455.41Z" fill="#0000ff"/><path d="M339.80 452.01L341.60 455.57L338.00 455.57Z" fill="#0000ff"/><path d="M343.02 452.19L344.82 455.75L341.22 455.75Z" fill="#0000ff"/><path d="M346.23 452.35L348.03 455.91L344.43 455.91Z" fill="#0000ff"/><path d="M349.44 452.50L351.24 456.06L347.64 456.06Z" fill="#0000ff"/><path d="M352.65 452.64L354.45 456.21L350.85 456.21Z" fill="#0000ff"/><path d="M355.87 452.78L357.67 456.35L354.07 456.35Z" fill="#0000ff"/><path d="M359.08 452.93L360.88 456.50L357.28 456.50Z" fill="#0000ff"/><path d="M362.29 453.10L364.09 456.66L360.49 456.66Z" fill="#0000ff"/><path d="M365.51 453.27L367.31 456.84L363.71 456.84Z" fill="#0000ff"/><path d="M368.72 453.47L370.52 457.04L366.92 457.04Z" fill="#0000ff"/><path d="M371.93 453.70L373.73 457.27L370.13 457.27Z" fill="#0000ff"/><path d="M375.14 453.96L376.94 457.53L373.34 457.53Z" fill="#0000ff"/><path d="M378.36 454.26L380.16 457.83L376.56 457.83Z" fill="#0000ff"/><path d="M381.57 454.72L383.37 458.28L379.77 458.28Z" fill="#0000ff"/><path d="M384.78 455.39L386.58 458.95L382.98 458.95Z" fill="#0000ff"/><path d="M388.00 456.18L389.80 459.75L386.20 459.75Z" fill="#0000ff"/><path d="M391.21 457.00L393.01 460.57L389.41 460.57Z" fill="#0000ff"/><path d="M394.42 457.77L396.22 461.33L392.62 461.33Z" fill="#0000ff"/><path d="M397.63 458.49L399.43 462.06L395.83 462.06Z" fill="#0000ff"/><path d="M400.85 459.25L402.65 462.81L399.05 462.81Z" fill="#0000ff"/><path d="M404.06 459.98L405.86 463.55L402.26 463.55Z" fill="#0000ff"/><path d="M407.27 460.67L409.07 464.24L405.47 464.24Z" fill="#0000ff"/><path d="M410.49 461.27L412.29 464.83L408.69 464.83Z" fill="#0000ff"/><path d="M413.70 461.78L415.50 465.34L411.90 465.34Z" fill="#0000ff"/><path d="M416.91 462.23L418.71 465.80L415.11 465.80Z" fill="#0000ff"/><path d="M420.12 462.65L421.92 466.22L418.32 466.22Z" fill="#0000ff"/><path d="M423.34 463.06L425.14 466.62L421.54 466.62Z" fill="#0000ff"/><path d="M426.55 463.46L428.35 467.02L424.75 467.02Z" fill="#0000ff"/><path d="M429.76 463.86L431.56 467.43L427.96 467.43Z" fill="#0000ff"/><path d="M432.98 464.26L434.78 467.82L431.18 467.82Z" fill="#0000ff"/><path d="M436.19 464.64L437.99 468.21L434.39 468.21Z" fill="#0000ff"/><path d="M439.40 465.02L441.20 468.58L437.60 468.58Z" fill="#0000ff"/><path d="M442.61 465.39L444.41 468.95L440.81 468.95Z" fill="#0000ff"/><path d="M445.83 465.75L447.63 469.31L444.03 469.31Z" fill="#0000ff"/><path d="M449.04 466.10L450.84 469.67L447.24 469.67Z" fill="#0000ff"/><path d="M452.25 466.45L454.05 470.02L450.45 470.02Z" fill="#0000ff"/><path d="M455.47 466.80L457.27 470.36L453.67 470.36Z" fill="#0000ff"/><path d="M458.68 467.14L460.48 470.70L456.88 470.70Z" fill="#0000ff"/><path d="M461.89 467.46L463.69 471.02L460.09 471.02Z" fill="#0000ff"/><path d="M465.10 467.75L466.90 471.32L463.30 471.32Z" fill="#0000ff"/><path d="M468.32 468.05L470.12 471.62L466.52 471.62Z" fill="#0000ff"/><path d="M471.53 468.39L473.33 471.96L469.73 471.96Z" fill="#0000ff"/><path d="M474.74 468.80L476.54 472.37L472.94 472.37Z" fill="#0000ff"/><path d="M477.96 469.31L479.76 472.88L476.16 472.88Z" fill="#0000ff"/><path d="M481.17 469.97L482.97 473.53L479.37 473.53Z" fill="#0000ff"/><path d="M484.38 470.82L486.18 474.38L482.58 474.38Z" fill="#0000ff"/><path d="M487.59 472.17L489.39 475.73L485.79 475.73Z" fill="#0000ff"/><path d="M490.81 473.97L492.61 477.54L489.01 477.54Z" fill="#0000ff"/><path d="M494.02 476.16L495.82 479.73L492.22 479.73Z" fill="#0000ff"/><path d="M497.23 478.31L499.03 481.87L495.43 481.87Z" fill="#0000ff"/><path d="M500.45 480.28L502.25 483.84L498.65 483.84Z" fill="#0000ff"/><path d="M503.66 481.91L505.46 485.48L501.86 485.48Z" fill="#0000ff"/><path d="M506.87 483.43L508.67 487.00L505.07 487.00Z" fill="#0000ff"/><path d="M510.08 485.03L511.88 488.59L508.28 488.59Z" fill="#0000ff"/><path d="M513.30 486.50L515.10 490.06L511.50 490.06Z" fill="#0000ff"/><path d="M516.51 487.75L518.31 491.31L514.71 491.31Z" fill="#0000ff"/><path d="M519.72 488.78L521.52 492.34L517.92 492.34Z" fill="#0000ff"/><path d="M522.94 489.56L524.74 493.13L521.14 493.13Z" fill="#0000ff"/><path d="M526.15 490.18L527.95 493.74L524.35 493.74Z" fill="#0000ff"/><path d="M529.36 490.68L531.16 494.24L527.56 494.24Z" fill="#0000ff"/><path d="M532.57 491.10L534.37 494.66L530.77 494.66Z" fill="#0000ff"/><path d="M535.79 491.40L537.59 494.97L533.99 494.97Z" fill="#0000ff"/><path d="M314.10 464.87 L317.31 455.82 L320.53 454.41 L323.74 453.90 L326.95 453.62 L330.16 453.58 L333.38 453.65 L336.59 453.78 L339.80 453.95 L343.02 454.12 L346.23 454.29 L349.44 454.44 L352.65 454.58 L355.87 454.72 L359.08 454.87 L362.29 455.03 L365.51 455.21 L368.72 455.41 L371.93 455.64 L375.14 455.90 L378.36 456.20 L381.57 456.66 L384.78 457.33 L388.00 458.12 L391.21 458.94 L394.42 459.70 L397.63 460.43 L400.85 461.18 L404.06 461.92 L407.27 462.61 L410.49 463.21 L413.70 463.71 L416.91 464.17 L420.12 464.59 L423.34 464.99 L426.55 465.40 L429.76 465.80 L432.98 466.19 L436.19 466.58 L439.40 466.95 L442.61 467.32 L445.83 467.69 L449.04 468.04 L452.25 468.39 L455.47 468.73 L458.68 469.08 L461.89 469.39 L465.10 469.69 L468.32 469.99 L471.53 470.33 L474.74 470.74 L477.96 471.25 L481.17 471.90 L484.38 472.76 L487.59 474.11 L490.81 475.91 L494.02 478.10 L497.23 480.24 L500.45 482.22 L503.66 483.85 L506.87 485.37 L510.08 486.96 L513.30 488.44 L516.51 489.68 L519.72 490.71 L522.94 491.50 L526.15 492.12 L529.36 492.61 L532.57 493.04 L535.79 493.34" fill="none" stroke="#008080" stroke-width="1.0"/><path d="M314.10 467.07L315.90 463.51L312.30 463.51Z" fill="#008080"/><path d="M317.31 458.02L319.11 454.45L315.51 454.45Z" fill="#008080"/><path d="M320.53 456.61L322.33 453.04L318.73 453.04Z" fill="#008080"/><path d="M323.74 456.10L325.54 452.53L321.94 452.53Z" fill="#008080"/><path d="M326.95 455.82L328.75 452.25L325.15 452.25Z" fill="#008080"/><path d="M330.16 455.78L331.96 452.21L328.36 452.21Z" fill="#008080"/><path d="M333.38 455.85L335.18 452.29L331.58 452.29Z" fill="#008080"/><path d="M336.59 455.98L338.39 452.42L334.79 452.42Z" fill="#008080"/><path d="M339.80 456.15L341.60 452.58L338.00 452.58Z" fill="#008080"/><path d="M343.02 456.32L344.82 452.76L341.22 452.76Z" fill="#008080"/><path d="M346.23 456.49L348.03 452.92L344.43 452.92Z" fill="#008080"/><path d="M349.44 456.64L351.24 453.07L347.64 453.07Z" fill="#008080"/><path d="M352.65 456.78L354.45 453.21L350.85 453.21Z" fill="#008080"/><path d="M355.87 456.92L357.67 453.36L354.07 453.36Z" fill="#008080"/><path d="M359.08 457.07L360.88 453.51L357.28 453.51Z" fill="#008080"/><path d="M362.29 457.23L364.09 453.67L360.49 453.67Z" fill="#008080"/><path d="M365.51 457.41L367.31 453.85L363.71 453.85Z" fill="#008080"/><path d="M368.72 457.61L370.52 454.05L366.92 454.05Z" fill="#008080"/><path d="M371.93 457.84L373.73 454.27L370.13 454.27Z" fill="#008080"/><path d="M375.14 458.10L376.94 454.54L373.34 454.54Z" fill="#008080"/><path d="M378.36 458.40L380.16 454.84L376.56 454.84Z" fill="#008080"/><path d="M381.57 458.86L383.37 455.29L379.77 455.29Z" fill="#008080"/><path d="M384.78 459.53L386.58 455.96L382.98 455.96Z" fill="#008080"/><path d="M388.00 460.32L389.80 456.76L386.20 456.76Z" fill="#008080"/><path d="M391.21 461.14L393.01 457.58L389.41 457.58Z" fill="#008080"/><path d="M394.42 461.90L396.22 458.34L392.62 458.34Z" fill="#008080"/><path d="M397.63 462.63L399.43 459.07L395.83 459.07Z" fill="#008080"/><path d="M400.85 463.38L402.65 459.82L399.05 459.82Z" fill="#008080"/><path d="M404.06 464.12L405.86 460.56L402.26 460.56Z" fill="#008080"/><path d="M407.27 464.81L409.07 461.25L405.47 461.25Z" fill="#008080"/><path d="M410.49 465.41L412.29 461.84L408.69 461.84Z" fill="#008080"/><path d="M413.70 465.91L415.50 462.35L411.90 462.35Z" fill="#008080"/><path d="M416.91 466.37L418.71 462.81L415.11 462.81Z" fill="#008080"/><path d="M420.12 466.79L421.92 463.23L418.32 463.23Z" fill="#008080"/><path d="M423.34 467.19L425.14 463.63L421.54 463.63Z" fill="#008080"/><path d="M426.55 467.60L428.35 464.03L424.75 464.03Z" fill="#008080"/><path d="M429.76 468.00L431.56 464.44L427.96 464.44Z" fill="#008080"/><path d="M432.98 468.39L434.78 464.83L431.18 464.83Z" fill="#008080"/><path d="M436.19 468.78L437.99 465.21L434.39 465.21Z" fill="#008080"/><path d="M439.40 469.15L441.20 465.59L437.60 465.59Z" fill="#008080"/><path d="M442.61 469.52L444.41 465.96L440.81 465.96Z" fill="#008080"/><path d="M445.83 469.89L447.63 466.32L444.03 466.32Z" fill="#008080"/><path d="M449.04 470.24L450.84 466.68L447.24 466.68Z" fill="#008080"/><path d="M452.25 470.59L454.05 467.03L450.45 467.03Z" fill="#008080"/><path d="M455.47 470.93L457.27 467.37L453.67 467.37Z" fill="#008080"/><path d="M458.68 471.28L460.48 467.71L456.88 467.71Z" fill="#008080"/><path d="M461.89 471.59L463.69 468.03L460.09 468.03Z" fill="#008080"/><path d="M465.10 471.89L466.90 468.32L463.30 468.32Z" fill="#008080"/><path d="M468.32 472.19L470.12 468.63L466.52 468.63Z" fill="#008080"/><path d="M471.53 472.53L473.33 468.97L469.73 468.97Z" fill="#008080"/><path d="M474.74 472.94L476.54 469.38L472.94 469.38Z" fill="#008080"/><path d="M477.96 473.45L479.76 469.89L476.16 469.89Z" fill="#008080"/><path d="M481.17 474.10L482.97 470.54L479.37 470.54Z" fill="#008080"/><path d="M484.38 474.96L486.18 471.39L482.58 471.39Z" fill="#008080"/><path d="M487.59 476.31L489.39 472.74L485.79 472.74Z" fill="#008080"/><path d="M490.81 478.11L492.61 474.55L489.01 474.55Z" fill="#008080"/><path d="M494.02 480.30L495.82 476.74L492.22 476.74Z" fill="#008080"/><path d="M497.23 482.44L499.03 478.88L495.43 478.88Z" fill="#008080"/><path d="M500.45 484.42L502.25 480.85L498.65 480.85Z" fill="#008080"/><path d="M503.66 486.05L505.46 482.49L501.86 482.49Z" fill="#008080"/><path d="M506.87 487.57L508.67 484.01L505.07 484.01Z" fill="#008080"/><path d="M510.08 489.16L511.88 485.60L508.28 485.60Z" fill="#008080"/><path d="M513.30 490.64L515.10 487.07L511.50 487.07Z" fill="#008080"/><path d="M516.51 491.88L518.31 488.32L514.71 488.32Z" fill="#008080"/><path d="M519.72 492.91L521.52 489.35L517.92 489.35Z" fill="#008080"/><path d="M522.94 493.70L524.74 490.14L521.14 490.14Z" fill="#008080"/><path d="M526.15 494.32L527.95 490.75L524.35 490.75Z" fill="#008080"/><path d="M529.36 494.81L531.16 491.25L527.56 491.25Z" fill="#008080"/><path d="M532.57 495.24L534.37 491.67L530.77 491.67Z" fill="#008080"/><path d="M535.79 495.54L537.59 491.98L533.99 491.98Z" fill="#008080"/><path d="M314.10 464.61 L317.31 455.56 L320.53 454.14 L323.74 453.63 L326.95 453.36 L330.16 453.32 L333.38 453.39 L336.59 453.52 L339.80 453.68 L343.02 453.86 L346.23 454.02 L349.44 454.17 L352.65 454.32 L355.87 454.46 L359.08 454.61 L362.29 454.77 L365.51 454.95 L368.72 455.15 L371.93 455.38 L375.14 455.64 L378.36 455.94 L381.57 456.39 L384.78 457.06 L388.00 457.86 L391.21 458.68 L394.42 459.44 L397.63 460.17 L400.85 460.92 L404.06 461.66 L407.27 462.35 L410.49 462.94 L413.70 463.45 L416.91 463.91 L420.12 464.33 L423.34 464.73 L426.55 465.13 L429.76 465.54 L432.98 465.93 L436.19 466.32 L439.40 466.69 L442.61 467.06 L445.83 467.42 L449.04 467.78 L452.25 468.13 L455.47 468.47 L458.68 468.81 L461.89 469.13 L465.10 469.43 L468.32 469.73 L471.53 470.07 L474.74 470.48 L477.96 470.99 L481.17 471.64 L484.38 472.49 L487.59 473.84 L490.81 475.65 L494.02 477.84 L497.23 479.98 L500.45 481.95 L503.66 483.59 L506.87 485.11 L510.08 486.70 L513.30 488.17 L516.51 489.42 L519.72 490.45 L522.94 491.24 L526.15 491.85 L529.36 492.35 L532.57 492.77 L535.79 493.08" fill="none" stroke="#00ffff" stroke-width="1.0"/><path d="M314.10 462.61L316.10 464.61L314.10 466.61L312.10 464.61Z" fill="#00ffff"/><path d="M317.31 453.56L319.31 455.56L317.31 457.56L315.31 455.56Z" fill="#00ffff"/><path d="M320.53 452.14L322.53 454.14L320.53 456.14L318.53 454.14Z" fill="#00ffff"/><path d="M323.74 451.63L325.74 453.63L323.74 455.63L321.74 453.63Z" fill="#00ffff"/><path d="M326.95 451.36L328.95 453.36L326.95 455.36L324.95 453.36Z" fill="#00ffff"/><path d="M330.16 451.32L332.16 453.32L330.16 455.32L328.16 453.32Z" fill="#00ffff"/><path d="M333.38 451.39L335.38 453.39L333.38 455.39L331.38 453.39Z" fill="#00ffff"/><path d="M336.59 451.52L338.59 453.52L336.59 455.52L334.59 453.52Z" fill="#00ffff"/><path d="M339.80 451.68L341.80 453.68L339.80 455.68L337.80 453.68Z" fill="#00ffff"/><path d="M343.02 451.86L345.02 453.86L343.02 455.86L341.02 453.86Z" fill="#00ffff"/><path d="M346.23 452.02L348.23 454.02L346.23 456.02L344.23 454.02Z" fill="#00ffff"/><path d="M349.44 452.17L351.44 454.17L349.44 456.17L347.44 454.17Z" fill="#00ffff"/><path d="M352.65 452.32L354.65 454.32L352.65 456.32L350.65 454.32Z" fill="#00ffff"/><path d="M355.87 452.46L357.87 454.46L355.87 456.46L353.87 454.46Z" fill="#00ffff"/><path d="M359.08 452.61L361.08 454.61L359.08 456.61L357.08 454.61Z" fill="#00ffff"/><path d="M362.29 452.77L364.29 454.77L362.29 456.77L360.29 454.77Z" fill="#00ffff"/><path d="M365.51 452.95L367.51 454.95L365.51 456.95L363.51 454.95Z" fill="#00ffff"/><path d="M368.72 453.15L370.72 455.15L368.72 457.15L366.72 455.15Z" fill="#00ffff"/><path d="M371.93 453.38L373.93 455.38L371.93 457.38L369.93 455.38Z" fill="#00ffff"/><path d="M375.14 453.64L377.14 455.64L375.14 457.64L373.14 455.64Z" fill="#00ffff"/><path d="M378.36 453.94L380.36 455.94L378.36 457.94L376.36 455.94Z" fill="#00ffff"/><path d="M381.57 454.39L383.57 456.39L381.57 458.39L379.57 456.39Z" fill="#00ffff"/><path d="M384.78 455.06L386.78 457.06L384.78 459.06L382.78 457.06Z" fill="#00ffff"/><path d="M388.00 455.86L390.00 457.86L388.00 459.86L386.00 457.86Z" fill="#00ffff"/><path d="M391.21 456.68L393.21 458.68L391.21 460.68L389.21 458.68Z" fill="#00ffff"/><path d="M394.42 457.44L396.42 459.44L394.42 461.44L392.42 459.44Z" fill="#00ffff"/><path d="M397.63 458.17L399.63 460.17L397.63 462.17L395.63 460.17Z" fill="#00ffff"/><path d="M400.85 458.92L402.85 460.92L400.85 462.92L398.85 460.92Z" fill="#00ffff"/><path d="M404.06 459.66L406.06 461.66L404.06 463.66L402.06 461.66Z" fill="#00ffff"/><path d="M407.27 460.35L409.27 462.35L407.27 464.35L405.27 462.35Z" fill="#00ffff"/><path d="M410.49 460.94L412.49 462.94L410.49 464.94L408.49 462.94Z" fill="#00ffff"/><path d="M413.70 461.45L415.70 463.45L413.70 465.45L411.70 463.45Z" fill="#00ffff"/><path d="M416.91 461.91L418.91 463.91L416.91 465.91L414.91 463.91Z" fill="#00ffff"/><path d="M420.12 462.33L422.12 464.33L420.12 466.33L418.12 464.33Z" fill="#00ffff"/><path d="M423.34 462.73L425.34 464.73L423.34 466.73L421.34 464.73Z" fill="#00ffff"/><path d="M426.55 463.13L428.55 465.13L426.55 467.13L424.55 465.13Z" fill="#00ffff"/><path d="M429.76 463.54L431.76 465.54L429.76 467.54L427.76 465.54Z" fill="#00ffff"/><path d="M432.98 463.93L434.98 465.93L432.98 467.93L430.98 465.93Z" fill="#00ffff"/><path d="M436.19 464.32L438.19 466.32L436.19 468.32L434.19 466.32Z" fill="#00ffff"/><path d="M439.40 464.69L441.40 466.69L439.40 468.69L437.40 466.69Z" fill="#00ffff"/><path d="M442.61 465.06L444.61 467.06L442.61 469.06L440.61 467.06Z" fill="#00ffff"/><path d="M445.83 465.42L447.83 467.42L445.83 469.42L443.83 467.42Z" fill="#00ffff"/><path d="M449.04 465.78L451.04 467.78L449.04 469.78L447.04 467.78Z" fill="#00ffff"/><path d="M452.25 466.13L454.25 468.13L452.25 470.13L450.25 468.13Z" fill="#00ffff"/><path d="M455.47 466.47L457.47 468.47L455.47 470.47L453.47 468.47Z" fill="#00ffff"/><path d="M458.68 466.81L460.68 468.81L458.68 470.81L456.68 468.81Z" fill="#00ffff"/><path d="M461.89 467.13L463.89 469.13L461.89 471.13L459.89 469.13Z" fill="#00ffff"/><path d="M465.10 467.43L467.10 469.43L465.10 471.43L463.10 469.43Z" fill="#00ffff"/><path d="M468.32 467.73L470.32 469.73L468.32 471.73L466.32 469.73Z" fill="#00ffff"/><path d="M471.53 468.07L473.53 470.07L471.53 472.07L469.53 470.07Z" fill="#00ffff"/><path d="M474.74 468.48L476.74 470.48L474.74 472.48L472.74 470.48Z" fill="#00ffff"/><path d="M477.96 468.99L479.96 470.99L477.96 472.99L475.96 470.99Z" fill="#00ffff"/><path d="M481.17 469.64L483.17 471.64L481.17 473.64L479.17 471.64Z" fill="#00ffff"/><path d="M484.38 470.49L486.38 472.49L484.38 474.49L482.38 472.49Z" fill="#00ffff"/><path d="M487.59 471.84L489.59 473.84L487.59 475.84L485.59 473.84Z" fill="#00ffff"/><path d="M490.81 473.65L492.81 475.65L490.81 477.65L488.81 475.65Z" fill="#00ffff"/><path d="M494.02 475.84L496.02 477.84L494.02 479.84L492.02 477.84Z" fill="#00ffff"/><path d="M497.23 477.98L499.23 479.98L497.23 481.98L495.23 479.98Z" fill="#00ffff"/><path d="M500.45 479.95L502.45 481.95L500.45 483.95L498.45 481.95Z" fill="#00ffff"/><path d="M503.66 481.59L505.66 483.59L503.66 485.59L501.66 483.59Z" fill="#00ffff"/><path d="M506.87 483.11L508.87 485.11L506.87 487.11L504.87 485.11Z" fill="#00ffff"/><path d="M510.08 484.70L512.08 486.70L510.08 488.70L508.08 486.70Z" fill="#00ffff"/><path d="M513.30 486.17L515.30 488.17L513.30 490.17L511.30 488.17Z" fill="#00ffff"/><path d="M516.51 487.42L518.51 489.42L516.51 491.42L514.51 489.42Z" fill="#00ffff"/><path d="M519.72 488.45L521.72 490.45L519.72 492.45L517.72 490.45Z" fill="#00ffff"/><path d="M522.94 489.24L524.94 491.24L522.94 493.24L520.94 491.24Z" fill="#00ffff"/><path d="M526.15 489.85L528.15 491.85L526.15 493.85L524.15 491.85Z" fill="#00ffff"/><path d="M529.36 490.35L531.36 492.35L529.36 494.35L527.36 492.35Z" fill="#00ffff"/><path d="M532.57 490.77L534.57 492.77L532.57 494.77L530.57 492.77Z" fill="#00ffff"/><path d="M535.79 491.08L537.79 493.08L535.79 495.08L533.79 493.08Z" fill="#00ffff"/><path d="M314.10 463.73 L317.31 454.68 L320.53 453.27 L323.74 452.76 L326.95 452.48 L330.16 452.44 L333.38 452.51 L336.59 452.64 L339.80 452.81 L343.02 452.98 L346.23 453.15 L349.44 453.30 L352.65 453.44 L355.87 453.58 L359.08 453.73 L362.29 453.89 L365.51 454.07 L368.72 454.27 L371.93 454.50 L375.14 454.76 L378.36 455.06 L381.57 455.52 L384.78 456.19 L388.00 456.98 L391.21 457.80 L394.42 458.56 L397.63 459.29 L400.85 460.04 L404.06 460.78 L407.27 461.47 L410.49 462.07 L413.70 462.58 L416.91 463.03 L420.12 463.45 L423.34 463.85 L426.55 464.26 L429.76 464.66 L432.98 465.06 L436.19 465.44 L439.40 465.82 L442.61 466.19 L445.83 466.55 L449.04 466.90 L452.25 467.25 L455.47 467.60 L458.68 467.94 L461.89 468.26 L465.10 468.55 L468.32 468.85 L471.53 469.19 L474.74 469.60 L477.96 470.11 L481.17 470.77 L484.38 471.62 L487.59 472.97 L490.81 474.77 L494.02 476.96 L497.23 479.10 L500.45 481.08 L503.66 482.71 L506.87 484.23 L510.08 485.83 L513.30 487.30 L516.51 488.55 L519.72 489.57 L522.94 490.36 L526.15 490.98 L529.36 491.48 L532.57 491.90 L535.79 492.20" fill="none" stroke="#ff00ff" stroke-width="1.0"/><path d="M312.10 463.73L315.70 461.73L315.70 465.73Z" fill="#ff00ff"/><path d="M315.31 454.68L318.91 452.68L318.91 456.68Z" fill="#ff00ff"/><path d="M318.53 453.27L322.13 451.27L322.13 455.27Z" fill="#ff00ff"/><path d="M321.74 452.76L325.34 450.76L325.34 454.76Z" fill="#ff00ff"/><path d="M324.95 452.48L328.55 450.48L328.55 454.48Z" fill="#ff00ff"/><path d="M328.16 452.44L331.76 450.44L331.76 454.44Z" fill="#ff00ff"/><path d="M331.38 452.51L334.98 450.51L334.98 454.51Z" fill="#ff00ff"/><path d="M334.59 452.64L338.19 450.64L338.19 454.64Z" fill="#ff00ff"/><path d="M337.80 452.81L341.40 450.81L341.40 454.81Z" fill="#ff00ff"/><path d="M341.02 452.98L344.62 450.98L344.62 454.98Z" fill="#ff00ff"/><path d="M344.23 453.15L347.83 451.15L347.83 455.15Z" fill="#ff00ff"/><path d="M347.44 453.30L351.04 451.30L351.04 455.30Z" fill="#ff00ff"/><path d="M350.65 453.44L354.25 451.44L354.25 455.44Z" fill="#ff00ff"/><path d="M353.87 453.58L357.47 451.58L357.47 455.58Z" fill="#ff00ff"/><path d="M357.08 453.73L360.68 451.73L360.68 455.73Z" fill="#ff00ff"/><path d="M360.29 453.89L363.89 451.89L363.89 455.89Z" fill="#ff00ff"/><path d="M363.51 454.07L367.11 452.07L367.11 456.07Z" fill="#ff00ff"/><path d="M366.72 454.27L370.32 452.27L370.32 456.27Z" fill="#ff00ff"/><path d="M369.93 454.50L373.53 452.50L373.53 456.50Z" fill="#ff00ff"/><path d="M373.14 454.76L376.74 452.76L376.74 456.76Z" fill="#ff00ff"/><path d="M376.36 455.06L379.96 453.06L379.96 457.06Z" fill="#ff00ff"/><path d="M379.57 455.52L383.17 453.52L383.17 457.52Z" fill="#ff00ff"/><path d="M382.78 456.19L386.38 454.19L386.38 458.19Z" fill="#ff00ff"/><path d="M386.00 456.98L389.60 454.98L389.60 458.98Z" fill="#ff00ff"/><path d="M389.21 457.80L392.81 455.80L392.81 459.80Z" fill="#ff00ff"/><path d="M392.42 458.56L396.02 456.56L396.02 460.56Z" fill="#ff00ff"/><path d="M395.63 459.29L399.23 457.29L399.23 461.29Z" fill="#ff00ff"/><path d="M398.85 460.04L402.45 458.04L402.45 462.04Z" fill="#ff00ff"/><path d="M402.06 460.78L405.66 458.78L405.66 462.78Z" fill="#ff00ff"/><path d="M405.27 461.47L408.87 459.47L408.87 463.47Z" fill="#ff00ff"/><path d="M408.49 462.07L412.09 460.07L412.09 464.07Z" fill="#ff00ff"/><path d="M411.70 462.58L415.30 460.58L415.30 464.58Z" fill="#ff00ff"/><path d="M414.91 463.03L418.51 461.03L418.51 465.03Z" fill="#ff00ff"/><path d="M418.12 463.45L421.72 461.45L421.72 465.45Z" fill="#ff00ff"/><path d="M421.34 463.85L424.94 461.85L424.94 465.85Z" fill="#ff00ff"/><path d="M424.55 464.26L428.15 462.26L428.15 466.26Z" fill="#ff00ff"/><path d="M427.76 464.66L431.36 462.66L431.36 466.66Z" fill="#ff00ff"/><path d="M430.98 465.06L434.58 463.06L434.58 467.06Z" fill="#ff00ff"/><path d="M434.19 465.44L437.79 463.44L437.79 467.44Z" fill="#ff00ff"/><path d="M437.40 465.82L441.00 463.82L441.00 467.82Z" fill="#ff00ff"/><path d="M440.61 466.19L444.21 464.19L444.21 468.19Z" fill="#ff00ff"/><path d="M443.83 466.55L447.43 464.55L447.43 468.55Z" fill="#ff00ff"/><path d="M447.04 466.90L450.64 464.90L450.64 468.90Z" fill="#ff00ff"/><path d="M450.25 467.25L453.85 465.25L453.85 469.25Z" fill="#ff00ff"/><path d="M453.47 467.60L457.07 465.60L457.07 469.60Z" fill="#ff00ff"/><path d="M456.68 467.94L460.28 465.94L460.28 469.94Z" fill="#ff00ff"/><path d="M459.89 468.26L463.49 466.26L463.49 470.26Z" fill="#ff00ff"/><path d="M463.10 468.55L466.70 466.55L466.70 470.55Z" fill="#ff00ff"/><path d="M466.32 468.85L469.92 466.85L469.92 470.85Z" fill="#ff00ff"/><path d="M469.53 469.19L473.13 467.19L473.13 471.19Z" fill="#ff00ff"/><path d="M472.74 469.60L476.34 467.60L476.34 471.60Z" fill="#ff00ff"/><path d="M475.96 470.11L479.56 468.11L479.56 472.11Z" fill="#ff00ff"/><path d="M479.17 470.77L482.77 468.77L482.77 472.77Z" fill="#ff00ff"/><path d="M482.38 471.62L485.98 469.62L485.98 473.62Z" fill="#ff00ff"/><path d="M485.59 472.97L489.19 470.97L489.19 474.97Z" fill="#ff00ff"/><path d="M488.81 474.77L492.41 472.77L492.41 476.77Z" fill="#ff00ff"/><path d="M492.02 476.96L495.62 474.96L495.62 478.96Z" fill="#ff00ff"/><path d="M495.23 479.10L498.83 477.10L498.83 481.10Z" fill="#ff00ff"/><path d="M498.45 481.08L502.05 479.08L502.05 483.08Z" fill="#ff00ff"/><path d="M501.66 482.71L505.26 480.71L505.26 484.71Z" fill="#ff00ff"/><path d="M504.87 484.23L508.47 482.23L508.47 486.23Z" fill="#ff00ff"/><path d="M508.08 485.83L511.68 483.83L511.68 487.83Z" fill="#ff00ff"/><path d="M511.30 487.30L514.90 485.30L514.90 489.30Z" fill="#ff00ff"/><path d="M514.51 488.55L518.11 486.55L518.11 490.55Z" fill="#ff00ff"/><path d="M517.72 489.57L521.32 487.57L521.32 491.57Z" fill="#ff00ff"/><path d="M520.94 490.36L524.54 488.36L524.54 492.36Z" fill="#ff00ff"/><path d="M524.15 490.98L527.75 488.98L527.75 492.98Z" fill="#ff00ff"/><path d="M527.36 491.48L530.96 489.48L530.96 493.48Z" fill="#ff00ff"/><path d="M530.57 491.90L534.17 489.90L534.17 493.90Z" fill="#ff00ff"/><path d="M533.79 492.20L537.39 490.20L537.39 494.20Z" fill="#ff00ff"/><path d="M314.10 462.51 L317.31 453.45 L320.53 452.04 L323.74 451.53 L326.95 451.25 L330.16 451.21 L333.38 451.29 L336.59 451.42 L339.80 451.58 L343.02 451.76 L346.23 451.92 L349.44 452.07 L352.65 452.21 L355.87 452.36 L359.08 452.51 L362.29 452.67 L365.51 452.85 L368.72 453.05 L371.93 453.27 L375.14 453.53 L378.36 453.83 L381.57 454.29 L384.78 454.96 L388.00 455.75 L391.21 456.58 L394.42 457.34 L397.63 458.06 L400.85 458.82 L404.06 459.56 L407.27 460.24 L410.49 460.84 L413.70 461.35 L416.91 461.80 L420.12 462.22 L423.34 462.63 L426.55 463.03 L429.76 463.44 L432.98 463.83 L436.19 464.21 L439.40 464.59 L442.61 464.96 L445.83 465.32 L449.04 465.68 L452.25 466.02 L455.47 466.37 L458.68 466.71 L461.89 467.03 L465.10 467.32 L468.32 467.62 L471.53 467.96 L474.74 468.38 L477.96 468.89 L481.17 469.54 L484.38 470.39 L487.59 471.74 L490.81 473.54 L494.02 475.73 L497.23 477.88 L500.45 479.85 L503.66 481.49 L506.87 483.00 L510.08 484.60 L513.30 486.07 L516.51 487.32 L519.72 488.35 L522.94 489.13 L526.15 489.75 L529.36 490.25 L532.57 490.67 L535.79 490.98" fill="none" stroke="#ffff00" stroke-width="1.0"/><path d="M316.10 462.51L312.50 460.51L312.50 464.51Z" fill="#ffff00"/><path d="M319.31 453.45L315.71 451.45L315.71 455.45Z" fill="#ffff00"/><path d="M322.53 452.04L318.93 450.04L318.93 454.04Z" fill="#ffff00"/><path d="M325.74 451.53L322.14 449.53L322.14 453.53Z" fill="#ffff00"/><path d="M328.95 451.25L325.35 449.25L325.35 453.25Z" fill="#ffff00"/><path d="M332.16 451.21L328.56 449.21L328.56 453.21Z" fill="#ffff00"/><path d="M335.38 451.29L331.78 449.29L331.78 453.29Z" fill="#ffff00"/><path d="M338.59 451.42L334.99 449.42L334.99 453.42Z" fill="#ffff00"/><path d="M341.80 451.58L338.20 449.58L338.20 453.58Z" fill="#ffff00"/><path d="M345.02 451.76L341.42 449.76L341.42 453.76Z" fill="#ffff00"/><path d="M348.23 451.92L344.63 449.92L344.63 453.92Z" fill="#ffff00"/><path d="M351.44 452.07L347.84 450.07L347.84 454.07Z" fill="#ffff00"/><path d="M354.65 452.21L351.05 450.21L351.05 454.21Z" fill="#ffff00"/><path d="M357.87 452.36L354.27 450.36L354.27 454.36Z" fill="#ffff00"/><path d="M361.08 452.51L357.48 450.51L357.48 454.51Z" fill="#ffff00"/><path d="M364.29 452.67L360.69 450.67L360.69 454.67Z" fill="#ffff00"/><path d="M367.51 452.85L363.91 450.85L363.91 454.85Z" fill="#ffff00"/><path d="M370.72 453.05L367.12 451.05L367.12 455.05Z" fill="#ffff00"/><path d="M373.93 453.27L370.33 451.27L370.33 455.27Z" fill="#ffff00"/><path d="M377.14 453.53L373.54 451.53L373.54 455.53Z" fill="#ffff00"/><path d="M380.36 453.83L376.76 451.83L376.76 455.83Z" fill="#ffff00"/><path d="M383.57 454.29L379.97 452.29L379.97 456.29Z" fill="#ffff00"/><path d="M386.78 454.96L383.18 452.96L383.18 456.96Z" fill="#ffff00"/><path d="M390.00 455.75L386.40 453.75L386.40 457.75Z" fill="#ffff00"/><path d="M393.21 456.58L389.61 454.58L389.61 458.58Z" fill="#ffff00"/><path d="M396.42 457.34L392.82 455.34L392.82 459.34Z" fill="#ffff00"/><path d="M399.63 458.06L396.03 456.06L396.03 460.06Z" fill="#ffff00"/><path d="M402.85 458.82L399.25 456.82L399.25 460.82Z" fill="#ffff00"/><path d="M406.06 459.56L402.46 457.56L402.46 461.56Z" fill="#ffff00"/><path d="M409.27 460.24L405.67 458.24L405.67 462.24Z" fill="#ffff00"/><path d="M412.49 460.84L408.89 458.84L408.89 462.84Z" fill="#ffff00"/><path d="M415.70 461.35L412.10 459.35L412.10 463.35Z" fill="#ffff00"/><path d="M418.91 461.80L415.31 459.80L415.31 463.80Z" fill="#ffff00"/><path d="M422.12 462.22L418.52 460.22L418.52 464.22Z" fill="#ffff00"/><path d="M425.34 462.63L421.74 460.63L421.74 464.63Z" fill="#ffff00"/><path d="M428.55 463.03L424.95 461.03L424.95 465.03Z" fill="#ffff00"/><path d="M431.76 463.44L428.16 461.44L428.16 465.44Z" fill="#ffff00"/><path d="M434.98 463.83L431.38 461.83L431.38 465.83Z" fill="#ffff00"/><path d="M438.19 464.21L434.59 462.21L434.59 466.21Z" fill="#ffff00"/><path d="M441.40 464.59L437.80 462.59L437.80 466.59Z" fill="#ffff00"/><path d="M444.61 464.96L441.01 462.96L441.01 466.96Z" fill="#ffff00"/><path d="M447.83 465.32L444.23 463.32L444.23 467.32Z" fill="#ffff00"/><path d="M451.04 465.68L447.44 463.68L447.44 467.68Z" fill="#ffff00"/><path d="M454.25 466.02L450.65 464.02L450.65 468.02Z" fill="#ffff00"/><path d="M457.47 466.37L453.87 464.37L453.87 468.37Z" fill="#ffff00"/><path d="M460.68 466.71L457.08 464.71L457.08 468.71Z" fill="#ffff00"/><path d="M463.89 467.03L460.29 465.03L460.29 469.03Z" fill="#ffff00"/><path d="M467.10 467.32L463.50 465.32L463.50 469.32Z" fill="#ffff00"/><path d="M470.32 467.62L466.72 465.62L466.72 469.62Z" fill="#ffff00"/><path d="M473.53 467.96L469.93 465.96L469.93 469.96Z" fill="#ffff00"/><path d="M476.74 468.38L473.14 466.38L473.14 470.38Z" fill="#ffff00"/><path d="M479.96 468.89L476.36 466.89L476.36 470.89Z" fill="#ffff00"/><path d="M483.17 469.54L479.57 467.54L479.57 471.54Z" fill="#ffff00"/><path d="M486.38 470.39L482.78 468.39L482.78 472.39Z" fill="#ffff00"/><path d="M489.59 471.74L485.99 469.74L485.99 473.74Z" fill="#ffff00"/><path d="M492.81 473.54L489.21 471.54L489.21 475.54Z" fill="#ffff00"/><path d="M496.02 475.73L492.42 473.73L492.42 477.73Z" fill="#ffff00"/><path d="M499.23 477.88L495.63 475.88L495.63 479.88Z" fill="#ffff00"/><path d="M502.45 479.85L498.85 477.85L498.85 481.85Z" fill="#ffff00"/><path d="M505.66 481.49L502.06 479.49L502.06 483.49Z" fill="#ffff00"/><path d="M508.87 483.00L505.27 481.00L505.27 485.00Z" fill="#ffff00"/><path d="M512.08 484.60L508.48 482.60L508.48 486.60Z" fill="#ffff00"/><path d="M515.30 486.07L511.70 484.07L511.70 488.07Z" fill="#ffff00"/><path d="M518.51 487.32L514.91 485.32L514.91 489.32Z" fill="#ffff00"/><path d="M521.72 488.35L518.12 486.35L518.12 490.35Z" fill="#ffff00"/><path d="M524.94 489.13L521.34 487.13L521.34 491.13Z" fill="#ffff00"/><path d="M528.15 489.75L524.55 487.75L524.55 491.75Z" fill="#ffff00"/><path d="M531.36 490.25L527.76 488.25L527.76 492.25Z" fill="#ffff00"/><path d="M534.57 490.67L530.97 488.67L530.97 492.67Z" fill="#ffff00"/><path d="M537.79 490.98L534.19 488.98L534.19 492.98Z" fill="#ffff00"/></g><clipPath id="clipf"><rect x="314.10" y="368.30" width="224.90" height="132.40"/></clipPath><path d="M314.10 500.70v-3.0M314.10 369.30v3.0M330.16 500.70v-1.8M330.16 369.30v1.8M346.23 500.70v-3.0M346.23 369.30v3.0M362.29 500.70v-1.8M362.29 369.30v1.8M378.36 500.70v-3.0M378.36 369.30v3.0M394.42 500.70v-1.8M394.42 369.30v1.8M410.49 500.70v-3.0M410.49 369.30v3.0M426.55 500.70v-1.8M426.55 369.30v1.8M442.61 500.70v-3.0M442.61 369.30v3.0M458.68 500.70v-1.8M458.68 369.30v1.8M474.74 500.70v-3.0M474.74 369.30v3.0M490.81 500.70v-1.8M490.81 369.30v1.8M506.87 500.70v-3.0M506.87 369.30v3.0M522.94 500.70v-1.8M522.94 369.30v1.8M539.00 500.70v-3.0M539.00 369.30v3.0M314.10 500.70h3.0M539.00 500.70h-3.0M314.10 487.56h1.8M539.00 487.56h-1.8M314.10 474.42h3.0M539.00 474.42h-3.0M314.10 461.28h1.8M539.00 461.28h-1.8M314.10 448.14h3.0M539.00 448.14h-3.0M314.10 435.00h1.8M539.00 435.00h-1.8M314.10 421.86h3.0M539.00 421.86h-3.0M314.10 408.72h1.8M539.00 408.72h-1.8M314.10 395.58h3.0M539.00 395.58h-3.0M314.10 382.44h1.8M539.00 382.44h-1.8M314.10 369.30h3.0M539.00 369.30h-3.0" stroke="#000" stroke-width="0.9" fill="none"/><rect x="314.10" y="369.30" width="224.90" height="131.40" fill="none" stroke="#000" stroke-width="1.3"/><g font-family='"Liberation Sans", Arial, sans-serif' font-size="7" fill="#000" stroke="#000" stroke-width="0.15"><text x="314.10" y="509.50" text-anchor="middle">0</text><text x="346.23" y="509.50" text-anchor="middle">10</text><text x="378.36" y="509.50" text-anchor="middle">20</text><text x="410.49" y="509.50" text-anchor="middle">30</text><text x="442.61" y="509.50" text-anchor="middle">40</text><text x="474.74" y="509.50" text-anchor="middle">50</text><text x="506.87" y="509.50" text-anchor="middle">60</text><text x="539.00" y="509.50" text-anchor="middle">70</text><text x="310.70" y="502.90" text-anchor="end">0</text><text x="310.70" y="476.62" text-anchor="end">300</text><text x="310.70" y="450.34" text-anchor="end">600</text><text x="310.70" y="424.06" text-anchor="end">900</text><text x="310.70" y="397.78" text-anchor="end">1200</text><text x="310.70" y="371.50" text-anchor="end">1500</text></g><text x="415.60" y="517.00" font-family='"Liberation Sans", Arial, sans-serif' font-weight="bold" font-size="8.5" textLength="21.6" lengthAdjust="spacingAndGlyphs" fill="#000">Delay</text><text transform="translate(294.30,440.35) rotate(-90)" x="0" y="0" text-anchor="middle" font-family='"Liberation Sans", Arial, sans-serif' font-weight="bold" font-size="8.4" textLength="90.9" lengthAdjust="spacingAndGlyphs" fill="#000">The number of packets</text><rect x="519.50" y="372.30" width="18.50" height="56.40" fill="#9a9a9a"/><rect x="518.50" y="371.30" width="18.50" height="56.40" fill="#fff" stroke="#555" stroke-width="0.6"/><line x1="519.20" y1="377.80" x2="528.80" y2="377.80" stroke="#000000" stroke-width="1.0"/><rect x="522.45" y="376.25" width="3.10" height="3.10" fill="#000000"/><text x="530.50" y="379.80" font-family='"Liberation Sans", Arial, sans-serif' font-style="italic" font-size="5.9" fill="#000" stroke="#000" stroke-width="0.05">Q<tspan font-size="3.8" dy="-2.3" stroke-width="0.05">1</tspan></text><line x1="519.20" y1="385.50" x2="528.80" y2="385.50" stroke="#ff0000" stroke-width="1.0"/><circle cx="524.00" cy="385.50" r="2.01" fill="#ff0000"/><text x="530.50" y="387.50" font-family='"Liberation Sans", Arial, sans-serif' font-style="italic" font-size="5.9" fill="#000" stroke="#000" stroke-width="0.05">Q<tspan font-size="3.8" dy="-2.3" stroke-width="0.05">2</tspan></text><line x1="519.20" y1="393.20" x2="528.80" y2="393.20" stroke="#0000ff" stroke-width="1.0" stroke-dasharray="1.6 2.2"/><path d="M524.00 390.67L526.07 394.77L521.93 394.77Z" fill="#0000ff"/><text x="530.50" y="395.20" font-family='"Liberation Sans", Arial, sans-serif' font-style="italic" font-size="5.9" fill="#000" stroke="#000" stroke-width="0.05">Q<tspan font-size="3.8" dy="-2.3" stroke-width="0.05">3</tspan></text><line x1="519.20" y1="400.90" x2="528.80" y2="400.90" stroke="#008080" stroke-width="1.0" stroke-dasharray="6 2.4 1 3"/><path d="M524.00 403.43L526.07 399.33L521.93 399.33Z" fill="#008080"/><text x="530.50" y="402.90" font-family='"Liberation Sans", Arial, sans-serif' font-style="italic" font-size="5.9" fill="#000" stroke="#000" stroke-width="0.05">Q<tspan font-size="3.8" dy="-2.3" stroke-width="0.05">4</tspan></text><line x1="519.20" y1="408.60" x2="528.80" y2="408.60" stroke="#00ffff" stroke-width="1.0"/><path d="M524.00 406.30L526.30 408.60L524.00 410.90L521.70 408.60Z" fill="#00ffff"/><text x="530.50" y="410.60" font-family='"Liberation Sans", Arial, sans-serif' font-style="italic" font-size="5.9" fill="#000" stroke="#000" stroke-width="0.05">Q<tspan font-size="3.8" dy="-2.3" stroke-width="0.05">5</tspan></text><line x1="519.20" y1="416.30" x2="528.80" y2="416.30" stroke="#ff00ff" stroke-width="1.0" stroke-dasharray="1.6 2.2"/><path d="M521.70 416.30L525.84 414.00L525.84 418.60Z" fill="#ff00ff"/><text x="530.50" y="418.30" font-family='"Liberation Sans", Arial, sans-serif' font-style="italic" font-size="5.9" fill="#000" stroke="#000" stroke-width="0.05">Q<tspan font-size="3.8" dy="-2.3" stroke-width="0.05">6</tspan></text><line x1="519.20" y1="424.00" x2="528.80" y2="424.00" stroke="#ffff00" stroke-width="1.0"/><path d="M526.30 424.00L522.16 421.70L522.16 426.30Z" fill="#ffff00"/><text x="530.50" y="426.00" font-family='"Liberation Sans", Arial, sans-serif' font-style="italic" font-size="5.9" fill="#000" stroke="#000" stroke-width="0.05">Q<tspan font-size="3.8" dy="-2.3" stroke-width="0.05">7</tspan></text><text x="92.34" y="178.50" font-family='"Liberation Serif", "Times New Roman", serif' font-size="13.50" text-rendering="geometricPrecision" textLength="14.05" lengthAdjust="spacingAndGlyphs" fill="#000">(<tspan font-weight="bold">a</tspan>)</text><text x="110.77" y="178.50" font-family='"Liberation Serif", "Times New Roman", serif' font-size="13.50" text-rendering="geometricPrecision" font-style="italic" textLength="8.34" lengthAdjust="spacingAndGlyphs" fill="#000">Q</text><text x="123.82" y="177.60" font-family='"Liberation Serif", "Times New Roman", serif' font-size="10.00" text-rendering="geometricPrecision" stroke="#000" stroke-width="0.12" textLength="6.81" lengthAdjust="spacingAndGlyphs" fill="#000">=</text><text x="132.45" y="178.50" font-family='"Liberation Serif", "Times New Roman", serif' font-size="13.50" text-rendering="geometricPrecision" textLength="10.25" lengthAdjust="spacingAndGlyphs" fill="#000">3,</text><text x="145.60" y="178.50" font-family='"Liberation Serif", "Times New Roman", serif' font-size="13.50" text-rendering="geometricPrecision" textLength="35.92" lengthAdjust="spacingAndGlyphs" fill="#000">DDAR</text><text x="368.56" y="176.50" font-family='"Liberation Serif", "Times New Roman", serif' font-size="13.50" text-rendering="geometricPrecision" textLength="15.51" lengthAdjust="spacingAndGlyphs" fill="#000">(<tspan font-weight="bold">b</tspan>)</text><text x="389.86" y="176.50" font-family='"Liberation Serif", "Times New Roman", serif' font-size="13.50" text-rendering="geometricPrecision" font-style="italic" textLength="7.71" lengthAdjust="spacingAndGlyphs" fill="#000">Q</text><text x="403.05" y="175.60" font-family='"Liberation Serif", "Times New Roman", serif' font-size="10.00" text-rendering="geometricPrecision" stroke="#000" stroke-width="0.12" textLength="6.65" lengthAdjust="spacingAndGlyphs" fill="#000">=</text><text x="413.00" y="176.50" font-family='"Liberation Serif", "Times New Roman", serif' font-size="13.50" text-rendering="geometricPrecision" textLength="9.24" lengthAdjust="spacingAndGlyphs" fill="#000">3,</text><text x="425.14" y="176.50" font-family='"Liberation Serif", "Times New Roman", serif' font-size="13.50" text-rendering="geometricPrecision" textLength="35.62" lengthAdjust="spacingAndGlyphs" fill="#000">CDAR</text><text x="92.62" y="358.70" font-family='"Liberation Serif", "Times New Roman", serif' font-size="13.50" text-rendering="geometricPrecision" textLength="13.94" lengthAdjust="spacingAndGlyphs" fill="#000">(<tspan font-weight="bold">c</tspan>)</text><text x="110.46" y="358.70" font-family='"Liberation Serif", "Times New Roman", serif' font-size="13.50" text-rendering="geometricPrecision" font-style="italic" textLength="8.26" lengthAdjust="spacingAndGlyphs" fill="#000">Q</text><text x="123.05" y="357.80" font-family='"Liberation Serif", "Times New Roman", serif' font-size="10.00" text-rendering="geometricPrecision" stroke="#000" stroke-width="0.12" textLength="7.19" lengthAdjust="spacingAndGlyphs" fill="#000">=</text><text x="132.07" y="358.70" font-family='"Liberation Serif", "Times New Roman", serif' font-size="13.50" text-rendering="geometricPrecision" textLength="10.79" lengthAdjust="spacingAndGlyphs" fill="#000">5,</text><text x="145.17" y="358.70" font-family='"Liberation Serif", "Times New Roman", serif' font-size="13.50" text-rendering="geometricPrecision" textLength="36.37" lengthAdjust="spacingAndGlyphs" fill="#000">DDAR</text><text x="369.56" y="358.50" font-family='"Liberation Serif", "Times New Roman", serif' font-size="13.50" text-rendering="geometricPrecision" textLength="15.51" lengthAdjust="spacingAndGlyphs" fill="#000">(<tspan font-weight="bold">d</tspan>)</text><text x="389.86" y="358.50" font-family='"Liberation Serif", "Times New Roman", serif' font-size="13.50" text-rendering="geometricPrecision" font-style="italic" textLength="7.71" lengthAdjust="spacingAndGlyphs" fill="#000">Q</text><text x="401.76" y="357.60" font-family='"Liberation Serif", "Times New Roman", serif' font-size="10.00" text-rendering="geometricPrecision" stroke="#000" stroke-width="0.12" textLength="7.95" lengthAdjust="spacingAndGlyphs" fill="#000">=</text><text x="411.78" y="358.50" font-family='"Liberation Serif", "Times New Roman", serif' font-size="13.50" text-rendering="geometricPrecision" textLength="9.33" lengthAdjust="spacingAndGlyphs" fill="#000">5,</text><text x="423.98" y="358.50" font-family='"Liberation Serif", "Times New Roman", serif' font-size="13.50" text-rendering="geometricPrecision" textLength="35.89" lengthAdjust="spacingAndGlyphs" fill="#000">CDAR</text><text x="104.49" y="537.50" font-family='"Liberation Serif", "Times New Roman", serif' font-size="13.50" text-rendering="geometricPrecision" textLength="14.71" lengthAdjust="spacingAndGlyphs" fill="#000">(<tspan font-weight="bold">e</tspan>)</text><text x="122.46" y="537.50" font-family='"Liberation Serif", "Times New Roman", serif' font-size="13.50" text-rendering="geometricPrecision" font-style="italic" textLength="8.09" lengthAdjust="spacingAndGlyphs" fill="#000">Q</text><text x="132.34" y="536.60" font-family='"Liberation Serif", "Times New Roman", serif' font-size="10.00" text-rendering="geometricPrecision" stroke="#000" stroke-width="0.12" textLength="7.34" lengthAdjust="spacingAndGlyphs" fill="#000">=</text><text x="141.97" y="537.50" font-family='"Liberation Serif", "Times New Roman", serif' font-size="13.50" text-rendering="geometricPrecision" textLength="9.84" lengthAdjust="spacingAndGlyphs" fill="#000">7,</text><text x="154.65" y="537.50" font-family='"Liberation Serif", "Times New Roman", serif' font-size="13.50" text-rendering="geometricPrecision" textLength="36.56" lengthAdjust="spacingAndGlyphs" fill="#000">DDAR</text><text x="381.87" y="537.50" font-family='"Liberation Serif", "Times New Roman", serif' font-size="13.50" text-rendering="geometricPrecision" textLength="12.63" lengthAdjust="spacingAndGlyphs" fill="#000">(<tspan font-weight="bold">f</tspan>)</text><text x="398.86" y="537.50" font-family='"Liberation Serif", "Times New Roman", serif' font-size="13.50" text-rendering="geometricPrecision" font-style="italic" textLength="7.71" lengthAdjust="spacingAndGlyphs" fill="#000">Q</text><text x="411.31" y="536.60" font-family='"Liberation Serif", "Times New Roman", serif' font-size="10.00" text-rendering="geometricPrecision" stroke="#000" stroke-width="0.12" textLength="7.28" lengthAdjust="spacingAndGlyphs" fill="#000">=</text><text x="420.92" y="537.50" font-family='"Liberation Serif", "Times New Roman", serif' font-size="13.50" text-rendering="geometricPrecision" textLength="10.66" lengthAdjust="spacingAndGlyphs" fill="#000">7,</text><text x="433.14" y="537.50" font-family='"Liberation Serif", "Times New Roman", serif' font-size="13.50" text-rendering="geometricPrecision" textLength="35.62" lengthAdjust="spacingAndGlyphs" fill="#000">CDAR</text></svg></body></html>
